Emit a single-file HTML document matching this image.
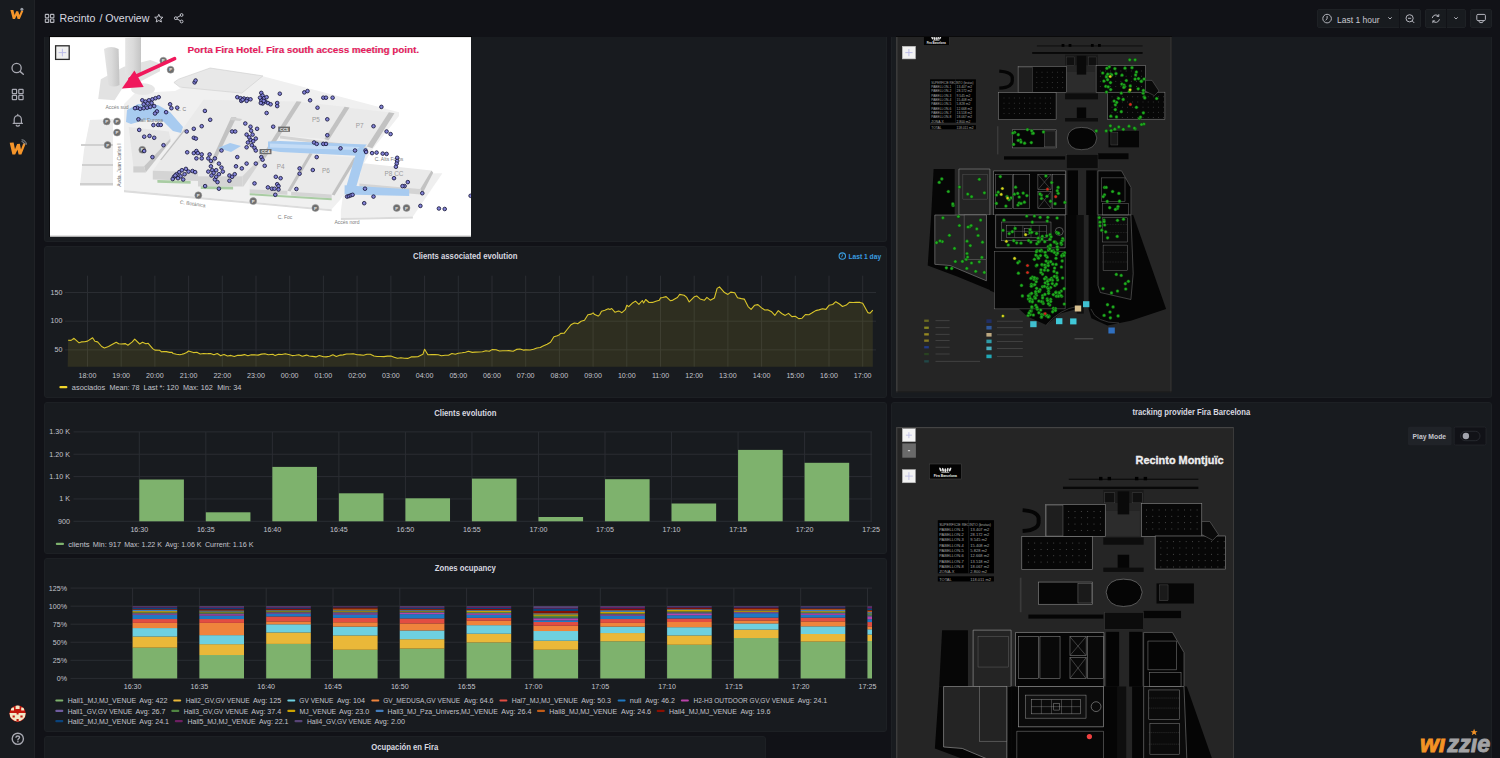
<!DOCTYPE html>
<html><head><meta charset="utf-8">
<style>
*{box-sizing:border-box;margin:0;padding:0}
html,body{width:1500px;height:758px;overflow:hidden;background:#111217;font-family:"Liberation Sans",sans-serif;color:#ccccdc}
.abs{position:absolute}
#side{position:absolute;left:0;top:0;width:35px;height:758px;background:#181b1f;border-right:1px solid #202226}
.panel{position:absolute;background:#181b1f;border:1px solid #1d2024;border-radius:3px;overflow:hidden}
.ptitle{position:absolute;left:0;right:0;text-align:center;font-weight:700;font-size:7.6px;color:#d8d9e0;white-space:nowrap}
.btn{position:absolute;background:#181b1f;border:1px solid #1e2125;border-radius:2px}
.tx{position:absolute;white-space:nowrap}
</style></head>
<body>
<!-- sidebar -->
<div id="side">
<svg width="35" height="758" viewBox="0 0 35 758" style="position:absolute;left:0;top:0">
 <!-- top W logo -->
 <path d="M10.4,10 L13.4,10 L14.6,15 L16.2,11.2 L18.2,11.2 L19.4,15 L21.2,10.6 L23.4,10.8 L19.8,19 L17.6,19 L16.6,15.4 L15,19 L12.8,19 Z" fill="#f5952a"/>
 <circle cx="21.9" cy="9.2" r="1.5" fill="#9aa0a8"/>
 <!-- search -->
 <circle cx="16.6" cy="68" r="4.6" fill="none" stroke="#a8a9b2" stroke-width="1.3"/>
 <line x1="20" y1="71.4" x2="23.3" y2="74.3" stroke="#a8a9b2" stroke-width="1.4" stroke-linecap="round"/>
 <!-- grid -->
 <g fill="none" stroke="#a8a9b2" stroke-width="1.2">
  <rect x="12.3" y="89.4" width="4.3" height="4.3" rx="0.6"/>
  <rect x="18.8" y="89.4" width="4.3" height="4.3" rx="0.6"/>
  <rect x="12.3" y="95.4" width="4.3" height="4.3" rx="0.6"/>
  <rect x="18.8" y="95.4" width="4.3" height="4.3" rx="0.6"/>
 </g>
 <!-- bell -->
 <path d="M14.2,123.2 L14.2,119.6 C14.2,117.4 15.8,115.6 17.8,115.6 C19.8,115.6 21.4,117.4 21.4,119.6 L21.4,123.2 M13.2,123.4 L22.4,123.4 M16.2,125.2 C16.6,126.4 19,126.4 19.4,125.2 M17.8,114.4 L17.8,115.4" fill="none" stroke="#a8a9b2" stroke-width="1.2" stroke-linecap="round" stroke-linejoin="round"/>
 <!-- wizzie W -->
 <path d="M9.7,142.8 L13.6,142.4 L15,149.2 L17.1,144 L19.8,143.8 L21,149.6 L23.2,143.4 L25.8,143.6 L21.4,154.6 L18.6,154.6 L17.5,149.8 L15.2,154.6 L12.4,154.6 Z" fill="#f5952a"/>
 <path d="M21.6,141.6 A3,3 0 0 1 24.6,144.6 M21.6,139.8 A4.8,4.8 0 0 1 26.4,144.6" fill="none" stroke="#9aa0a8" stroke-width="0.9"/>
 <!-- avatar -->
 <defs><clipPath id="av"><circle cx="17.6" cy="713.4" r="8"/></clipPath></defs>
 <circle cx="17.6" cy="713.6" r="8.2" fill="#c4180c"/>
 <g clip-path="url(#av)" fill="#f2e7c6">
  <rect x="15.6" y="705" width="4" height="4"/>
  <rect x="11" y="707.5" width="3" height="3"/><rect x="21.2" y="707.5" width="3" height="3"/>
  <rect x="9" y="713" width="17.5" height="9"/>
 </g>
 <g fill="#c4180c">
  <rect x="16.6" y="711.5" width="2" height="3"/>
  <rect x="12.6" y="715.5" width="2.2" height="2"/><rect x="20.4" y="715.5" width="2.2" height="2"/>
  <rect x="16.5" y="719" width="2.2" height="2.5"/>
 </g>
 <!-- help -->
 <circle cx="17.8" cy="738.8" r="5.6" fill="none" stroke="#a8a9b2" stroke-width="1.4"/>
 <path d="M16,737.3 C16,735.5 19.6,735.5 19.6,737.3 C19.6,738.5 17.9,738.5 17.9,739.9" fill="none" stroke="#a8a9b2" stroke-width="1.35" stroke-linecap="round"/>
 <circle cx="17.9" cy="741.7" r="0.8" fill="#a8a9b2"/>
</svg>
</div>

<!-- top bar -->
<div class="tx" style="left:59.5px;top:12px;font-size:10.6px;color:#d8d9e0">Recinto <span style="margin-left:1px">/ Overview</span></div>

<svg class="abs" style="left:40px;top:8px" width="150" height="22" viewBox="40 8 150 22">
 <g fill="none" stroke="#b4b5bd" stroke-width="1.1">
  <rect x="45.3" y="14.4" width="3.4" height="3.4" rx="0.5"/><rect x="50.5" y="14.4" width="3.4" height="3.4" rx="0.5"/>
  <rect x="45.3" y="19" width="3.4" height="3.4" rx="0.5"/><rect x="50.5" y="19" width="3.4" height="3.4" rx="0.5"/>
 </g>
 <path d="M158.8,14.3 L160,17 L162.9,17.3 L160.7,19.2 L161.4,22 L158.8,20.5 L156.2,22 L156.9,19.2 L154.7,17.3 L157.6,17 Z" fill="none" stroke="#c4c5cd" stroke-width="1" stroke-linejoin="round"/>
 <g fill="none" stroke="#c4c5cd" stroke-width="1">
  <circle cx="181.6" cy="15" r="1.4"/><circle cx="181.6" cy="21.5" r="1.4"/><circle cx="175.8" cy="18.2" r="1.4"/>
  <line x1="177" y1="17.5" x2="180.4" y2="15.7"/><line x1="177" y1="18.9" x2="180.4" y2="20.8"/>
 </g>
</svg>
<!-- time picker group -->
<div class="btn" style="left:1317px;top:9px;width:104px;height:19px"></div>
<div class="abs" style="left:1399px;top:9px;width:1px;height:19px;background:#111217"></div>
<div class="btn" style="left:1425px;top:9px;width:41px;height:19px"></div>
<div class="abs" style="left:1446px;top:9px;width:1px;height:19px;background:#111217"></div>
<div class="btn" style="left:1470px;top:9px;width:22px;height:19px"></div>
<div class="tx" style="left:1337px;top:14.6px;font-size:8.5px;color:#c8c9d1">Last 1 hour</div>
<svg class="abs" style="left:1317px;top:9px" width="176" height="19" viewBox="1317 9 176 19">
 <g fill="none" stroke="#b4b5bd" stroke-width="1">
  <circle cx="1327.1" cy="18.6" r="4.3"/><path d="M1327.1,16 L1327.1,18.8 L1325.6,20.2"/>
  <path d="M1388.6,17.6 L1390,19 L1391.4,17.6" stroke-linecap="round"/>
  <circle cx="1409.6" cy="18.3" r="3.6"/><line x1="1408" y1="18.3" x2="1411.2" y2="18.3"/><line x1="1412.3" y1="21" x2="1414" y2="22.7" stroke-linecap="round"/>
  <path d="M1432.3,17.7 A3.7,3.7 0 0 1 1438.7,16.2 M1439.4,19.6 A3.7,3.7 0 0 1 1433,21.1" stroke-linecap="round"/>
  <path d="M1438.8,14.6 L1438.8,16.4 L1437,16.4 M1432.9,22.7 L1432.9,20.9 L1434.7,20.9" stroke-linecap="round" stroke-linejoin="round"/>
  <path d="M1454.6,17.6 L1456,19 L1457.4,17.6" stroke-linecap="round"/>
  <rect x="1476.8" y="14.4" width="8.6" height="6.2" rx="1.2"/>
  <path d="M1478.6,20.6 L1479.8,22.6 L1482.4,22.6 L1483.6,20.6"/>
 </g>
</svg>

<!-- left column panels -->
<div class="panel" id="p1" style="left:44px;top:37px;width:843px;height:205px;border-top:none;border-top-left-radius:0;border-top-right-radius:0"></div>
<div class="panel" id="p2" style="left:44px;top:246px;width:843px;height:152px"></div>
<div class="panel" id="p3" style="left:44px;top:402px;width:843px;height:152px"></div>
<div class="panel" id="p4" style="left:44px;top:558px;width:843px;height:174px"></div>
<div class="panel" id="p5" style="left:44px;top:736px;width:722px;height:40px"></div>
<!-- right column -->
<div class="panel" id="p6" style="left:891px;top:37px;width:601px;height:361px;border-top:none;border-top-left-radius:0;border-top-right-radius:0"></div>
<div class="panel" id="p7" style="left:891px;top:402px;width:601px;height:380px"></div>

<svg class="abs" style="left:0;top:0" width="1500" height="758" viewBox="0 0 1500 758" font-family="Liberation Sans, sans-serif">
<text x="413.1" y="259.05" font-size="8.2" fill="#d8d9e0" text-anchor="start" font-weight="700" textLength="104.4" lengthAdjust="spacingAndGlyphs">Clients associated evolution</text>
<circle cx="842.3" cy="256.1" r="3.2" fill="none" stroke="#3a9de0" stroke-width="1.1"/><path d="M842.3,254.3 L842.3,256.3 L841.1,257" fill="none" stroke="#3a9de0" stroke-width="0.9"/>
<text x="848.5" y="259.10" font-size="7.5" fill="#3a9de0" text-anchor="start" font-weight="700" textLength="32.6" lengthAdjust="spacingAndGlyphs">Last 1 day</text>
<line x1="64.8" y1="292.5" x2="876" y2="292.5" stroke="#2a2d32" stroke-width="1"/>
<text x="62.4" y="294.57" font-size="7.7" fill="#c3c4cc" text-anchor="end" textLength="11.84" lengthAdjust="spacingAndGlyphs">150</text>
<line x1="64.8" y1="321.2" x2="876" y2="321.2" stroke="#2a2d32" stroke-width="1"/>
<text x="62.4" y="323.27" font-size="7.7" fill="#c3c4cc" text-anchor="end" textLength="11.84" lengthAdjust="spacingAndGlyphs">100</text>
<line x1="64.8" y1="349.9" x2="876" y2="349.9" stroke="#2a2d32" stroke-width="1"/>
<text x="62.4" y="351.97" font-size="7.7" fill="#c3c4cc" text-anchor="end" textLength="7.90" lengthAdjust="spacingAndGlyphs">50</text>
<line x1="87.5" y1="275.7" x2="87.5" y2="366.7" stroke="#2a2d32" stroke-width="1"/>
<text x="87.5" y="377.77" font-size="7.7" fill="#c3c4cc" text-anchor="middle" textLength="17.77" lengthAdjust="spacingAndGlyphs">18:00</text>
<line x1="121.2" y1="275.7" x2="121.2" y2="366.7" stroke="#2a2d32" stroke-width="1"/>
<text x="121.2" y="377.77" font-size="7.7" fill="#c3c4cc" text-anchor="middle" textLength="17.77" lengthAdjust="spacingAndGlyphs">19:00</text>
<line x1="154.9" y1="275.7" x2="154.9" y2="366.7" stroke="#2a2d32" stroke-width="1"/>
<text x="154.9" y="377.77" font-size="7.7" fill="#c3c4cc" text-anchor="middle" textLength="17.77" lengthAdjust="spacingAndGlyphs">20:00</text>
<line x1="188.6" y1="275.7" x2="188.6" y2="366.7" stroke="#2a2d32" stroke-width="1"/>
<text x="188.6" y="377.77" font-size="7.7" fill="#c3c4cc" text-anchor="middle" textLength="17.77" lengthAdjust="spacingAndGlyphs">21:00</text>
<line x1="222.3" y1="275.7" x2="222.3" y2="366.7" stroke="#2a2d32" stroke-width="1"/>
<text x="222.3" y="377.77" font-size="7.7" fill="#c3c4cc" text-anchor="middle" textLength="17.77" lengthAdjust="spacingAndGlyphs">22:00</text>
<line x1="256.0" y1="275.7" x2="256.0" y2="366.7" stroke="#2a2d32" stroke-width="1"/>
<text x="256.0" y="377.77" font-size="7.7" fill="#c3c4cc" text-anchor="middle" textLength="17.77" lengthAdjust="spacingAndGlyphs">23:00</text>
<line x1="289.7" y1="275.7" x2="289.7" y2="366.7" stroke="#2a2d32" stroke-width="1"/>
<text x="289.7" y="377.77" font-size="7.7" fill="#c3c4cc" text-anchor="middle" textLength="17.77" lengthAdjust="spacingAndGlyphs">00:00</text>
<line x1="323.4" y1="275.7" x2="323.4" y2="366.7" stroke="#2a2d32" stroke-width="1"/>
<text x="323.4" y="377.77" font-size="7.7" fill="#c3c4cc" text-anchor="middle" textLength="17.77" lengthAdjust="spacingAndGlyphs">01:00</text>
<line x1="357.1" y1="275.7" x2="357.1" y2="366.7" stroke="#2a2d32" stroke-width="1"/>
<text x="357.1" y="377.77" font-size="7.7" fill="#c3c4cc" text-anchor="middle" textLength="17.77" lengthAdjust="spacingAndGlyphs">02:00</text>
<line x1="390.9" y1="275.7" x2="390.9" y2="366.7" stroke="#2a2d32" stroke-width="1"/>
<text x="390.9" y="377.77" font-size="7.7" fill="#c3c4cc" text-anchor="middle" textLength="17.77" lengthAdjust="spacingAndGlyphs">03:00</text>
<line x1="424.6" y1="275.7" x2="424.6" y2="366.7" stroke="#2a2d32" stroke-width="1"/>
<text x="424.6" y="377.77" font-size="7.7" fill="#c3c4cc" text-anchor="middle" textLength="17.77" lengthAdjust="spacingAndGlyphs">04:00</text>
<line x1="458.3" y1="275.7" x2="458.3" y2="366.7" stroke="#2a2d32" stroke-width="1"/>
<text x="458.3" y="377.77" font-size="7.7" fill="#c3c4cc" text-anchor="middle" textLength="17.77" lengthAdjust="spacingAndGlyphs">05:00</text>
<line x1="492.0" y1="275.7" x2="492.0" y2="366.7" stroke="#2a2d32" stroke-width="1"/>
<text x="492.0" y="377.77" font-size="7.7" fill="#c3c4cc" text-anchor="middle" textLength="17.77" lengthAdjust="spacingAndGlyphs">06:00</text>
<line x1="525.7" y1="275.7" x2="525.7" y2="366.7" stroke="#2a2d32" stroke-width="1"/>
<text x="525.7" y="377.77" font-size="7.7" fill="#c3c4cc" text-anchor="middle" textLength="17.77" lengthAdjust="spacingAndGlyphs">07:00</text>
<line x1="559.4" y1="275.7" x2="559.4" y2="366.7" stroke="#2a2d32" stroke-width="1"/>
<text x="559.4" y="377.77" font-size="7.7" fill="#c3c4cc" text-anchor="middle" textLength="17.77" lengthAdjust="spacingAndGlyphs">08:00</text>
<line x1="593.1" y1="275.7" x2="593.1" y2="366.7" stroke="#2a2d32" stroke-width="1"/>
<text x="593.1" y="377.77" font-size="7.7" fill="#c3c4cc" text-anchor="middle" textLength="17.77" lengthAdjust="spacingAndGlyphs">09:00</text>
<line x1="626.8" y1="275.7" x2="626.8" y2="366.7" stroke="#2a2d32" stroke-width="1"/>
<text x="626.8" y="377.77" font-size="7.7" fill="#c3c4cc" text-anchor="middle" textLength="17.77" lengthAdjust="spacingAndGlyphs">10:00</text>
<line x1="660.5" y1="275.7" x2="660.5" y2="366.7" stroke="#2a2d32" stroke-width="1"/>
<text x="660.5" y="377.77" font-size="7.7" fill="#c3c4cc" text-anchor="middle" textLength="17.24" lengthAdjust="spacingAndGlyphs">11:00</text>
<line x1="694.2" y1="275.7" x2="694.2" y2="366.7" stroke="#2a2d32" stroke-width="1"/>
<text x="694.2" y="377.77" font-size="7.7" fill="#c3c4cc" text-anchor="middle" textLength="17.77" lengthAdjust="spacingAndGlyphs">12:00</text>
<line x1="727.9" y1="275.7" x2="727.9" y2="366.7" stroke="#2a2d32" stroke-width="1"/>
<text x="727.9" y="377.77" font-size="7.7" fill="#c3c4cc" text-anchor="middle" textLength="17.77" lengthAdjust="spacingAndGlyphs">13:00</text>
<line x1="761.6" y1="275.7" x2="761.6" y2="366.7" stroke="#2a2d32" stroke-width="1"/>
<text x="761.6" y="377.77" font-size="7.7" fill="#c3c4cc" text-anchor="middle" textLength="17.77" lengthAdjust="spacingAndGlyphs">14:00</text>
<line x1="795.3" y1="275.7" x2="795.3" y2="366.7" stroke="#2a2d32" stroke-width="1"/>
<text x="795.3" y="377.77" font-size="7.7" fill="#c3c4cc" text-anchor="middle" textLength="17.77" lengthAdjust="spacingAndGlyphs">15:00</text>
<line x1="829.0" y1="275.7" x2="829.0" y2="366.7" stroke="#2a2d32" stroke-width="1"/>
<text x="829.0" y="377.77" font-size="7.7" fill="#c3c4cc" text-anchor="middle" textLength="17.77" lengthAdjust="spacingAndGlyphs">16:00</text>
<line x1="862.7" y1="275.7" x2="862.7" y2="366.7" stroke="#2a2d32" stroke-width="1"/>
<text x="862.7" y="377.77" font-size="7.7" fill="#c3c4cc" text-anchor="middle" textLength="17.77" lengthAdjust="spacingAndGlyphs">17:00</text>
<polygon points="67.7,366.7 68.1,340.3 71.1,340.4 74.0,338.3 79.1,342.8 81.3,341.9 84.7,341.7 87.5,341.1 92.6,337.8 94.9,341.2 97.6,341.9 101.7,346.5 104.4,348.0 108.5,346.4 111.1,345.0 116.2,342.2 118.7,343.8 121.2,344.0 125.5,343.6 127.9,345.2 132.3,341.9 134.7,339.1 139.7,344.0 142.5,342.3 145.9,343.8 148.2,343.3 152.7,348.6 154.9,350.1 159.5,350.3 161.7,351.9 162.9,351.5 166.3,351.6 169.7,352.4 171.8,352.2 173.1,353.5 176.5,354.3 179.9,354.7 181.9,354.3 183.3,353.9 186.7,352.5 188.6,351.0 190.1,351.5 193.5,352.6 196.9,352.3 198.7,353.2 200.3,354.0 203.7,353.5 207.1,353.8 208.8,353.6 210.5,353.5 213.9,354.8 217.3,353.5 220.7,355.8 222.3,355.1 224.1,354.5 227.5,356.0 230.9,355.4 234.3,356.5 237.7,355.2 239.2,355.4 241.1,355.4 244.5,354.6 247.9,355.8 251.3,354.8 254.7,354.9 256.0,355.0 258.1,355.1 261.5,354.1 264.9,353.7 268.3,354.7 272.9,354.3 275.1,355.6 278.5,354.2 281.9,354.5 285.3,353.8 289.7,354.8 292.1,355.6 295.5,355.3 298.9,354.7 302.3,356.2 306.6,355.1 309.1,356.0 312.5,356.4 315.9,356.9 319.3,355.5 323.4,356.8 326.1,356.9 329.5,356.2 332.9,354.8 336.3,356.4 340.3,355.1 343.1,354.9 346.5,354.0 349.9,354.0 353.3,353.8 357.1,354.7 360.1,354.9 363.5,355.2 366.9,354.3 370.3,354.3 374.0,356.0 377.1,356.5 380.5,356.5 383.9,356.6 387.3,356.1 390.9,356.1 394.1,357.2 397.5,358.3 400.9,357.8 404.3,358.3 407.7,358.4 411.1,356.9 414.5,356.9 417.8,356.8 421.3,354.9 422.9,354.3 424.6,349.2 427.9,354.7 431.5,354.6 434.9,354.5 438.3,354.8 441.4,355.7 445.1,355.2 448.5,355.3 451.9,353.5 455.3,354.3 458.3,353.2 462.1,352.8 465.5,352.3 468.4,351.2 472.3,352.4 475.1,352.1 479.1,352.0 482.5,351.8 485.9,350.8 489.3,351.3 492.0,349.6 496.1,349.8 499.5,351.0 502.9,350.8 506.3,350.7 508.8,350.6 513.1,351.2 516.5,349.4 519.9,349.0 523.3,350.1 525.7,349.9 530.1,350.0 533.5,349.3 536.9,348.0 540.3,347.5 542.5,346.2 547.1,344.2 550.5,342.3 553.9,336.8 557.3,335.8 559.4,334.7 560.7,333.4 564.1,333.3 567.5,329.0 570.9,324.8 574.3,323.0 576.2,323.3 577.7,323.8 581.1,321.2 584.5,320.2 587.9,314.8 591.3,314.1 593.1,312.9 594.7,314.6 598.1,316.1 599.8,314.6 601.5,311.2 604.9,310.2 608.3,308.7 609.9,309.4 611.7,308.5 615.1,312.3 618.5,311.1 620.1,311.6 621.9,312.7 625.3,309.7 626.8,305.3 628.7,306.6 632.1,303.3 635.5,301.1 638.9,304.3 642.3,300.5 643.6,303.0 645.7,299.5 649.1,302.5 652.5,302.4 655.9,301.2 659.3,300.3 660.5,297.9 662.7,297.5 666.1,296.6 670.6,300.8 672.9,300.1 677.4,297.5 679.7,294.4 684.1,295.2 686.5,297.1 689.2,301.9 694.2,296.8 696.7,295.9 700.1,298.9 704.3,300.3 706.9,297.4 710.3,300.2 714.4,298.0 717.1,288.4 719.5,286.9 724.5,292.6 727.9,294.4 730.7,292.1 734.7,292.8 737.5,297.8 741.4,298.6 744.3,299.1 748.1,306.6 751.1,309.4 754.5,305.3 757.9,304.6 761.6,307.9 764.7,310.0 768.1,309.9 771.7,311.8 774.9,315.3 778.3,310.6 781.7,313.5 785.2,315.4 788.5,313.4 791.9,316.6 795.3,316.3 798.7,318.6 802.1,318.2 805.4,314.5 808.9,314.7 812.2,312.8 815.7,310.6 818.9,309.9 822.5,308.8 825.9,309.4 829.0,305.3 832.7,304.5 835.8,301.7 839.5,304.0 842.5,306.5 846.3,305.1 849.3,302.4 853.1,302.5 856.0,302.2 859.9,302.4 862.7,303.3 867.8,312.6 870.1,313.2 872.8,310.2 872.8,366.7" fill="rgb(220,200,40)" fill-opacity="0.112"/>
<polyline points="68.1,340.3 71.1,340.4 74.0,338.3 79.1,342.8 81.3,341.9 84.7,341.7 87.5,341.1 92.6,337.8 94.9,341.2 97.6,341.9 101.7,346.5 104.4,348.0 108.5,346.4 111.1,345.0 116.2,342.2 118.7,343.8 121.2,344.0 125.5,343.6 127.9,345.2 132.3,341.9 134.7,339.1 139.7,344.0 142.5,342.3 145.9,343.8 148.2,343.3 152.7,348.6 154.9,350.1 159.5,350.3 161.7,351.9 162.9,351.5 166.3,351.6 169.7,352.4 171.8,352.2 173.1,353.5 176.5,354.3 179.9,354.7 181.9,354.3 183.3,353.9 186.7,352.5 188.6,351.0 190.1,351.5 193.5,352.6 196.9,352.3 198.7,353.2 200.3,354.0 203.7,353.5 207.1,353.8 208.8,353.6 210.5,353.5 213.9,354.8 217.3,353.5 220.7,355.8 222.3,355.1 224.1,354.5 227.5,356.0 230.9,355.4 234.3,356.5 237.7,355.2 239.2,355.4 241.1,355.4 244.5,354.6 247.9,355.8 251.3,354.8 254.7,354.9 256.0,355.0 258.1,355.1 261.5,354.1 264.9,353.7 268.3,354.7 272.9,354.3 275.1,355.6 278.5,354.2 281.9,354.5 285.3,353.8 289.7,354.8 292.1,355.6 295.5,355.3 298.9,354.7 302.3,356.2 306.6,355.1 309.1,356.0 312.5,356.4 315.9,356.9 319.3,355.5 323.4,356.8 326.1,356.9 329.5,356.2 332.9,354.8 336.3,356.4 340.3,355.1 343.1,354.9 346.5,354.0 349.9,354.0 353.3,353.8 357.1,354.7 360.1,354.9 363.5,355.2 366.9,354.3 370.3,354.3 374.0,356.0 377.1,356.5 380.5,356.5 383.9,356.6 387.3,356.1 390.9,356.1 394.1,357.2 397.5,358.3 400.9,357.8 404.3,358.3 407.7,358.4 411.1,356.9 414.5,356.9 417.8,356.8 421.3,354.9 422.9,354.3 424.6,349.2 427.9,354.7 431.5,354.6 434.9,354.5 438.3,354.8 441.4,355.7 445.1,355.2 448.5,355.3 451.9,353.5 455.3,354.3 458.3,353.2 462.1,352.8 465.5,352.3 468.4,351.2 472.3,352.4 475.1,352.1 479.1,352.0 482.5,351.8 485.9,350.8 489.3,351.3 492.0,349.6 496.1,349.8 499.5,351.0 502.9,350.8 506.3,350.7 508.8,350.6 513.1,351.2 516.5,349.4 519.9,349.0 523.3,350.1 525.7,349.9 530.1,350.0 533.5,349.3 536.9,348.0 540.3,347.5 542.5,346.2 547.1,344.2 550.5,342.3 553.9,336.8 557.3,335.8 559.4,334.7 560.7,333.4 564.1,333.3 567.5,329.0 570.9,324.8 574.3,323.0 576.2,323.3 577.7,323.8 581.1,321.2 584.5,320.2 587.9,314.8 591.3,314.1 593.1,312.9 594.7,314.6 598.1,316.1 599.8,314.6 601.5,311.2 604.9,310.2 608.3,308.7 609.9,309.4 611.7,308.5 615.1,312.3 618.5,311.1 620.1,311.6 621.9,312.7 625.3,309.7 626.8,305.3 628.7,306.6 632.1,303.3 635.5,301.1 638.9,304.3 642.3,300.5 643.6,303.0 645.7,299.5 649.1,302.5 652.5,302.4 655.9,301.2 659.3,300.3 660.5,297.9 662.7,297.5 666.1,296.6 670.6,300.8 672.9,300.1 677.4,297.5 679.7,294.4 684.1,295.2 686.5,297.1 689.2,301.9 694.2,296.8 696.7,295.9 700.1,298.9 704.3,300.3 706.9,297.4 710.3,300.2 714.4,298.0 717.1,288.4 719.5,286.9 724.5,292.6 727.9,294.4 730.7,292.1 734.7,292.8 737.5,297.8 741.4,298.6 744.3,299.1 748.1,306.6 751.1,309.4 754.5,305.3 757.9,304.6 761.6,307.9 764.7,310.0 768.1,309.9 771.7,311.8 774.9,315.3 778.3,310.6 781.7,313.5 785.2,315.4 788.5,313.4 791.9,316.6 795.3,316.3 798.7,318.6 802.1,318.2 805.4,314.5 808.9,314.7 812.2,312.8 815.7,310.6 818.9,309.9 822.5,308.8 825.9,309.4 829.0,305.3 832.7,304.5 835.8,301.7 839.5,304.0 842.5,306.5 846.3,305.1 849.3,302.4 853.1,302.5 856.0,302.2 859.9,302.4 862.7,303.3 867.8,312.6 870.1,313.2 872.8,310.2" fill="none" stroke="#d9c52a" stroke-width="1.1" stroke-linejoin="round"/>
<rect x="59.4" y="386" width="8" height="2.2" rx="1" fill="#f2d62b"/>
<text x="434.2" y="415.55" font-size="8.2" fill="#d8d9e0" text-anchor="start" font-weight="700" textLength="62.2" lengthAdjust="spacingAndGlyphs">Clients evolution</text>
<line x1="73.5" y1="431.9" x2="872.1" y2="431.9" stroke="#2a2d32" stroke-width="1"/>
<text x="69.9" y="434.37" font-size="7.7" fill="#c3c4cc" text-anchor="end" textLength="20.53" lengthAdjust="spacingAndGlyphs">1.30 K</text>
<line x1="73.5" y1="454.25" x2="872.1" y2="454.25" stroke="#2a2d32" stroke-width="1"/>
<text x="69.9" y="456.72" font-size="7.7" fill="#c3c4cc" text-anchor="end" textLength="20.53" lengthAdjust="spacingAndGlyphs">1.20 K</text>
<line x1="73.5" y1="476.6" x2="872.1" y2="476.6" stroke="#2a2d32" stroke-width="1"/>
<text x="69.9" y="479.07" font-size="7.7" fill="#c3c4cc" text-anchor="end" textLength="20.53" lengthAdjust="spacingAndGlyphs">1.10 K</text>
<line x1="73.5" y1="498.95" x2="872.1" y2="498.95" stroke="#2a2d32" stroke-width="1"/>
<text x="69.9" y="501.42" font-size="7.7" fill="#c3c4cc" text-anchor="end" textLength="10.66" lengthAdjust="spacingAndGlyphs">1 K</text>
<line x1="73.5" y1="521.3" x2="872.1" y2="521.3" stroke="#2a2d32" stroke-width="1"/>
<text x="69.9" y="523.77" font-size="7.7" fill="#c3c4cc" text-anchor="end" textLength="11.84" lengthAdjust="spacingAndGlyphs">900</text>
<line x1="139.3" y1="431.9" x2="139.3" y2="521.3" stroke="#2a2d32" stroke-width="1"/>
<text x="139.3" y="532.07" font-size="7.7" fill="#c3c4cc" text-anchor="middle" textLength="17.77" lengthAdjust="spacingAndGlyphs">16:30</text>
<line x1="205.83" y1="431.9" x2="205.83" y2="521.3" stroke="#2a2d32" stroke-width="1"/>
<text x="205.8" y="532.07" font-size="7.7" fill="#c3c4cc" text-anchor="middle" textLength="17.77" lengthAdjust="spacingAndGlyphs">16:35</text>
<line x1="272.36" y1="431.9" x2="272.36" y2="521.3" stroke="#2a2d32" stroke-width="1"/>
<text x="272.4" y="532.07" font-size="7.7" fill="#c3c4cc" text-anchor="middle" textLength="17.77" lengthAdjust="spacingAndGlyphs">16:40</text>
<line x1="338.89" y1="431.9" x2="338.89" y2="521.3" stroke="#2a2d32" stroke-width="1"/>
<text x="338.9" y="532.07" font-size="7.7" fill="#c3c4cc" text-anchor="middle" textLength="17.77" lengthAdjust="spacingAndGlyphs">16:45</text>
<line x1="405.42" y1="431.9" x2="405.42" y2="521.3" stroke="#2a2d32" stroke-width="1"/>
<text x="405.4" y="532.07" font-size="7.7" fill="#c3c4cc" text-anchor="middle" textLength="17.77" lengthAdjust="spacingAndGlyphs">16:50</text>
<line x1="471.95" y1="431.9" x2="471.95" y2="521.3" stroke="#2a2d32" stroke-width="1"/>
<text x="471.9" y="532.07" font-size="7.7" fill="#c3c4cc" text-anchor="middle" textLength="17.77" lengthAdjust="spacingAndGlyphs">16:55</text>
<line x1="538.48" y1="431.9" x2="538.48" y2="521.3" stroke="#2a2d32" stroke-width="1"/>
<text x="538.5" y="532.07" font-size="7.7" fill="#c3c4cc" text-anchor="middle" textLength="17.77" lengthAdjust="spacingAndGlyphs">17:00</text>
<line x1="605.01" y1="431.9" x2="605.01" y2="521.3" stroke="#2a2d32" stroke-width="1"/>
<text x="605.0" y="532.07" font-size="7.7" fill="#c3c4cc" text-anchor="middle" textLength="17.77" lengthAdjust="spacingAndGlyphs">17:05</text>
<line x1="671.54" y1="431.9" x2="671.54" y2="521.3" stroke="#2a2d32" stroke-width="1"/>
<text x="671.5" y="532.07" font-size="7.7" fill="#c3c4cc" text-anchor="middle" textLength="17.77" lengthAdjust="spacingAndGlyphs">17:10</text>
<line x1="738.07" y1="431.9" x2="738.07" y2="521.3" stroke="#2a2d32" stroke-width="1"/>
<text x="738.1" y="532.07" font-size="7.7" fill="#c3c4cc" text-anchor="middle" textLength="17.77" lengthAdjust="spacingAndGlyphs">17:15</text>
<line x1="804.6" y1="431.9" x2="804.6" y2="521.3" stroke="#2a2d32" stroke-width="1"/>
<text x="804.6" y="532.07" font-size="7.7" fill="#c3c4cc" text-anchor="middle" textLength="17.77" lengthAdjust="spacingAndGlyphs">17:20</text>
<line x1="871.13" y1="431.9" x2="871.13" y2="521.3" stroke="#2a2d32" stroke-width="1"/>
<text x="871.1" y="532.07" font-size="7.7" fill="#c3c4cc" text-anchor="middle" textLength="17.77" lengthAdjust="spacingAndGlyphs">17:25</text>
<rect x="139.3" y="479.5" width="44.6" height="41.8" fill="#7eb26d"/>
<rect x="205.83" y="512.3" width="44.6" height="9.0" fill="#7eb26d"/>
<rect x="272.36" y="466.9" width="44.6" height="54.4" fill="#7eb26d"/>
<rect x="338.89" y="493.3" width="44.6" height="28.0" fill="#7eb26d"/>
<rect x="405.42" y="498.3" width="44.6" height="23.0" fill="#7eb26d"/>
<rect x="471.95" y="478.6" width="44.6" height="42.7" fill="#7eb26d"/>
<rect x="538.48" y="517" width="44.6" height="4.3" fill="#7eb26d"/>
<rect x="605.01" y="479.2" width="44.6" height="42.1" fill="#7eb26d"/>
<rect x="671.54" y="503.5" width="44.6" height="17.8" fill="#7eb26d"/>
<rect x="738.07" y="449.9" width="44.6" height="71.4" fill="#7eb26d"/>
<rect x="804.6" y="462.8" width="44.6" height="58.5" fill="#7eb26d"/>
<rect x="55.8" y="542.8" width="8.2" height="2.2" rx="1" fill="#7eb26d"/>
<text x="434.8" y="571.45" font-size="8.2" fill="#d8d9e0" text-anchor="start" font-weight="700" textLength="61.0" lengthAdjust="spacingAndGlyphs">Zones ocupancy</text>
<line x1="70.5" y1="588.1" x2="872" y2="588.1" stroke="#2a2d32" stroke-width="1"/>
<text x="67.0" y="590.57" font-size="7.7" fill="#c3c4cc" text-anchor="end" textLength="18.16" lengthAdjust="spacingAndGlyphs">125%</text>
<line x1="70.5" y1="606.15" x2="872" y2="606.15" stroke="#2a2d32" stroke-width="1"/>
<text x="67.0" y="608.62" font-size="7.7" fill="#c3c4cc" text-anchor="end" textLength="18.16" lengthAdjust="spacingAndGlyphs">100%</text>
<line x1="70.5" y1="624.2" x2="872" y2="624.2" stroke="#2a2d32" stroke-width="1"/>
<text x="67.0" y="626.67" font-size="7.7" fill="#c3c4cc" text-anchor="end" textLength="14.21" lengthAdjust="spacingAndGlyphs">75%</text>
<line x1="70.5" y1="642.25" x2="872" y2="642.25" stroke="#2a2d32" stroke-width="1"/>
<text x="67.0" y="644.72" font-size="7.7" fill="#c3c4cc" text-anchor="end" textLength="14.21" lengthAdjust="spacingAndGlyphs">50%</text>
<line x1="70.5" y1="660.3" x2="872" y2="660.3" stroke="#2a2d32" stroke-width="1"/>
<text x="67.0" y="662.77" font-size="7.7" fill="#c3c4cc" text-anchor="end" textLength="14.21" lengthAdjust="spacingAndGlyphs">25%</text>
<line x1="70.5" y1="678.4" x2="872" y2="678.4" stroke="#2a2d32" stroke-width="1"/>
<text x="67.0" y="680.87" font-size="7.7" fill="#c3c4cc" text-anchor="end" textLength="10.26" lengthAdjust="spacingAndGlyphs">0%</text>
<line x1="132.6" y1="588.1" x2="132.6" y2="678.4" stroke="#2a2d32" stroke-width="1"/>
<text x="132.6" y="688.87" font-size="7.7" fill="#c3c4cc" text-anchor="middle" textLength="17.77" lengthAdjust="spacingAndGlyphs">16:30</text>
<line x1="199.4" y1="588.1" x2="199.4" y2="678.4" stroke="#2a2d32" stroke-width="1"/>
<text x="199.4" y="688.87" font-size="7.7" fill="#c3c4cc" text-anchor="middle" textLength="17.77" lengthAdjust="spacingAndGlyphs">16:35</text>
<line x1="266.2" y1="588.1" x2="266.2" y2="678.4" stroke="#2a2d32" stroke-width="1"/>
<text x="266.2" y="688.87" font-size="7.7" fill="#c3c4cc" text-anchor="middle" textLength="17.77" lengthAdjust="spacingAndGlyphs">16:40</text>
<line x1="333.0" y1="588.1" x2="333.0" y2="678.4" stroke="#2a2d32" stroke-width="1"/>
<text x="333.0" y="688.87" font-size="7.7" fill="#c3c4cc" text-anchor="middle" textLength="17.77" lengthAdjust="spacingAndGlyphs">16:45</text>
<line x1="399.8" y1="588.1" x2="399.8" y2="678.4" stroke="#2a2d32" stroke-width="1"/>
<text x="399.8" y="688.87" font-size="7.7" fill="#c3c4cc" text-anchor="middle" textLength="17.77" lengthAdjust="spacingAndGlyphs">16:50</text>
<line x1="466.6" y1="588.1" x2="466.6" y2="678.4" stroke="#2a2d32" stroke-width="1"/>
<text x="466.6" y="688.87" font-size="7.7" fill="#c3c4cc" text-anchor="middle" textLength="17.77" lengthAdjust="spacingAndGlyphs">16:55</text>
<line x1="533.5" y1="588.1" x2="533.5" y2="678.4" stroke="#2a2d32" stroke-width="1"/>
<text x="533.5" y="688.87" font-size="7.7" fill="#c3c4cc" text-anchor="middle" textLength="17.77" lengthAdjust="spacingAndGlyphs">17:00</text>
<line x1="600.3" y1="588.1" x2="600.3" y2="678.4" stroke="#2a2d32" stroke-width="1"/>
<text x="600.3" y="688.87" font-size="7.7" fill="#c3c4cc" text-anchor="middle" textLength="17.77" lengthAdjust="spacingAndGlyphs">17:05</text>
<line x1="667.1" y1="588.1" x2="667.1" y2="678.4" stroke="#2a2d32" stroke-width="1"/>
<text x="667.1" y="688.87" font-size="7.7" fill="#c3c4cc" text-anchor="middle" textLength="17.77" lengthAdjust="spacingAndGlyphs">17:10</text>
<line x1="733.9" y1="588.1" x2="733.9" y2="678.4" stroke="#2a2d32" stroke-width="1"/>
<text x="733.9" y="688.87" font-size="7.7" fill="#c3c4cc" text-anchor="middle" textLength="17.77" lengthAdjust="spacingAndGlyphs">17:15</text>
<line x1="800.7" y1="588.1" x2="800.7" y2="678.4" stroke="#2a2d32" stroke-width="1"/>
<text x="800.7" y="688.87" font-size="7.7" fill="#c3c4cc" text-anchor="middle" textLength="17.77" lengthAdjust="spacingAndGlyphs">17:20</text>
<line x1="867.5" y1="588.1" x2="867.5" y2="678.4" stroke="#2a2d32" stroke-width="1"/>
<text x="867.5" y="688.87" font-size="7.7" fill="#c3c4cc" text-anchor="middle" textLength="17.77" lengthAdjust="spacingAndGlyphs">17:25</text>
<defs><clipPath id="c4"><rect x="69" y="580" width="803" height="100"/></clipPath></defs><g clip-path="url(#c4)">
<rect x="132.6" y="647.62" width="44.6" height="30.83" fill="#7EB26D"/>
<rect x="132.6" y="636.50" width="44.6" height="11.18" fill="#EAB839"/>
<rect x="132.6" y="628.04" width="44.6" height="8.50" fill="#6ED0E0"/>
<rect x="132.6" y="622.84" width="44.6" height="5.25" fill="#EF843C"/>
<rect x="132.6" y="619.01" width="44.6" height="3.88" fill="#E24D42"/>
<rect x="132.6" y="614.96" width="44.6" height="4.10" fill="#1F78C1"/>
<rect x="132.6" y="614.29" width="44.6" height="0.73" fill="#BA43A9"/>
<rect x="132.6" y="613.17" width="44.6" height="1.17" fill="#705DA0"/>
<rect x="132.6" y="612.30" width="44.6" height="0.92" fill="#508642"/>
<rect x="132.6" y="611.09" width="44.6" height="1.26" fill="#CCA300"/>
<rect x="132.6" y="609.85" width="44.6" height="1.29" fill="#447EBC"/>
<rect x="132.6" y="609.43" width="44.6" height="0.48" fill="#C15C17"/>
<rect x="132.6" y="609.07" width="44.6" height="0.40" fill="#890F02"/>
<rect x="132.6" y="607.53" width="44.6" height="1.59" fill="#0A437C"/>
<rect x="132.6" y="606.82" width="44.6" height="0.76" fill="#6D1F62"/>
<rect x="132.6" y="606.15" width="44.6" height="0.72" fill="#584477"/>
<rect x="199.4" y="654.99" width="44.6" height="23.46" fill="#7EB26D"/>
<rect x="199.4" y="644.15" width="44.6" height="10.89" fill="#EAB839"/>
<rect x="199.4" y="635.12" width="44.6" height="9.08" fill="#6ED0E0"/>
<rect x="199.4" y="622.84" width="44.6" height="12.33" fill="#EF843C"/>
<rect x="199.4" y="619.01" width="44.6" height="3.88" fill="#E24D42"/>
<rect x="199.4" y="615.54" width="44.6" height="3.52" fill="#1F78C1"/>
<rect x="199.4" y="614.21" width="44.6" height="1.38" fill="#BA43A9"/>
<rect x="199.4" y="613.45" width="44.6" height="0.81" fill="#705DA0"/>
<rect x="199.4" y="612.29" width="44.6" height="1.21" fill="#508642"/>
<rect x="199.4" y="611.52" width="44.6" height="0.82" fill="#CCA300"/>
<rect x="199.4" y="610.57" width="44.6" height="1.00" fill="#447EBC"/>
<rect x="199.4" y="610.16" width="44.6" height="0.46" fill="#C15C17"/>
<rect x="199.4" y="609.22" width="44.6" height="0.99" fill="#890F02"/>
<rect x="199.4" y="608.03" width="44.6" height="1.24" fill="#0A437C"/>
<rect x="199.4" y="607.21" width="44.6" height="0.87" fill="#6D1F62"/>
<rect x="199.4" y="606.15" width="44.6" height="1.11" fill="#584477"/>
<rect x="266.2" y="643.86" width="44.6" height="34.59" fill="#7EB26D"/>
<rect x="266.2" y="632.45" width="44.6" height="11.47" fill="#EAB839"/>
<rect x="266.2" y="624.28" width="44.6" height="8.21" fill="#6ED0E0"/>
<rect x="266.2" y="621.39" width="44.6" height="2.94" fill="#EF843C"/>
<rect x="266.2" y="616.41" width="44.6" height="5.04" fill="#E24D42"/>
<rect x="266.2" y="613.45" width="44.6" height="3.01" fill="#1F78C1"/>
<rect x="266.2" y="612.59" width="44.6" height="0.91" fill="#BA43A9"/>
<rect x="266.2" y="612.31" width="44.6" height="0.33" fill="#705DA0"/>
<rect x="266.2" y="611.36" width="44.6" height="0.99" fill="#508642"/>
<rect x="266.2" y="610.58" width="44.6" height="0.83" fill="#CCA300"/>
<rect x="266.2" y="610.08" width="44.6" height="0.56" fill="#447EBC"/>
<rect x="266.2" y="609.83" width="44.6" height="0.30" fill="#C15C17"/>
<rect x="266.2" y="608.78" width="44.6" height="1.09" fill="#890F02"/>
<rect x="266.2" y="608.11" width="44.6" height="0.72" fill="#0A437C"/>
<rect x="266.2" y="607.21" width="44.6" height="0.95" fill="#6D1F62"/>
<rect x="266.2" y="606.15" width="44.6" height="1.11" fill="#584477"/>
<rect x="333.0" y="649.72" width="44.6" height="28.73" fill="#7EB26D"/>
<rect x="333.0" y="635.41" width="44.6" height="14.36" fill="#EAB839"/>
<rect x="333.0" y="626.60" width="44.6" height="8.86" fill="#6ED0E0"/>
<rect x="333.0" y="622.26" width="44.6" height="4.38" fill="#EF843C"/>
<rect x="333.0" y="617.85" width="44.6" height="4.46" fill="#E24D42"/>
<rect x="333.0" y="614.46" width="44.6" height="3.45" fill="#1F78C1"/>
<rect x="333.0" y="613.46" width="44.6" height="1.05" fill="#BA43A9"/>
<rect x="333.0" y="612.24" width="44.6" height="1.27" fill="#705DA0"/>
<rect x="333.0" y="611.58" width="44.6" height="0.71" fill="#508642"/>
<rect x="333.0" y="610.48" width="44.6" height="1.14" fill="#CCA300"/>
<rect x="333.0" y="609.77" width="44.6" height="0.77" fill="#447EBC"/>
<rect x="333.0" y="608.53" width="44.6" height="1.28" fill="#C15C17"/>
<rect x="333.0" y="607.36" width="44.6" height="1.22" fill="#890F02"/>
<rect x="333.0" y="607.01" width="44.6" height="0.40" fill="#0A437C"/>
<rect x="333.0" y="606.62" width="44.6" height="0.44" fill="#6D1F62"/>
<rect x="333.0" y="606.15" width="44.6" height="0.52" fill="#584477"/>
<rect x="399.8" y="648.56" width="44.6" height="29.89" fill="#7EB26D"/>
<rect x="399.8" y="639.17" width="44.6" height="9.44" fill="#EAB839"/>
<rect x="399.8" y="630.43" width="44.6" height="8.79" fill="#6ED0E0"/>
<rect x="399.8" y="623.42" width="44.6" height="7.06" fill="#EF843C"/>
<rect x="399.8" y="618.43" width="44.6" height="5.04" fill="#E24D42"/>
<rect x="399.8" y="614.10" width="44.6" height="4.39" fill="#1F78C1"/>
<rect x="399.8" y="612.90" width="44.6" height="1.25" fill="#BA43A9"/>
<rect x="399.8" y="612.24" width="44.6" height="0.72" fill="#705DA0"/>
<rect x="399.8" y="611.38" width="44.6" height="0.91" fill="#508642"/>
<rect x="399.8" y="610.85" width="44.6" height="0.58" fill="#CCA300"/>
<rect x="399.8" y="610.11" width="44.6" height="0.79" fill="#447EBC"/>
<rect x="399.8" y="609.49" width="44.6" height="0.67" fill="#C15C17"/>
<rect x="399.8" y="608.91" width="44.6" height="0.63" fill="#890F02"/>
<rect x="399.8" y="608.10" width="44.6" height="0.87" fill="#0A437C"/>
<rect x="399.8" y="607.28" width="44.6" height="0.86" fill="#6D1F62"/>
<rect x="399.8" y="606.15" width="44.6" height="1.18" fill="#584477"/>
<rect x="466.6" y="642.42" width="44.6" height="36.03" fill="#7EB26D"/>
<rect x="466.6" y="633.68" width="44.6" height="8.79" fill="#EAB839"/>
<rect x="466.6" y="625.15" width="44.6" height="8.58" fill="#6ED0E0"/>
<rect x="466.6" y="620.74" width="44.6" height="4.46" fill="#EF843C"/>
<rect x="466.6" y="617.85" width="44.6" height="2.94" fill="#E24D42"/>
<rect x="466.6" y="614.82" width="44.6" height="3.08" fill="#1F78C1"/>
<rect x="466.6" y="614.02" width="44.6" height="0.85" fill="#BA43A9"/>
<rect x="466.6" y="613.00" width="44.6" height="1.07" fill="#705DA0"/>
<rect x="466.6" y="612.05" width="44.6" height="1.00" fill="#508642"/>
<rect x="466.6" y="610.98" width="44.6" height="1.12" fill="#CCA300"/>
<rect x="466.6" y="610.19" width="44.6" height="0.84" fill="#447EBC"/>
<rect x="466.6" y="609.85" width="44.6" height="0.39" fill="#C15C17"/>
<rect x="466.6" y="608.89" width="44.6" height="1.01" fill="#890F02"/>
<rect x="466.6" y="607.84" width="44.6" height="1.10" fill="#0A437C"/>
<rect x="466.6" y="606.85" width="44.6" height="1.04" fill="#6D1F62"/>
<rect x="466.6" y="606.15" width="44.6" height="0.75" fill="#584477"/>
<rect x="533.5" y="649.72" width="44.6" height="28.73" fill="#7EB26D"/>
<rect x="533.5" y="640.69" width="44.6" height="9.08" fill="#EAB839"/>
<rect x="533.5" y="631.00" width="44.6" height="9.73" fill="#6ED0E0"/>
<rect x="533.5" y="625.73" width="44.6" height="5.32" fill="#EF843C"/>
<rect x="533.5" y="621.97" width="44.6" height="3.81" fill="#E24D42"/>
<rect x="533.5" y="620.24" width="44.6" height="1.78" fill="#1F78C1"/>
<rect x="533.5" y="618.51" width="44.6" height="1.77" fill="#BA43A9"/>
<rect x="533.5" y="617.71" width="44.6" height="0.86" fill="#705DA0"/>
<rect x="533.5" y="615.77" width="44.6" height="1.99" fill="#508642"/>
<rect x="533.5" y="614.30" width="44.6" height="1.52" fill="#CCA300"/>
<rect x="533.5" y="613.36" width="44.6" height="0.99" fill="#447EBC"/>
<rect x="533.5" y="612.82" width="44.6" height="0.59" fill="#C15C17"/>
<rect x="533.5" y="610.84" width="44.6" height="2.03" fill="#890F02"/>
<rect x="533.5" y="608.62" width="44.6" height="2.28" fill="#0A437C"/>
<rect x="533.5" y="608.03" width="44.6" height="0.63" fill="#6D1F62"/>
<rect x="533.5" y="606.15" width="44.6" height="1.93" fill="#584477"/>
<rect x="600.3" y="641.26" width="44.6" height="37.19" fill="#7EB26D"/>
<rect x="600.3" y="633.03" width="44.6" height="8.29" fill="#EAB839"/>
<rect x="600.3" y="626.60" width="44.6" height="6.48" fill="#6ED0E0"/>
<rect x="600.3" y="622.84" width="44.6" height="3.81" fill="#EF843C"/>
<rect x="600.3" y="619.01" width="44.6" height="3.88" fill="#E24D42"/>
<rect x="600.3" y="615.54" width="44.6" height="3.52" fill="#1F78C1"/>
<rect x="600.3" y="614.62" width="44.6" height="0.97" fill="#BA43A9"/>
<rect x="600.3" y="614.08" width="44.6" height="0.60" fill="#705DA0"/>
<rect x="600.3" y="613.33" width="44.6" height="0.80" fill="#508642"/>
<rect x="600.3" y="611.89" width="44.6" height="1.48" fill="#CCA300"/>
<rect x="600.3" y="610.31" width="44.6" height="1.63" fill="#447EBC"/>
<rect x="600.3" y="609.92" width="44.6" height="0.44" fill="#C15C17"/>
<rect x="600.3" y="608.71" width="44.6" height="1.26" fill="#890F02"/>
<rect x="600.3" y="608.31" width="44.6" height="0.44" fill="#0A437C"/>
<rect x="600.3" y="606.95" width="44.6" height="1.41" fill="#6D1F62"/>
<rect x="600.3" y="606.15" width="44.6" height="0.85" fill="#584477"/>
<rect x="667.1" y="644.73" width="44.6" height="33.72" fill="#7EB26D"/>
<rect x="667.1" y="635.41" width="44.6" height="9.37" fill="#EAB839"/>
<rect x="667.1" y="627.17" width="44.6" height="8.29" fill="#6ED0E0"/>
<rect x="667.1" y="621.97" width="44.6" height="5.25" fill="#EF843C"/>
<rect x="667.1" y="618.43" width="44.6" height="3.59" fill="#E24D42"/>
<rect x="667.1" y="615.18" width="44.6" height="3.30" fill="#1F78C1"/>
<rect x="667.1" y="613.81" width="44.6" height="1.43" fill="#BA43A9"/>
<rect x="667.1" y="612.31" width="44.6" height="1.55" fill="#705DA0"/>
<rect x="667.1" y="611.39" width="44.6" height="0.96" fill="#508642"/>
<rect x="667.1" y="609.87" width="44.6" height="1.57" fill="#CCA300"/>
<rect x="667.1" y="609.20" width="44.6" height="0.72" fill="#447EBC"/>
<rect x="667.1" y="608.82" width="44.6" height="0.43" fill="#C15C17"/>
<rect x="667.1" y="607.80" width="44.6" height="1.08" fill="#890F02"/>
<rect x="667.1" y="607.47" width="44.6" height="0.37" fill="#0A437C"/>
<rect x="667.1" y="606.94" width="44.6" height="0.58" fill="#6D1F62"/>
<rect x="667.1" y="606.15" width="44.6" height="0.84" fill="#584477"/>
<rect x="733.9" y="638.01" width="44.6" height="40.44" fill="#7EB26D"/>
<rect x="733.9" y="629.56" width="44.6" height="8.50" fill="#EAB839"/>
<rect x="733.9" y="623.42" width="44.6" height="6.19" fill="#6ED0E0"/>
<rect x="733.9" y="620.46" width="44.6" height="3.01" fill="#EF843C"/>
<rect x="733.9" y="617.57" width="44.6" height="2.94" fill="#E24D42"/>
<rect x="733.9" y="613.16" width="44.6" height="4.46" fill="#1F78C1"/>
<rect x="733.9" y="612.37" width="44.6" height="0.83" fill="#BA43A9"/>
<rect x="733.9" y="612.01" width="44.6" height="0.41" fill="#705DA0"/>
<rect x="733.9" y="611.76" width="44.6" height="0.30" fill="#508642"/>
<rect x="733.9" y="610.73" width="44.6" height="1.07" fill="#CCA300"/>
<rect x="733.9" y="610.22" width="44.6" height="0.56" fill="#447EBC"/>
<rect x="733.9" y="609.11" width="44.6" height="1.16" fill="#C15C17"/>
<rect x="733.9" y="608.06" width="44.6" height="1.10" fill="#890F02"/>
<rect x="733.9" y="607.50" width="44.6" height="0.62" fill="#0A437C"/>
<rect x="733.9" y="606.85" width="44.6" height="0.69" fill="#6D1F62"/>
<rect x="733.9" y="606.15" width="44.6" height="0.75" fill="#584477"/>
<rect x="800.7" y="641.55" width="44.6" height="36.90" fill="#7EB26D"/>
<rect x="800.7" y="633.97" width="44.6" height="7.64" fill="#EAB839"/>
<rect x="800.7" y="626.31" width="44.6" height="7.71" fill="#6ED0E0"/>
<rect x="800.7" y="621.39" width="44.6" height="4.96" fill="#EF843C"/>
<rect x="800.7" y="617.57" width="44.6" height="3.88" fill="#E24D42"/>
<rect x="800.7" y="614.82" width="44.6" height="2.80" fill="#1F78C1"/>
<rect x="800.7" y="613.86" width="44.6" height="1.01" fill="#BA43A9"/>
<rect x="800.7" y="612.94" width="44.6" height="0.96" fill="#705DA0"/>
<rect x="800.7" y="612.07" width="44.6" height="0.92" fill="#508642"/>
<rect x="800.7" y="611.14" width="44.6" height="0.99" fill="#CCA300"/>
<rect x="800.7" y="609.84" width="44.6" height="1.34" fill="#447EBC"/>
<rect x="800.7" y="609.03" width="44.6" height="0.86" fill="#C15C17"/>
<rect x="800.7" y="608.30" width="44.6" height="0.78" fill="#890F02"/>
<rect x="800.7" y="607.25" width="44.6" height="1.10" fill="#0A437C"/>
<rect x="800.7" y="606.74" width="44.6" height="0.57" fill="#6D1F62"/>
<rect x="800.7" y="606.15" width="44.6" height="0.64" fill="#584477"/>
<rect x="867.5" y="640.97" width="44.6" height="37.48" fill="#7EB26D"/>
<rect x="867.5" y="634.54" width="44.6" height="6.48" fill="#EAB839"/>
<rect x="867.5" y="629.27" width="44.6" height="5.32" fill="#6ED0E0"/>
<rect x="867.5" y="626.38" width="44.6" height="2.94" fill="#EF843C"/>
<rect x="867.5" y="622.04" width="44.6" height="4.39" fill="#E24D42"/>
<rect x="867.5" y="619.15" width="44.6" height="2.94" fill="#1F78C1"/>
<rect x="867.5" y="616.81" width="44.6" height="2.40" fill="#BA43A9"/>
<rect x="867.5" y="615.34" width="44.6" height="1.51" fill="#705DA0"/>
<rect x="867.5" y="613.83" width="44.6" height="1.56" fill="#508642"/>
<rect x="867.5" y="613.36" width="44.6" height="0.52" fill="#CCA300"/>
<rect x="867.5" y="612.10" width="44.6" height="1.31" fill="#447EBC"/>
<rect x="867.5" y="610.53" width="44.6" height="1.63" fill="#C15C17"/>
<rect x="867.5" y="610.04" width="44.6" height="0.54" fill="#890F02"/>
<rect x="867.5" y="608.39" width="44.6" height="1.70" fill="#0A437C"/>
<rect x="867.5" y="606.72" width="44.6" height="1.73" fill="#6D1F62"/>
<rect x="867.5" y="606.15" width="44.6" height="0.62" fill="#584477"/>
</g>
<rect x="55.3" y="699.4" width="8" height="2.2" rx="1" fill="#7EB26D"/>
<text x="67.8" y="703.27" font-size="7.7" fill="#c3c4cc" text-anchor="start" textLength="68.4" lengthAdjust="spacingAndGlyphs">Hall1_MJ,MJ_VENUE</text>
<text x="139.3" y="703.27" font-size="7.7" fill="#c3c4cc" text-anchor="start" textLength="28.3" lengthAdjust="spacingAndGlyphs">Avg: 422</text>
<rect x="173.2" y="699.4" width="8" height="2.2" rx="1" fill="#EAB839"/>
<text x="185.7" y="703.27" font-size="7.7" fill="#c3c4cc" text-anchor="start" textLength="64.1" lengthAdjust="spacingAndGlyphs">Hall2_GV,GV VENUE</text>
<text x="252.9" y="703.27" font-size="7.7" fill="#c3c4cc" text-anchor="start" textLength="28.3" lengthAdjust="spacingAndGlyphs">Avg: 125</text>
<rect x="287.3" y="699.4" width="8" height="2.2" rx="1" fill="#6ED0E0"/>
<text x="299.3" y="703.27" font-size="7.7" fill="#c3c4cc" text-anchor="start" textLength="34.2" lengthAdjust="spacingAndGlyphs">GV VENUE</text>
<text x="336.9" y="703.27" font-size="7.7" fill="#c3c4cc" text-anchor="start" textLength="28.1" lengthAdjust="spacingAndGlyphs">Avg: 104</text>
<rect x="371.3" y="699.4" width="8" height="2.2" rx="1" fill="#EF843C"/>
<text x="383.2" y="703.27" font-size="7.7" fill="#c3c4cc" text-anchor="start" textLength="77.0" lengthAdjust="spacingAndGlyphs">GV_MEDUSA,GV VENUE</text>
<text x="464.0" y="703.27" font-size="7.7" fill="#c3c4cc" text-anchor="start" textLength="29.5" lengthAdjust="spacingAndGlyphs">Avg: 64.6</text>
<rect x="499.4" y="699.4" width="8" height="2.2" rx="1" fill="#E24D42"/>
<text x="511.7" y="703.27" font-size="7.7" fill="#c3c4cc" text-anchor="start" textLength="66.1" lengthAdjust="spacingAndGlyphs">Hal7_MJ,MJ_VENUE</text>
<text x="581.2" y="703.27" font-size="7.7" fill="#c3c4cc" text-anchor="start" textLength="29.8" lengthAdjust="spacingAndGlyphs">Avg: 50.3</text>
<rect x="617.6" y="699.4" width="8" height="2.2" rx="1" fill="#1F78C1"/>
<text x="629.8" y="703.27" font-size="7.7" fill="#c3c4cc" text-anchor="start" textLength="11.6" lengthAdjust="spacingAndGlyphs">null</text>
<text x="645.2" y="703.27" font-size="7.7" fill="#c3c4cc" text-anchor="start" textLength="29.7" lengthAdjust="spacingAndGlyphs">Avg: 46.2</text>
<rect x="680.9" y="699.4" width="8" height="2.2" rx="1" fill="#BA43A9"/>
<text x="693.4" y="703.27" font-size="7.7" fill="#c3c4cc" text-anchor="start" textLength="100.9" lengthAdjust="spacingAndGlyphs">H2-H3 OUTDOOR GV,GV VENUE</text>
<text x="797.7" y="703.27" font-size="7.7" fill="#c3c4cc" text-anchor="start" textLength="29.5" lengthAdjust="spacingAndGlyphs">Avg: 24.1</text>
<rect x="55.3" y="709.8" width="8" height="2.2" rx="1" fill="#705DA0"/>
<text x="67.8" y="713.67" font-size="7.7" fill="#c3c4cc" text-anchor="start" textLength="64.4" lengthAdjust="spacingAndGlyphs">Hall1_GV,GV VENUE</text>
<text x="135.6" y="713.67" font-size="7.7" fill="#c3c4cc" text-anchor="start" textLength="29.9" lengthAdjust="spacingAndGlyphs">Avg: 26.7</text>
<rect x="171.3" y="709.8" width="8" height="2.2" rx="1" fill="#508642"/>
<text x="183.8" y="713.67" font-size="7.7" fill="#c3c4cc" text-anchor="start" textLength="64.4" lengthAdjust="spacingAndGlyphs">Hall3_GV,GV VENUE</text>
<text x="251.3" y="713.67" font-size="7.7" fill="#c3c4cc" text-anchor="start" textLength="29.9" lengthAdjust="spacingAndGlyphs">Avg: 37.4</text>
<rect x="287.3" y="709.8" width="8" height="2.2" rx="1" fill="#CCA300"/>
<text x="299.6" y="713.67" font-size="7.7" fill="#c3c4cc" text-anchor="start" textLength="36.6" lengthAdjust="spacingAndGlyphs">MJ_VENUE</text>
<text x="339.0" y="713.67" font-size="7.7" fill="#c3c4cc" text-anchor="start" textLength="30.2" lengthAdjust="spacingAndGlyphs">Avg: 23.0</text>
<rect x="375.6" y="709.8" width="8" height="2.2" rx="1" fill="#447EBC"/>
<text x="387.6" y="713.67" font-size="7.7" fill="#c3c4cc" text-anchor="start" textLength="110.2" lengthAdjust="spacingAndGlyphs">Hall3_MJ_Pza_Univers,MJ_VENUE</text>
<text x="501.3" y="713.67" font-size="7.7" fill="#c3c4cc" text-anchor="start" textLength="30.1" lengthAdjust="spacingAndGlyphs">Avg: 26.4</text>
<rect x="537" y="709.8" width="8" height="2.2" rx="1" fill="#C15C17"/>
<text x="549.3" y="713.67" font-size="7.7" fill="#c3c4cc" text-anchor="start" textLength="67.9" lengthAdjust="spacingAndGlyphs">Hall8_MJ,MJ_VENUE</text>
<text x="621.0" y="713.67" font-size="7.7" fill="#c3c4cc" text-anchor="start" textLength="30.1" lengthAdjust="spacingAndGlyphs">Avg: 24.6</text>
<rect x="656.7" y="709.8" width="8" height="2.2" rx="1" fill="#890F02"/>
<text x="669.0" y="713.67" font-size="7.7" fill="#c3c4cc" text-anchor="start" textLength="68.0" lengthAdjust="spacingAndGlyphs">Hall4_MJ,MJ_VENUE</text>
<text x="740.4" y="713.67" font-size="7.7" fill="#c3c4cc" text-anchor="start" textLength="30.1" lengthAdjust="spacingAndGlyphs">Avg: 19.6</text>
<rect x="55.3" y="720.0" width="8" height="2.2" rx="1" fill="#0A437C"/>
<text x="67.8" y="723.87" font-size="7.7" fill="#c3c4cc" text-anchor="start" textLength="68.4" lengthAdjust="spacingAndGlyphs">Hall2_MJ,MJ_VENUE</text>
<text x="139.3" y="723.87" font-size="7.7" fill="#c3c4cc" text-anchor="start" textLength="29.7" lengthAdjust="spacingAndGlyphs">Avg: 24.1</text>
<rect x="174.8" y="720.0" width="8" height="2.2" rx="1" fill="#6D1F62"/>
<text x="187.6" y="723.87" font-size="7.7" fill="#c3c4cc" text-anchor="start" textLength="68.0" lengthAdjust="spacingAndGlyphs">Hall5_MJ,MJ_VENUE</text>
<text x="259.0" y="723.87" font-size="7.7" fill="#c3c4cc" text-anchor="start" textLength="29.4" lengthAdjust="spacingAndGlyphs">Avg: 22.1</text>
<rect x="294.5" y="720.0" width="8" height="2.2" rx="1" fill="#584477"/>
<text x="307.0" y="723.87" font-size="7.7" fill="#c3c4cc" text-anchor="start" textLength="64.6" lengthAdjust="spacingAndGlyphs">Hall4_GV,GV VENUE</text>
<text x="374.5" y="723.87" font-size="7.7" fill="#c3c4cc" text-anchor="start" textLength="30.5" lengthAdjust="spacingAndGlyphs">Avg: 2.00</text>
<text x="71.8" y="389.67" font-size="7.7" fill="#c3c4cc" text-anchor="start" textLength="33.4" lengthAdjust="spacingAndGlyphs">asociados</text>
<text x="109.4" y="389.67" font-size="7.7" fill="#c3c4cc" text-anchor="start" textLength="30.0" lengthAdjust="spacingAndGlyphs">Mean: 78</text>
<text x="143.6" y="389.67" font-size="7.7" fill="#c3c4cc" text-anchor="start" textLength="35.2" lengthAdjust="spacingAndGlyphs">Last *: 120</text>
<text x="182.9" y="389.67" font-size="7.7" fill="#c3c4cc" text-anchor="start" textLength="29.9" lengthAdjust="spacingAndGlyphs">Max: 162</text>
<text x="217.2" y="389.67" font-size="7.7" fill="#c3c4cc" text-anchor="start" textLength="24.3" lengthAdjust="spacingAndGlyphs">Min: 34</text>
<text x="68.2" y="546.67" font-size="7.7" fill="#c3c4cc" text-anchor="start" textLength="21.4" lengthAdjust="spacingAndGlyphs">clients</text>
<text x="92.8" y="546.67" font-size="7.7" fill="#c3c4cc" text-anchor="start" textLength="28.2" lengthAdjust="spacingAndGlyphs">Min: 917</text>
<text x="124.2" y="546.67" font-size="7.7" fill="#c3c4cc" text-anchor="start" textLength="37.8" lengthAdjust="spacingAndGlyphs">Max: 1.22 K</text>
<text x="165.2" y="546.67" font-size="7.7" fill="#c3c4cc" text-anchor="start" textLength="36.4" lengthAdjust="spacingAndGlyphs">Avg: 1.06 K</text>
<text x="204.9" y="546.67" font-size="7.7" fill="#c3c4cc" text-anchor="start" textLength="48.7" lengthAdjust="spacingAndGlyphs">Current: 1.16 K</text>
<text x="371.2" y="750.05" font-size="8.2" fill="#d8d9e0" text-anchor="start" font-weight="700" textLength="67.1" lengthAdjust="spacingAndGlyphs">Ocupación en Fira</text>
<text x="1132.5" y="414.95" font-size="8.2" fill="#d8d9e0" text-anchor="start" font-weight="700" textLength="117.7" lengthAdjust="spacingAndGlyphs">tracking provider Fira Barcelona</text>
<rect x="1408" y="426.7" width="43.5" height="18.6" rx="1.5" fill="#202328"/>
<text x="1429.3" y="438.63" font-size="7.3" fill="#c4c5cc" text-anchor="middle" font-weight="700" textLength="33.6" lengthAdjust="spacingAndGlyphs">Play Mode</text>
<rect x="1454.2" y="427" width="31.8" height="18" rx="1.5" fill="#111217" stroke="#23262b" stroke-width="0.8"/>
<rect x="1460.5" y="431.3" width="19.5" height="9.4" rx="4.7" fill="#111217" stroke="#2c2f35" stroke-width="0.8"/>
<circle cx="1465.9" cy="436" r="3.2" fill="#a2a4ad"/>
<text x="1420" y="752.4" font-size="24.5" font-weight="700" font-style="italic" fill="#f39325" stroke="#f39325" stroke-width="0.9" textLength="25.5" lengthAdjust="spacingAndGlyphs">wı</text>
<text x="1447.2" y="752.4" font-size="24.5" font-weight="700" font-style="italic" fill="#a3a3a5" stroke="#a3a3a5" stroke-width="0.9" textLength="43" lengthAdjust="spacingAndGlyphs">zzıe</text>
<path d="M1474.1,728.8 L1475.1,731.2 L1477.6,731.2 L1475.6,732.8 L1476.4,735.2 L1474.1,733.8 L1471.8,735.2 L1472.6,732.8 L1470.6,731.2 L1473.1,731.2 Z" fill="#f39325"/>
</svg>
<div class="abs" style="left:49px;top:36px;width:422.5px;height:1px;background:#050505"></div>
<div class="abs" style="left:48.8px;top:37px;width:1.2px;height:199.6px;background:#0c0d10"></div>
<svg class="abs" style="left:50px;top:37px" width="421" height="200" viewBox="50 37 421 200" font-family="Liberation Sans, sans-serif">
<rect x="50" y="37" width="421" height="200" fill="#ffffff"/>
<rect x="50" y="37" width="421" height="0.6" fill="#d8d8d8"/>
<rect x="50" y="235.8" width="421" height="0.8" fill="#7a7a7a"/>
<polygon points="90,120 113,119 113,185 80,185 84,150" fill="#ececec"/>
<polygon points="81,144 113,144 113,146 81,146" fill="#d0d0d0"/>
<polygon points="82,164 113,164 113,166 82,166" fill="#d0d0d0"/>
<polygon points="80,183 113,183 113,185.5 80,185.5" fill="#cfcfcf"/>
<polygon points="124,104 135,93 175,91 205,76 262,76 399,112.3 399,116 372,150 366,160 340,200 331.7,209.2 124,190" fill="#f0f0f0"/>
<polygon points="124,190 331.7,209.2 331.7,211.2 124,192.2" fill="#dcdcdc"/>
<polygon points="340.9,211.1 343.7,188.9 359.4,174.1 442.4,173.2 412.9,216.6 340.9,218" fill="#efefef"/>
<polygon points="340.9,218 412.9,216.6 412.9,218.6 340.9,220" fill="#dadada"/>
<polygon points="98.2,99 100.8,79.2 123.9,66.7 150.3,60.1 160,63.4 160,71.3 142.3,80.5 121.9,89.1 114.6,100.3" fill="#e2e2e2"/>
<ellipse cx="143" cy="89.1" rx="11.9" ry="5.9" fill="#e6e6e6"/>
<defs><linearGradient id="tw" x1="0" x2="1"><stop offset="0" stop-color="#e4e4e4"/><stop offset="0.5" stop-color="#dadada"/><stop offset="1" stop-color="#c4c4c4"/></linearGradient></defs>
<path d="M104,49 Q111,45 118.6,49 L119.5,85 Q113.5,88 108.5,85 Z" fill="url(#tw)"/>
<path d="M125.2,37 L141,37 L141,74 Q133,77 125.2,74 Z" fill="url(#tw)"/>
<polygon points="173.9,82.5 178.5,79.2 210.1,68 262.9,75.9 241.8,93.1 179.8,87.1" fill="#e8e8e8" stroke="#cdcdcd" stroke-width="0.6"/>
<polygon points="152.8,170.8 203.5,99.7 297.7,101.5 260.8,157.8 242.3,176.3 198,176.3" fill="#eaeaea"/>
<polygon points="298.5,101.8 344.6,106.8 324.3,139.1 280,135.4 280,128.9" fill="#eaeaea"/>
<polygon points="348.3,107.7 388.9,112.3 366.8,146.5 324.3,140.9" fill="#eaeaea"/>
<polygon points="262,150 309.5,152.9 287.4,190.8 249.7,189.2 249.7,170" fill="#eaeaea"/>
<polygon points="311.4,153.8 353.8,157.5 331.7,194.5 291.1,191.7" fill="#eaeaea"/>
<polygon points="361.2,163.1 431.4,170.5 420.3,188.9 359.4,183.4" fill="#eaeaea"/>
<polygon points="128.7,127 168.8,131.6 170.4,138.5 144.1,166.3 133.3,166.3" fill="#e6e6e6"/>
<polygon points="144.1,166.3 170.4,138.5 170.4,141.6 145.7,172.5" fill="#c6c6c6"/>
<polygon points="133.3,166.3 144.1,166.3 145.7,172.5 133.3,172.5" fill="#d0d0d0"/>
<polygon points="231.2,117.2 236.5,117.2 214,163.4 210,163.4" fill="#c2c2c2"/>
<polygon points="296.6,101.2 301.5,101.8 265.6,157.8 260.8,157.8" fill="#c2c2c2"/>
<polygon points="344.6,106.8 349.5,107.5 328.5,140.5 324.3,139.1" fill="#c2c2c2"/>
<polygon points="388.9,112.3 394.5,113.2 372.3,148.3 366.8,146.5" fill="#c2c2c2"/>
<polygon points="309.5,152.9 312.5,153.8 290.5,191.5 287.4,190.8" fill="#c2c2c2"/>
<polygon points="353.8,157.5 357,158.5 334.5,195.5 331.7,194.5" fill="#c2c2c2"/>
<polygon points="431.4,170.5 433.2,172.8 422,194.5 420.3,188.9" fill="#c2c2c2"/>
<polygon points="184.3,129.3 186,129.3 161.5,160 160,160" fill="#c2c2c2"/>
<polygon points="231.2,117.2 242.3,119 240,121 230,120" fill="#d0d0d0"/>
<polygon points="152.8,170.8 198,172 198,181 152.8,179.5" fill="#d4d4d4"/>
<polygon points="198,176.3 242.3,176.3 242.3,186.5 198,186.5" fill="#d4d4d4"/>
<polygon points="242.3,176.3 260.8,157.8 262,159 243.5,186.5 242.3,186.5" fill="#d4d4d4"/>
<polygon points="249.7,189.2 287.4,190.8 287.4,194.8 249.7,193.2" fill="#d4d4d4"/>
<polygon points="291.1,191.7 331.7,194.5 331.7,198.3 291.1,195.5" fill="#d4d4d4"/>
<polygon points="359.4,183.4 420.3,188.9 420.3,194.5 359.4,188.9" fill="#d4d4d4"/>
<polygon points="280,135.4 366.8,146.5 366.8,149.5 280,138.5" fill="#d4d4d4"/>
<polygon points="157.4,180 190.6,181 190.6,183.7 157.4,182.7" fill="#a9cca3"/>
<polygon points="200.8,186.3 233.1,186.8 233.1,189.4 200.8,188.9" fill="#a9cca3"/>
<polygon points="249.7,193.2 331.7,198.3 331.7,200.3 249.7,195.2" fill="#a9cca3"/>
<path d="M127,110 L138,104 L158,105 L170,112 L183,127 L181,133 L173,131 L163,121 L145,120 L131,124 L126,122 Z" fill="#a8cbf0"/>
<path d="M268,141.5 L280,140.9 L366.8,144.6 L359.5,152 L357.5,155.7 L280,152 L268,150 Z" fill="#a8cbf0"/>
<path d="M357.5,148 L367.5,148 L356,187.5 L346,187.5 Z" fill="#a8cbf0"/>
<path d="M344.6,185.2 L409.2,189.3 L409.2,196 L344.6,194.5 Z" fill="#a8cbf0"/>
<path d="M218,148 L230,143 L241,146 L231,152 Z" fill="#a8cbf0"/>
<path d="M270,143.5 L360,147 L356,150 L270,147.5 Z" fill="#c4dcf6"/>
<text x="316" y="122.3" font-size="6.4" fill="#9a9a9a" text-anchor="middle">P5</text>
<text x="359.7" y="127.7" font-size="6.4" fill="#9a9a9a" text-anchor="middle">P7</text>
<text x="280.6" y="169.10000000000002" font-size="6.4" fill="#9a9a9a" text-anchor="middle">P4</text>
<text x="326" y="172.5" font-size="6.4" fill="#9a9a9a" text-anchor="middle">P6</text>
<text x="394" y="176.0" font-size="6.4" fill="#9a9a9a" text-anchor="middle">P8 CC</text>
<text x="117" y="108.6" font-size="5" fill="#7c7c7c" text-anchor="middle" transform="rotate(0 117 108.6)">Accés sud</text>
<text x="192.5" y="205.5" font-size="5" fill="#7c7c7c" text-anchor="middle" transform="rotate(8 192.5 205.5)">C. Botànica</text>
<text x="285" y="218.5" font-size="5" fill="#7c7c7c" text-anchor="middle" transform="rotate(0 285 218.5)">C. Foc</text>
<text x="347" y="223.5" font-size="5" fill="#7c7c7c" text-anchor="middle" transform="rotate(0 347 223.5)">Accés nord</text>
<text x="389" y="160.5" font-size="5" fill="#7c7c7c" text-anchor="middle" transform="rotate(0 389 160.5)">C. Alts Forns</text>
<text x="150" y="121.5" font-size="5" fill="#7c7c7c" text-anchor="middle" transform="rotate(0 150 121.5)">Hall Europa</text>
<text x="181" y="110.5" font-size="5" fill="#7c7c7c" text-anchor="middle" transform="rotate(0 181 110.5)">C. C</text>
<text x="120.6" y="165" font-size="5" fill="#6e6e6e" text-anchor="middle" transform="rotate(-90 120.6 165)">Avda. Juan Carlos I</text>
<rect x="278.2" y="126.6" width="11.8" height="5.2" fill="#6c6c6c"/><text x="284.1" y="130.7" font-size="4.3" fill="#fff" text-anchor="middle" font-weight="700">CC5</text>
<rect x="259.5" y="149" width="12" height="5.2" fill="#6c6c6c"/><text x="265.5" y="153.1" font-size="4.3" fill="#fff" text-anchor="middle" font-weight="700">CC4</text>
<circle cx="106.7" cy="121.4" r="3.5" fill="#6e6e6e" stroke="#9a9a9a" stroke-width="0.5"/><text x="106.7" y="123.0" font-size="4.4" font-weight="700" fill="#e8e8e8" text-anchor="middle">P</text>
<circle cx="117" cy="121.4" r="3.5" fill="#6e6e6e" stroke="#9a9a9a" stroke-width="0.5"/><text x="117" y="123.0" font-size="4.4" font-weight="700" fill="#e8e8e8" text-anchor="middle">P</text>
<circle cx="117" cy="132.6" r="3.5" fill="#6e6e6e" stroke="#9a9a9a" stroke-width="0.5"/><text x="117" y="134.2" font-size="4.4" font-weight="700" fill="#e8e8e8" text-anchor="middle">P</text>
<circle cx="107.6" cy="145" r="3.5" fill="#6e6e6e" stroke="#9a9a9a" stroke-width="0.5"/><text x="107.6" y="146.6" font-size="4.4" font-weight="700" fill="#e8e8e8" text-anchor="middle">P</text>
<circle cx="142.3" cy="149.8" r="3.5" fill="#6e6e6e" stroke="#9a9a9a" stroke-width="0.5"/><text x="142.3" y="151.4" font-size="4.4" font-weight="700" fill="#e8e8e8" text-anchor="middle">P</text>
<circle cx="198.3" cy="195.3" r="3.5" fill="#6e6e6e" stroke="#9a9a9a" stroke-width="0.5"/><text x="198.3" y="196.9" font-size="4.4" font-weight="700" fill="#e8e8e8" text-anchor="middle">P</text>
<circle cx="253.2" cy="201.1" r="3.5" fill="#6e6e6e" stroke="#9a9a9a" stroke-width="0.5"/><text x="253.2" y="202.7" font-size="4.4" font-weight="700" fill="#e8e8e8" text-anchor="middle">P</text>
<circle cx="315.4" cy="207.9" r="3.5" fill="#6e6e6e" stroke="#9a9a9a" stroke-width="0.5"/><text x="315.4" y="209.5" font-size="4.4" font-weight="700" fill="#e8e8e8" text-anchor="middle">P</text>
<circle cx="396.7" cy="207.9" r="3.5" fill="#6e6e6e" stroke="#9a9a9a" stroke-width="0.5"/><text x="396.7" y="209.5" font-size="4.4" font-weight="700" fill="#e8e8e8" text-anchor="middle">P</text>
<circle cx="406.5" cy="207.9" r="3.5" fill="#6e6e6e" stroke="#9a9a9a" stroke-width="0.5"/><text x="406.5" y="209.5" font-size="4.4" font-weight="700" fill="#e8e8e8" text-anchor="middle">P</text>
<circle cx="163.3" cy="60.7" r="3.5" fill="#6e6e6e" stroke="#9a9a9a" stroke-width="0.5"/><text x="163.3" y="62.300000000000004" font-size="4.4" font-weight="700" fill="#e8e8e8" text-anchor="middle">P</text>
<circle cx="170.6" cy="69.7" r="3.5" fill="#6e6e6e" stroke="#9a9a9a" stroke-width="0.5"/><text x="170.6" y="71.3" font-size="4.4" font-weight="700" fill="#e8e8e8" text-anchor="middle">P</text>
<circle cx="194.6" cy="82.4" r="1.8" fill="#8484d8" stroke="#16163a" stroke-width="0.85"/>
<circle cx="195.6" cy="80.5" r="1.8" fill="#8484d8" stroke="#16163a" stroke-width="0.85"/>
<circle cx="142.3" cy="100.3" r="1.8" fill="#8484d8" stroke="#16163a" stroke-width="0.85"/>
<circle cx="145.5" cy="101.6" r="1.8" fill="#8484d8" stroke="#16163a" stroke-width="0.85"/>
<circle cx="148.9" cy="100.3" r="1.8" fill="#8484d8" stroke="#16163a" stroke-width="0.85"/>
<circle cx="152.4" cy="99.3" r="1.8" fill="#8484d8" stroke="#16163a" stroke-width="0.85"/>
<circle cx="155.5" cy="98.2" r="1.8" fill="#8484d8" stroke="#16163a" stroke-width="0.85"/>
<circle cx="158.7" cy="97.2" r="1.8" fill="#8484d8" stroke="#16163a" stroke-width="0.85"/>
<circle cx="143.7" cy="104.3" r="1.8" fill="#8484d8" stroke="#16163a" stroke-width="0.85"/>
<circle cx="147.6" cy="103.5" r="1.8" fill="#8484d8" stroke="#16163a" stroke-width="0.85"/>
<circle cx="151.6" cy="103.0" r="1.8" fill="#8484d8" stroke="#16163a" stroke-width="0.85"/>
<circle cx="137.1" cy="107.7" r="1.8" fill="#8484d8" stroke="#16163a" stroke-width="0.85"/>
<circle cx="140.2" cy="108.8" r="1.8" fill="#8484d8" stroke="#16163a" stroke-width="0.85"/>
<circle cx="143.7" cy="108.2" r="1.8" fill="#8484d8" stroke="#16163a" stroke-width="0.85"/>
<circle cx="147.1" cy="107.7" r="1.8" fill="#8484d8" stroke="#16163a" stroke-width="0.85"/>
<circle cx="150.3" cy="106.9" r="1.8" fill="#8484d8" stroke="#16163a" stroke-width="0.85"/>
<circle cx="154.2" cy="106.1" r="1.8" fill="#8484d8" stroke="#16163a" stroke-width="0.85"/>
<circle cx="156.9" cy="111.4" r="1.8" fill="#8484d8" stroke="#16163a" stroke-width="0.85"/>
<circle cx="155.0" cy="113.5" r="1.8" fill="#8484d8" stroke="#16163a" stroke-width="0.85"/>
<circle cx="135.0" cy="108.2" r="1.8" fill="#8484d8" stroke="#16163a" stroke-width="0.85"/>
<circle cx="166.1" cy="112.2" r="1.8" fill="#8484d8" stroke="#16163a" stroke-width="0.85"/>
<circle cx="171.4" cy="108.2" r="1.8" fill="#8484d8" stroke="#16163a" stroke-width="0.85"/>
<circle cx="177.2" cy="107.7" r="1.8" fill="#8484d8" stroke="#16163a" stroke-width="0.85"/>
<circle cx="170.1" cy="104.3" r="1.8" fill="#8484d8" stroke="#16163a" stroke-width="0.85"/>
<circle cx="138.4" cy="119.3" r="1.8" fill="#8484d8" stroke="#16163a" stroke-width="0.85"/>
<circle cx="139.2" cy="129.9" r="1.8" fill="#8484d8" stroke="#16163a" stroke-width="0.85"/>
<circle cx="153.4" cy="125.1" r="1.8" fill="#8484d8" stroke="#16163a" stroke-width="0.85"/>
<circle cx="158.2" cy="124.9" r="1.8" fill="#8484d8" stroke="#16163a" stroke-width="0.85"/>
<circle cx="160.8" cy="124.9" r="1.8" fill="#8484d8" stroke="#16163a" stroke-width="0.85"/>
<circle cx="144.2" cy="136.7" r="1.8" fill="#8484d8" stroke="#16163a" stroke-width="0.85"/>
<circle cx="149.5" cy="135.9" r="1.8" fill="#8484d8" stroke="#16163a" stroke-width="0.85"/>
<circle cx="154.2" cy="137.8" r="1.8" fill="#8484d8" stroke="#16163a" stroke-width="0.85"/>
<circle cx="163.5" cy="145.2" r="1.8" fill="#8484d8" stroke="#16163a" stroke-width="0.85"/>
<circle cx="144.2" cy="151.0" r="1.8" fill="#8484d8" stroke="#16163a" stroke-width="0.85"/>
<circle cx="152.4" cy="157.1" r="1.8" fill="#8484d8" stroke="#16163a" stroke-width="0.85"/>
<circle cx="186.7" cy="131.5" r="1.8" fill="#8484d8" stroke="#16163a" stroke-width="0.85"/>
<circle cx="193.8" cy="128.8" r="1.8" fill="#8484d8" stroke="#16163a" stroke-width="0.85"/>
<circle cx="201.7" cy="126.2" r="1.8" fill="#8484d8" stroke="#16163a" stroke-width="0.85"/>
<circle cx="204.9" cy="110.9" r="1.8" fill="#8484d8" stroke="#16163a" stroke-width="0.85"/>
<circle cx="210.2" cy="119.8" r="1.8" fill="#8484d8" stroke="#16163a" stroke-width="0.85"/>
<circle cx="193.8" cy="137.8" r="1.8" fill="#8484d8" stroke="#16163a" stroke-width="0.85"/>
<circle cx="195.9" cy="138.6" r="1.8" fill="#8484d8" stroke="#16163a" stroke-width="0.85"/>
<circle cx="187.2" cy="152.3" r="1.8" fill="#8484d8" stroke="#16163a" stroke-width="0.85"/>
<circle cx="193.8" cy="153.1" r="1.8" fill="#8484d8" stroke="#16163a" stroke-width="0.85"/>
<circle cx="196.4" cy="151.0" r="1.8" fill="#8484d8" stroke="#16163a" stroke-width="0.85"/>
<circle cx="197.8" cy="153.1" r="1.8" fill="#8484d8" stroke="#16163a" stroke-width="0.85"/>
<circle cx="201.7" cy="154.4" r="1.8" fill="#8484d8" stroke="#16163a" stroke-width="0.85"/>
<circle cx="196.4" cy="158.4" r="1.8" fill="#8484d8" stroke="#16163a" stroke-width="0.85"/>
<circle cx="201.7" cy="158.4" r="1.8" fill="#8484d8" stroke="#16163a" stroke-width="0.85"/>
<circle cx="209.6" cy="154.4" r="1.8" fill="#8484d8" stroke="#16163a" stroke-width="0.85"/>
<circle cx="208.3" cy="158.4" r="1.8" fill="#8484d8" stroke="#16163a" stroke-width="0.85"/>
<circle cx="210.9" cy="161.0" r="1.8" fill="#8484d8" stroke="#16163a" stroke-width="0.85"/>
<circle cx="214.9" cy="158.4" r="1.8" fill="#8484d8" stroke="#16163a" stroke-width="0.85"/>
<circle cx="221.5" cy="150.5" r="1.8" fill="#8484d8" stroke="#16163a" stroke-width="0.85"/>
<circle cx="218.9" cy="163.6" r="1.8" fill="#8484d8" stroke="#16163a" stroke-width="0.85"/>
<circle cx="221.5" cy="167.6" r="1.8" fill="#8484d8" stroke="#16163a" stroke-width="0.85"/>
<circle cx="174.0" cy="176.8" r="1.8" fill="#8484d8" stroke="#16163a" stroke-width="0.85"/>
<circle cx="176.6" cy="174.2" r="1.8" fill="#8484d8" stroke="#16163a" stroke-width="0.85"/>
<circle cx="179.3" cy="172.1" r="1.8" fill="#8484d8" stroke="#16163a" stroke-width="0.85"/>
<circle cx="181.9" cy="170.2" r="1.8" fill="#8484d8" stroke="#16163a" stroke-width="0.85"/>
<circle cx="185.9" cy="168.9" r="1.8" fill="#8484d8" stroke="#16163a" stroke-width="0.85"/>
<circle cx="188.5" cy="171.6" r="1.8" fill="#8484d8" stroke="#16163a" stroke-width="0.85"/>
<circle cx="192.5" cy="171.0" r="1.8" fill="#8484d8" stroke="#16163a" stroke-width="0.85"/>
<circle cx="195.1" cy="172.1" r="1.8" fill="#8484d8" stroke="#16163a" stroke-width="0.85"/>
<circle cx="184.6" cy="174.2" r="1.8" fill="#8484d8" stroke="#16163a" stroke-width="0.85"/>
<circle cx="180.6" cy="176.3" r="1.8" fill="#8484d8" stroke="#16163a" stroke-width="0.85"/>
<circle cx="178.0" cy="178.2" r="1.8" fill="#8484d8" stroke="#16163a" stroke-width="0.85"/>
<circle cx="172.7" cy="179.0" r="1.8" fill="#8484d8" stroke="#16163a" stroke-width="0.85"/>
<circle cx="183.2" cy="179.5" r="1.8" fill="#8484d8" stroke="#16163a" stroke-width="0.85"/>
<circle cx="175.3" cy="175.5" r="1.8" fill="#8484d8" stroke="#16163a" stroke-width="0.85"/>
<circle cx="210.9" cy="166.3" r="1.8" fill="#8484d8" stroke="#16163a" stroke-width="0.85"/>
<circle cx="212.3" cy="170.2" r="1.8" fill="#8484d8" stroke="#16163a" stroke-width="0.85"/>
<circle cx="213.6" cy="172.9" r="1.8" fill="#8484d8" stroke="#16163a" stroke-width="0.85"/>
<circle cx="216.2" cy="170.2" r="1.8" fill="#8484d8" stroke="#16163a" stroke-width="0.85"/>
<circle cx="218.9" cy="174.2" r="1.8" fill="#8484d8" stroke="#16163a" stroke-width="0.85"/>
<circle cx="222.8" cy="171.6" r="1.8" fill="#8484d8" stroke="#16163a" stroke-width="0.85"/>
<circle cx="214.9" cy="179.5" r="1.8" fill="#8484d8" stroke="#16163a" stroke-width="0.85"/>
<circle cx="217.5" cy="182.1" r="1.8" fill="#8484d8" stroke="#16163a" stroke-width="0.85"/>
<circle cx="218.9" cy="188.7" r="1.8" fill="#8484d8" stroke="#16163a" stroke-width="0.85"/>
<circle cx="208.3" cy="171.6" r="1.8" fill="#8484d8" stroke="#16163a" stroke-width="0.85"/>
<circle cx="211.5" cy="175.5" r="1.8" fill="#8484d8" stroke="#16163a" stroke-width="0.85"/>
<circle cx="216.2" cy="176.8" r="1.8" fill="#8484d8" stroke="#16163a" stroke-width="0.85"/>
<circle cx="229.4" cy="175.5" r="1.8" fill="#8484d8" stroke="#16163a" stroke-width="0.85"/>
<circle cx="232.1" cy="176.8" r="1.8" fill="#8484d8" stroke="#16163a" stroke-width="0.85"/>
<circle cx="234.7" cy="174.2" r="1.8" fill="#8484d8" stroke="#16163a" stroke-width="0.85"/>
<circle cx="229.4" cy="180.8" r="1.8" fill="#8484d8" stroke="#16163a" stroke-width="0.85"/>
<circle cx="237.3" cy="157.1" r="1.8" fill="#8484d8" stroke="#16163a" stroke-width="0.85"/>
<circle cx="236.0" cy="166.3" r="1.8" fill="#8484d8" stroke="#16163a" stroke-width="0.85"/>
<circle cx="241.8" cy="168.4" r="1.8" fill="#8484d8" stroke="#16163a" stroke-width="0.85"/>
<circle cx="246.6" cy="163.6" r="1.8" fill="#8484d8" stroke="#16163a" stroke-width="0.85"/>
<circle cx="254.5" cy="183.4" r="1.8" fill="#8484d8" stroke="#16163a" stroke-width="0.85"/>
<circle cx="232.1" cy="131.5" r="1.8" fill="#8484d8" stroke="#16163a" stroke-width="0.85"/>
<circle cx="235.2" cy="131.5" r="1.8" fill="#8484d8" stroke="#16163a" stroke-width="0.85"/>
<circle cx="245.3" cy="123.5" r="1.8" fill="#8484d8" stroke="#16163a" stroke-width="0.85"/>
<circle cx="250.5" cy="126.7" r="1.8" fill="#8484d8" stroke="#16163a" stroke-width="0.85"/>
<circle cx="251.1" cy="130.7" r="1.8" fill="#8484d8" stroke="#16163a" stroke-width="0.85"/>
<circle cx="252.6" cy="134.6" r="1.8" fill="#8484d8" stroke="#16163a" stroke-width="0.85"/>
<circle cx="255.8" cy="138.6" r="1.8" fill="#8484d8" stroke="#16163a" stroke-width="0.85"/>
<circle cx="250.5" cy="139.9" r="1.8" fill="#8484d8" stroke="#16163a" stroke-width="0.85"/>
<circle cx="246.6" cy="134.6" r="1.8" fill="#8484d8" stroke="#16163a" stroke-width="0.85"/>
<circle cx="247.9" cy="142.5" r="1.8" fill="#8484d8" stroke="#16163a" stroke-width="0.85"/>
<circle cx="251.8" cy="145.2" r="1.8" fill="#8484d8" stroke="#16163a" stroke-width="0.85"/>
<circle cx="254.5" cy="147.8" r="1.8" fill="#8484d8" stroke="#16163a" stroke-width="0.85"/>
<circle cx="246.6" cy="147.3" r="1.8" fill="#8484d8" stroke="#16163a" stroke-width="0.85"/>
<circle cx="255.8" cy="150.5" r="1.8" fill="#8484d8" stroke="#16163a" stroke-width="0.85"/>
<circle cx="257.1" cy="128.8" r="1.8" fill="#8484d8" stroke="#16163a" stroke-width="0.85"/>
<circle cx="255.8" cy="163.6" r="1.8" fill="#8484d8" stroke="#16163a" stroke-width="0.85"/>
<circle cx="249.2" cy="137.3" r="1.8" fill="#8484d8" stroke="#16163a" stroke-width="0.85"/>
<circle cx="253.2" cy="141.2" r="1.8" fill="#8484d8" stroke="#16163a" stroke-width="0.85"/>
<circle cx="237.3" cy="97.2" r="1.8" fill="#8484d8" stroke="#16163a" stroke-width="0.85"/>
<circle cx="240.5" cy="98.2" r="1.8" fill="#8484d8" stroke="#16163a" stroke-width="0.85"/>
<circle cx="243.9" cy="98.5" r="1.8" fill="#8484d8" stroke="#16163a" stroke-width="0.85"/>
<circle cx="247.4" cy="99.0" r="1.8" fill="#8484d8" stroke="#16163a" stroke-width="0.85"/>
<circle cx="250.5" cy="99.3" r="1.8" fill="#8484d8" stroke="#16163a" stroke-width="0.85"/>
<circle cx="241.3" cy="100.9" r="1.8" fill="#8484d8" stroke="#16163a" stroke-width="0.85"/>
<circle cx="246.6" cy="100.9" r="1.8" fill="#8484d8" stroke="#16163a" stroke-width="0.85"/>
<circle cx="242.6" cy="99.8" r="1.8" fill="#8484d8" stroke="#16163a" stroke-width="0.85"/>
<circle cx="205.1" cy="186.1" r="1.8" fill="#8484d8" stroke="#16163a" stroke-width="0.85"/>
<circle cx="261.3" cy="92.9" r="1.8" fill="#8484d8" stroke="#16163a" stroke-width="0.85"/>
<circle cx="262.6" cy="95.6" r="1.8" fill="#8484d8" stroke="#16163a" stroke-width="0.85"/>
<circle cx="264.0" cy="98.2" r="1.8" fill="#8484d8" stroke="#16163a" stroke-width="0.85"/>
<circle cx="261.3" cy="100.3" r="1.8" fill="#8484d8" stroke="#16163a" stroke-width="0.85"/>
<circle cx="265.3" cy="101.6" r="1.8" fill="#8484d8" stroke="#16163a" stroke-width="0.85"/>
<circle cx="267.9" cy="103.0" r="1.8" fill="#8484d8" stroke="#16163a" stroke-width="0.85"/>
<circle cx="270.6" cy="104.3" r="1.8" fill="#8484d8" stroke="#16163a" stroke-width="0.85"/>
<circle cx="262.6" cy="103.5" r="1.8" fill="#8484d8" stroke="#16163a" stroke-width="0.85"/>
<circle cx="260.0" cy="97.7" r="1.8" fill="#8484d8" stroke="#16163a" stroke-width="0.85"/>
<circle cx="266.6" cy="97.2" r="1.8" fill="#8484d8" stroke="#16163a" stroke-width="0.85"/>
<circle cx="263.7" cy="100.9" r="1.8" fill="#8484d8" stroke="#16163a" stroke-width="0.85"/>
<circle cx="260.8" cy="103.0" r="1.8" fill="#8484d8" stroke="#16163a" stroke-width="0.85"/>
<circle cx="279.8" cy="93.7" r="1.8" fill="#8484d8" stroke="#16163a" stroke-width="0.85"/>
<circle cx="277.2" cy="103.0" r="1.8" fill="#8484d8" stroke="#16163a" stroke-width="0.85"/>
<circle cx="277.2" cy="106.1" r="1.8" fill="#8484d8" stroke="#16163a" stroke-width="0.85"/>
<circle cx="266.6" cy="113.0" r="1.8" fill="#8484d8" stroke="#16163a" stroke-width="0.85"/>
<circle cx="273.2" cy="126.7" r="1.8" fill="#8484d8" stroke="#16163a" stroke-width="0.85"/>
<circle cx="304.3" cy="92.4" r="1.8" fill="#8484d8" stroke="#16163a" stroke-width="0.85"/>
<circle cx="307.5" cy="91.1" r="1.8" fill="#8484d8" stroke="#16163a" stroke-width="0.85"/>
<circle cx="310.1" cy="100.3" r="1.8" fill="#8484d8" stroke="#16163a" stroke-width="0.85"/>
<circle cx="323.3" cy="97.7" r="1.8" fill="#8484d8" stroke="#16163a" stroke-width="0.85"/>
<circle cx="326.0" cy="97.7" r="1.8" fill="#8484d8" stroke="#16163a" stroke-width="0.85"/>
<circle cx="332.6" cy="97.7" r="1.8" fill="#8484d8" stroke="#16163a" stroke-width="0.85"/>
<circle cx="317.5" cy="107.7" r="1.8" fill="#8484d8" stroke="#16163a" stroke-width="0.85"/>
<circle cx="327.3" cy="119.3" r="1.8" fill="#8484d8" stroke="#16163a" stroke-width="0.85"/>
<circle cx="327.3" cy="135.2" r="1.8" fill="#8484d8" stroke="#16163a" stroke-width="0.85"/>
<circle cx="314.1" cy="142.5" r="1.8" fill="#8484d8" stroke="#16163a" stroke-width="0.85"/>
<circle cx="316.7" cy="143.9" r="1.8" fill="#8484d8" stroke="#16163a" stroke-width="0.85"/>
<circle cx="323.3" cy="143.9" r="1.8" fill="#8484d8" stroke="#16163a" stroke-width="0.85"/>
<circle cx="326.0" cy="143.9" r="1.8" fill="#8484d8" stroke="#16163a" stroke-width="0.85"/>
<circle cx="340.5" cy="148.3" r="1.8" fill="#8484d8" stroke="#16163a" stroke-width="0.85"/>
<circle cx="355.0" cy="150.5" r="1.8" fill="#8484d8" stroke="#16163a" stroke-width="0.85"/>
<circle cx="365.5" cy="150.5" r="1.8" fill="#8484d8" stroke="#16163a" stroke-width="0.85"/>
<circle cx="366.1" cy="152.0" r="1.8" fill="#8484d8" stroke="#16163a" stroke-width="0.85"/>
<circle cx="372.1" cy="153.1" r="1.8" fill="#8484d8" stroke="#16163a" stroke-width="0.85"/>
<circle cx="376.6" cy="152.6" r="1.8" fill="#8484d8" stroke="#16163a" stroke-width="0.85"/>
<circle cx="382.7" cy="153.6" r="1.8" fill="#8484d8" stroke="#16163a" stroke-width="0.85"/>
<circle cx="386.6" cy="153.9" r="1.8" fill="#8484d8" stroke="#16163a" stroke-width="0.85"/>
<circle cx="381.4" cy="106.9" r="1.8" fill="#8484d8" stroke="#16163a" stroke-width="0.85"/>
<circle cx="373.5" cy="126.2" r="1.8" fill="#8484d8" stroke="#16163a" stroke-width="0.85"/>
<circle cx="386.6" cy="131.5" r="1.8" fill="#8484d8" stroke="#16163a" stroke-width="0.85"/>
<circle cx="390.6" cy="134.1" r="1.8" fill="#8484d8" stroke="#16163a" stroke-width="0.85"/>
<circle cx="316.7" cy="157.1" r="1.8" fill="#8484d8" stroke="#16163a" stroke-width="0.85"/>
<circle cx="299.6" cy="168.4" r="1.8" fill="#8484d8" stroke="#16163a" stroke-width="0.85"/>
<circle cx="299.6" cy="173.7" r="1.8" fill="#8484d8" stroke="#16163a" stroke-width="0.85"/>
<circle cx="312.8" cy="170.0" r="1.8" fill="#8484d8" stroke="#16163a" stroke-width="0.85"/>
<circle cx="261.3" cy="157.1" r="1.8" fill="#8484d8" stroke="#16163a" stroke-width="0.85"/>
<circle cx="262.6" cy="159.7" r="1.8" fill="#8484d8" stroke="#16163a" stroke-width="0.85"/>
<circle cx="264.7" cy="165.8" r="1.8" fill="#8484d8" stroke="#16163a" stroke-width="0.85"/>
<circle cx="275.8" cy="176.8" r="1.8" fill="#8484d8" stroke="#16163a" stroke-width="0.85"/>
<circle cx="280.6" cy="178.2" r="1.8" fill="#8484d8" stroke="#16163a" stroke-width="0.85"/>
<circle cx="277.2" cy="184.2" r="1.8" fill="#8484d8" stroke="#16163a" stroke-width="0.85"/>
<circle cx="278.5" cy="186.1" r="1.8" fill="#8484d8" stroke="#16163a" stroke-width="0.85"/>
<circle cx="267.9" cy="187.4" r="1.8" fill="#8484d8" stroke="#16163a" stroke-width="0.85"/>
<circle cx="271.9" cy="188.7" r="1.8" fill="#8484d8" stroke="#16163a" stroke-width="0.85"/>
<circle cx="274.5" cy="188.7" r="1.8" fill="#8484d8" stroke="#16163a" stroke-width="0.85"/>
<circle cx="278.5" cy="189.5" r="1.8" fill="#8484d8" stroke="#16163a" stroke-width="0.85"/>
<circle cx="275.3" cy="194.8" r="1.8" fill="#8484d8" stroke="#16163a" stroke-width="0.85"/>
<circle cx="296.4" cy="189.0" r="1.8" fill="#8484d8" stroke="#16163a" stroke-width="0.85"/>
<circle cx="397.2" cy="157.8" r="1.8" fill="#8484d8" stroke="#16163a" stroke-width="0.85"/>
<circle cx="397.2" cy="161.0" r="1.8" fill="#8484d8" stroke="#16163a" stroke-width="0.85"/>
<circle cx="396.7" cy="163.6" r="1.8" fill="#8484d8" stroke="#16163a" stroke-width="0.85"/>
<circle cx="395.9" cy="166.8" r="1.8" fill="#8484d8" stroke="#16163a" stroke-width="0.85"/>
<circle cx="394.0" cy="178.2" r="1.8" fill="#8484d8" stroke="#16163a" stroke-width="0.85"/>
<circle cx="404.6" cy="186.1" r="1.8" fill="#8484d8" stroke="#16163a" stroke-width="0.85"/>
<circle cx="407.8" cy="182.1" r="1.8" fill="#8484d8" stroke="#16163a" stroke-width="0.85"/>
<circle cx="402.5" cy="186.1" r="1.8" fill="#8484d8" stroke="#16163a" stroke-width="0.85"/>
<circle cx="365.0" cy="188.7" r="1.8" fill="#8484d8" stroke="#16163a" stroke-width="0.85"/>
<circle cx="373.5" cy="196.6" r="1.8" fill="#8484d8" stroke="#16163a" stroke-width="0.85"/>
<circle cx="364.2" cy="203.2" r="1.8" fill="#8484d8" stroke="#16163a" stroke-width="0.85"/>
<circle cx="347.1" cy="196.6" r="1.8" fill="#8484d8" stroke="#16163a" stroke-width="0.85"/>
<circle cx="348.9" cy="196.1" r="1.8" fill="#8484d8" stroke="#16163a" stroke-width="0.85"/>
<circle cx="350.8" cy="195.3" r="1.8" fill="#8484d8" stroke="#16163a" stroke-width="0.85"/>
<circle cx="352.6" cy="194.8" r="1.8" fill="#8484d8" stroke="#16163a" stroke-width="0.85"/>
<circle cx="422.3" cy="193.2" r="1.8" fill="#8484d8" stroke="#16163a" stroke-width="0.85"/>
<circle cx="420.4" cy="205.9" r="1.8" fill="#8484d8" stroke="#16163a" stroke-width="0.85"/>
<circle cx="438.9" cy="208.5" r="1.8" fill="#8484d8" stroke="#16163a" stroke-width="0.85"/>
<circle cx="444.7" cy="209.0" r="1.8" fill="#8484d8" stroke="#16163a" stroke-width="0.85"/>
<circle cx="470.6" cy="195.8" r="1.8" fill="#8484d8" stroke="#16163a" stroke-width="0.85"/>
<line x1="174.6" y1="58.7" x2="130" y2="79" stroke="#f0185c" stroke-width="3.6" stroke-linecap="round"/>
<polygon points="121.9,88.5 134.4,70.6 143.7,87.1" fill="#f0185c"/>
<text x="187.5" y="52.6" font-size="9.7" font-weight="700" fill="#e9195e" stroke="#ffffff" stroke-width="0" textLength="231.5" lengthAdjust="spacingAndGlyphs" style="text-shadow:0.6px 0.6px 0.6px rgba(0,0,0,0.25)">Porta Fira Hotel. Fira south access meeting point.</text>
<rect x="55.6" y="45.8" width="13.6" height="13.6" fill="#f0f0f0" stroke="#2a2a2a" stroke-width="1.3"/>
<path d="M62.4,48.8 L62.4,56.4 M58.6,52.6 L66.2,52.6" stroke="#b8b8e8" stroke-width="0.9"/>
</svg>
<div class="abs" style="left:896px;top:36px;width:276px;height:1px;background:#0a0a0b"></div>
<svg class="abs" style="left:896px;top:37px" width="276" height="356" viewBox="896 37 276 356" font-family="Liberation Sans, sans-serif">
<defs><clipPath id="c6"><rect x="896" y="37" width="276" height="355.2"/></clipPath></defs><g clip-path="url(#c6)">
<rect x="896" y="37" width="276" height="356" fill="#252525"/>
<rect x="1036.9" y="45.5" width="105.7" height="0.9" fill="#0a0a0a"/>
<rect x="1032.2" y="52.0" width="110.4" height="1.9" fill="#080808"/>
<rect x="1061.6" y="44.0" width="2.8" height="2.8" fill="#000"/>
<rect x="1068.6" y="44.0" width="2.8" height="2.8" fill="#000"/>
<rect x="1090.9" y="44.0" width="2.8" height="2.8" fill="#000"/>
<rect x="1098.0" y="44.0" width="2.8" height="2.8" fill="#000"/>
<rect x="1066.5" y="71.8" width="28.4" height="20.4" fill="#2c2c2c"/>
<rect x="1065.1" y="54.6" width="32.9" height="10.6" fill="#1a1a1a"/>
<rect x="1076.8" y="55.8" width="9.4" height="18.8" fill="#0a0a0a"/>
<rect x="1066.3" y="57.0" width="8.2" height="8.2" fill="#101010" stroke="#555" stroke-width="0.3"/>
<rect x="1088.6" y="57.0" width="8.2" height="8.2" fill="#101010" stroke="#555" stroke-width="0.3"/>
<path d="M999.3,71.1 Q1013.4,72.2 1012.3,79.3 Q1013.4,87.5 999.3,88.2" fill="none" stroke="#050505" stroke-width="3.2"/>
<rect x="1018.1" y="66.4" width="48.6" height="26.3" fill="#070707" stroke="#8a8a8a" stroke-width="0.5"/>
<rect x="1018.6" y="67.1" width="13.6" height="25.1" fill="#1e1e1e" stroke="#6a6a6a" stroke-width="0.4"/>
<rect x="998.6" y="92.7" width="57.5" height="27.0" fill="#070707" stroke="#8a8a8a" stroke-width="0.5"/>
<rect x="1096.1" y="65.7" width="49.3" height="27.0" fill="#070707" stroke="#8a8a8a" stroke-width="0.5"/>
<rect x="1107.4" y="92.2" width="57.5" height="27.0" fill="#070707" stroke="#8a8a8a" stroke-width="0.5"/>
<polygon points="1145.4,80.4 1152.0,80.4 1159.0,91.0 1154.3,95.7 1145.4,91.0" fill="#0a0a0a" stroke="#777" stroke-width="0.4"/>
<rect x="1036.4" y="71.8" width="0.8" height="0.8" fill="#4a4a4a"/>
<rect x="1041.6" y="71.8" width="0.8" height="0.8" fill="#4a4a4a"/>
<rect x="1046.8" y="71.8" width="0.8" height="0.8" fill="#4a4a4a"/>
<rect x="1051.9" y="71.8" width="0.8" height="0.8" fill="#4a4a4a"/>
<rect x="1057.1" y="71.8" width="0.8" height="0.8" fill="#4a4a4a"/>
<rect x="1062.3" y="71.8" width="0.8" height="0.8" fill="#4a4a4a"/>
<rect x="1036.4" y="76.9" width="0.8" height="0.8" fill="#4a4a4a"/>
<rect x="1041.6" y="76.9" width="0.8" height="0.8" fill="#4a4a4a"/>
<rect x="1046.8" y="76.9" width="0.8" height="0.8" fill="#4a4a4a"/>
<rect x="1051.9" y="76.9" width="0.8" height="0.8" fill="#4a4a4a"/>
<rect x="1057.1" y="76.9" width="0.8" height="0.8" fill="#4a4a4a"/>
<rect x="1062.3" y="76.9" width="0.8" height="0.8" fill="#4a4a4a"/>
<rect x="1036.4" y="82.1" width="0.8" height="0.8" fill="#4a4a4a"/>
<rect x="1041.6" y="82.1" width="0.8" height="0.8" fill="#4a4a4a"/>
<rect x="1046.8" y="82.1" width="0.8" height="0.8" fill="#4a4a4a"/>
<rect x="1051.9" y="82.1" width="0.8" height="0.8" fill="#4a4a4a"/>
<rect x="1057.1" y="82.1" width="0.8" height="0.8" fill="#4a4a4a"/>
<rect x="1062.3" y="82.1" width="0.8" height="0.8" fill="#4a4a4a"/>
<rect x="1036.4" y="87.3" width="0.8" height="0.8" fill="#4a4a4a"/>
<rect x="1041.6" y="87.3" width="0.8" height="0.8" fill="#4a4a4a"/>
<rect x="1046.8" y="87.3" width="0.8" height="0.8" fill="#4a4a4a"/>
<rect x="1051.9" y="87.3" width="0.8" height="0.8" fill="#4a4a4a"/>
<rect x="1057.1" y="87.3" width="0.8" height="0.8" fill="#4a4a4a"/>
<rect x="1062.3" y="87.3" width="0.8" height="0.8" fill="#4a4a4a"/>
<rect x="1003.6" y="97.6" width="0.8" height="0.8" fill="#4a4a4a"/>
<rect x="1008.7" y="97.6" width="0.8" height="0.8" fill="#4a4a4a"/>
<rect x="1013.9" y="97.6" width="0.8" height="0.8" fill="#4a4a4a"/>
<rect x="1019.1" y="97.6" width="0.8" height="0.8" fill="#4a4a4a"/>
<rect x="1024.2" y="97.6" width="0.8" height="0.8" fill="#4a4a4a"/>
<rect x="1029.4" y="97.6" width="0.8" height="0.8" fill="#4a4a4a"/>
<rect x="1034.6" y="97.6" width="0.8" height="0.8" fill="#4a4a4a"/>
<rect x="1039.7" y="97.6" width="0.8" height="0.8" fill="#4a4a4a"/>
<rect x="1044.9" y="97.6" width="0.8" height="0.8" fill="#4a4a4a"/>
<rect x="1050.1" y="97.6" width="0.8" height="0.8" fill="#4a4a4a"/>
<rect x="1003.6" y="102.8" width="0.8" height="0.8" fill="#4a4a4a"/>
<rect x="1008.7" y="102.8" width="0.8" height="0.8" fill="#4a4a4a"/>
<rect x="1013.9" y="102.8" width="0.8" height="0.8" fill="#4a4a4a"/>
<rect x="1019.1" y="102.8" width="0.8" height="0.8" fill="#4a4a4a"/>
<rect x="1024.2" y="102.8" width="0.8" height="0.8" fill="#4a4a4a"/>
<rect x="1029.4" y="102.8" width="0.8" height="0.8" fill="#4a4a4a"/>
<rect x="1034.6" y="102.8" width="0.8" height="0.8" fill="#4a4a4a"/>
<rect x="1039.7" y="102.8" width="0.8" height="0.8" fill="#4a4a4a"/>
<rect x="1044.9" y="102.8" width="0.8" height="0.8" fill="#4a4a4a"/>
<rect x="1050.1" y="102.8" width="0.8" height="0.8" fill="#4a4a4a"/>
<rect x="1003.6" y="107.9" width="0.8" height="0.8" fill="#4a4a4a"/>
<rect x="1008.7" y="107.9" width="0.8" height="0.8" fill="#4a4a4a"/>
<rect x="1013.9" y="107.9" width="0.8" height="0.8" fill="#4a4a4a"/>
<rect x="1019.1" y="107.9" width="0.8" height="0.8" fill="#4a4a4a"/>
<rect x="1024.2" y="107.9" width="0.8" height="0.8" fill="#4a4a4a"/>
<rect x="1029.4" y="107.9" width="0.8" height="0.8" fill="#4a4a4a"/>
<rect x="1034.6" y="107.9" width="0.8" height="0.8" fill="#4a4a4a"/>
<rect x="1039.7" y="107.9" width="0.8" height="0.8" fill="#4a4a4a"/>
<rect x="1044.9" y="107.9" width="0.8" height="0.8" fill="#4a4a4a"/>
<rect x="1050.1" y="107.9" width="0.8" height="0.8" fill="#4a4a4a"/>
<rect x="1003.6" y="113.1" width="0.8" height="0.8" fill="#4a4a4a"/>
<rect x="1008.7" y="113.1" width="0.8" height="0.8" fill="#4a4a4a"/>
<rect x="1013.9" y="113.1" width="0.8" height="0.8" fill="#4a4a4a"/>
<rect x="1019.1" y="113.1" width="0.8" height="0.8" fill="#4a4a4a"/>
<rect x="1024.2" y="113.1" width="0.8" height="0.8" fill="#4a4a4a"/>
<rect x="1029.4" y="113.1" width="0.8" height="0.8" fill="#4a4a4a"/>
<rect x="1034.6" y="113.1" width="0.8" height="0.8" fill="#4a4a4a"/>
<rect x="1039.7" y="113.1" width="0.8" height="0.8" fill="#4a4a4a"/>
<rect x="1044.9" y="113.1" width="0.8" height="0.8" fill="#4a4a4a"/>
<rect x="1050.1" y="113.1" width="0.8" height="0.8" fill="#4a4a4a"/>
<rect x="1099.9" y="70.6" width="0.8" height="0.8" fill="#4a4a4a"/>
<rect x="1105.0" y="70.6" width="0.8" height="0.8" fill="#4a4a4a"/>
<rect x="1110.2" y="70.6" width="0.8" height="0.8" fill="#4a4a4a"/>
<rect x="1115.4" y="70.6" width="0.8" height="0.8" fill="#4a4a4a"/>
<rect x="1120.5" y="70.6" width="0.8" height="0.8" fill="#4a4a4a"/>
<rect x="1125.7" y="70.6" width="0.8" height="0.8" fill="#4a4a4a"/>
<rect x="1130.9" y="70.6" width="0.8" height="0.8" fill="#4a4a4a"/>
<rect x="1136.0" y="70.6" width="0.8" height="0.8" fill="#4a4a4a"/>
<rect x="1141.2" y="70.6" width="0.8" height="0.8" fill="#4a4a4a"/>
<rect x="1099.9" y="75.8" width="0.8" height="0.8" fill="#4a4a4a"/>
<rect x="1105.0" y="75.8" width="0.8" height="0.8" fill="#4a4a4a"/>
<rect x="1110.2" y="75.8" width="0.8" height="0.8" fill="#4a4a4a"/>
<rect x="1115.4" y="75.8" width="0.8" height="0.8" fill="#4a4a4a"/>
<rect x="1120.5" y="75.8" width="0.8" height="0.8" fill="#4a4a4a"/>
<rect x="1125.7" y="75.8" width="0.8" height="0.8" fill="#4a4a4a"/>
<rect x="1130.9" y="75.8" width="0.8" height="0.8" fill="#4a4a4a"/>
<rect x="1136.0" y="75.8" width="0.8" height="0.8" fill="#4a4a4a"/>
<rect x="1141.2" y="75.8" width="0.8" height="0.8" fill="#4a4a4a"/>
<rect x="1099.9" y="80.9" width="0.8" height="0.8" fill="#4a4a4a"/>
<rect x="1105.0" y="80.9" width="0.8" height="0.8" fill="#4a4a4a"/>
<rect x="1110.2" y="80.9" width="0.8" height="0.8" fill="#4a4a4a"/>
<rect x="1115.4" y="80.9" width="0.8" height="0.8" fill="#4a4a4a"/>
<rect x="1120.5" y="80.9" width="0.8" height="0.8" fill="#4a4a4a"/>
<rect x="1125.7" y="80.9" width="0.8" height="0.8" fill="#4a4a4a"/>
<rect x="1130.9" y="80.9" width="0.8" height="0.8" fill="#4a4a4a"/>
<rect x="1136.0" y="80.9" width="0.8" height="0.8" fill="#4a4a4a"/>
<rect x="1141.2" y="80.9" width="0.8" height="0.8" fill="#4a4a4a"/>
<rect x="1099.9" y="86.1" width="0.8" height="0.8" fill="#4a4a4a"/>
<rect x="1105.0" y="86.1" width="0.8" height="0.8" fill="#4a4a4a"/>
<rect x="1110.2" y="86.1" width="0.8" height="0.8" fill="#4a4a4a"/>
<rect x="1115.4" y="86.1" width="0.8" height="0.8" fill="#4a4a4a"/>
<rect x="1120.5" y="86.1" width="0.8" height="0.8" fill="#4a4a4a"/>
<rect x="1125.7" y="86.1" width="0.8" height="0.8" fill="#4a4a4a"/>
<rect x="1130.9" y="86.1" width="0.8" height="0.8" fill="#4a4a4a"/>
<rect x="1136.0" y="86.1" width="0.8" height="0.8" fill="#4a4a4a"/>
<rect x="1141.2" y="86.1" width="0.8" height="0.8" fill="#4a4a4a"/>
<rect x="1111.6" y="96.4" width="0.8" height="0.8" fill="#4a4a4a"/>
<rect x="1116.8" y="96.4" width="0.8" height="0.8" fill="#4a4a4a"/>
<rect x="1121.9" y="96.4" width="0.8" height="0.8" fill="#4a4a4a"/>
<rect x="1127.1" y="96.4" width="0.8" height="0.8" fill="#4a4a4a"/>
<rect x="1132.3" y="96.4" width="0.8" height="0.8" fill="#4a4a4a"/>
<rect x="1137.4" y="96.4" width="0.8" height="0.8" fill="#4a4a4a"/>
<rect x="1142.6" y="96.4" width="0.8" height="0.8" fill="#4a4a4a"/>
<rect x="1147.8" y="96.4" width="0.8" height="0.8" fill="#4a4a4a"/>
<rect x="1152.9" y="96.4" width="0.8" height="0.8" fill="#4a4a4a"/>
<rect x="1158.1" y="96.4" width="0.8" height="0.8" fill="#4a4a4a"/>
<rect x="1163.3" y="96.4" width="0.8" height="0.8" fill="#4a4a4a"/>
<rect x="1111.6" y="101.6" width="0.8" height="0.8" fill="#4a4a4a"/>
<rect x="1116.8" y="101.6" width="0.8" height="0.8" fill="#4a4a4a"/>
<rect x="1121.9" y="101.6" width="0.8" height="0.8" fill="#4a4a4a"/>
<rect x="1127.1" y="101.6" width="0.8" height="0.8" fill="#4a4a4a"/>
<rect x="1132.3" y="101.6" width="0.8" height="0.8" fill="#4a4a4a"/>
<rect x="1137.4" y="101.6" width="0.8" height="0.8" fill="#4a4a4a"/>
<rect x="1142.6" y="101.6" width="0.8" height="0.8" fill="#4a4a4a"/>
<rect x="1147.8" y="101.6" width="0.8" height="0.8" fill="#4a4a4a"/>
<rect x="1152.9" y="101.6" width="0.8" height="0.8" fill="#4a4a4a"/>
<rect x="1158.1" y="101.6" width="0.8" height="0.8" fill="#4a4a4a"/>
<rect x="1163.3" y="101.6" width="0.8" height="0.8" fill="#4a4a4a"/>
<rect x="1111.6" y="106.8" width="0.8" height="0.8" fill="#4a4a4a"/>
<rect x="1116.8" y="106.8" width="0.8" height="0.8" fill="#4a4a4a"/>
<rect x="1121.9" y="106.8" width="0.8" height="0.8" fill="#4a4a4a"/>
<rect x="1127.1" y="106.8" width="0.8" height="0.8" fill="#4a4a4a"/>
<rect x="1132.3" y="106.8" width="0.8" height="0.8" fill="#4a4a4a"/>
<rect x="1137.4" y="106.8" width="0.8" height="0.8" fill="#4a4a4a"/>
<rect x="1142.6" y="106.8" width="0.8" height="0.8" fill="#4a4a4a"/>
<rect x="1147.8" y="106.8" width="0.8" height="0.8" fill="#4a4a4a"/>
<rect x="1152.9" y="106.8" width="0.8" height="0.8" fill="#4a4a4a"/>
<rect x="1158.1" y="106.8" width="0.8" height="0.8" fill="#4a4a4a"/>
<rect x="1163.3" y="106.8" width="0.8" height="0.8" fill="#4a4a4a"/>
<rect x="1111.6" y="111.9" width="0.8" height="0.8" fill="#4a4a4a"/>
<rect x="1116.8" y="111.9" width="0.8" height="0.8" fill="#4a4a4a"/>
<rect x="1121.9" y="111.9" width="0.8" height="0.8" fill="#4a4a4a"/>
<rect x="1127.1" y="111.9" width="0.8" height="0.8" fill="#4a4a4a"/>
<rect x="1132.3" y="111.9" width="0.8" height="0.8" fill="#4a4a4a"/>
<rect x="1137.4" y="111.9" width="0.8" height="0.8" fill="#4a4a4a"/>
<rect x="1142.6" y="111.9" width="0.8" height="0.8" fill="#4a4a4a"/>
<rect x="1147.8" y="111.9" width="0.8" height="0.8" fill="#4a4a4a"/>
<rect x="1152.9" y="111.9" width="0.8" height="0.8" fill="#4a4a4a"/>
<rect x="1158.1" y="111.9" width="0.8" height="0.8" fill="#4a4a4a"/>
<rect x="1163.3" y="111.9" width="0.8" height="0.8" fill="#4a4a4a"/>
<rect x="1111.6" y="117.1" width="0.8" height="0.8" fill="#4a4a4a"/>
<rect x="1116.8" y="117.1" width="0.8" height="0.8" fill="#4a4a4a"/>
<rect x="1121.9" y="117.1" width="0.8" height="0.8" fill="#4a4a4a"/>
<rect x="1127.1" y="117.1" width="0.8" height="0.8" fill="#4a4a4a"/>
<rect x="1132.3" y="117.1" width="0.8" height="0.8" fill="#4a4a4a"/>
<rect x="1137.4" y="117.1" width="0.8" height="0.8" fill="#4a4a4a"/>
<rect x="1142.6" y="117.1" width="0.8" height="0.8" fill="#4a4a4a"/>
<rect x="1147.8" y="117.1" width="0.8" height="0.8" fill="#4a4a4a"/>
<rect x="1152.9" y="117.1" width="0.8" height="0.8" fill="#4a4a4a"/>
<rect x="1158.1" y="117.1" width="0.8" height="0.8" fill="#4a4a4a"/>
<rect x="1163.3" y="117.1" width="0.8" height="0.8" fill="#4a4a4a"/>
<rect x="1065.1" y="93.4" width="32.9" height="5.9" fill="#0d0d0d"/>
<rect x="1076.8" y="107.5" width="9.4" height="12.9" fill="#050505"/>
<rect x="1065.1" y="118.0" width="32.9" height="3.5" fill="#0d0d0d"/>
<rect x="1012.3" y="129.8" width="43.9" height="18.1" fill="#060606" stroke="#8a8a8a" stroke-width="0.5"/>
<rect x="1044.4" y="130.9" width="11.3" height="16.0" fill="#1a1a1a" stroke="#777" stroke-width="0.4"/>
<path d="M1067.4,138.0 Q1068.6,127.4 1081.5,127.4 Q1095.6,127.4 1096.8,138.0 Q1095.6,149.7 1081.5,149.7 Q1068.6,149.7 1067.4,138.0 Z" fill="#050505" stroke="#888" stroke-width="0.5"/>
<rect x="1108.5" y="130.9" width="30.5" height="16.4" fill="#060606"/>
<rect x="1110.9" y="132.1" width="7.0" height="12.9" fill="#1a1a1a" stroke="#666" stroke-width="0.3"/>
<rect x="930.1" y="79.3" width="45.8" height="43.4" fill="#000"/>
<rect x="930.1" y="125.1" width="45.8" height="4.2" fill="#000"/>
<text x="931.2" y="83.7" font-size="3.3" fill="#a4a4a4" textLength="42.3" lengthAdjust="spacingAndGlyphs">SUPERFICIE RECINTO (brutas)</text>
<text x="931.2" y="88.0" font-size="3.3" fill="#a4a4a4">PABELLON-1</text>
<text x="956.6" y="88.0" font-size="3.3" fill="#a4a4a4">13.407 m2</text>
<text x="931.2" y="92.3" font-size="3.3" fill="#a4a4a4">PABELLON-2</text>
<text x="956.6" y="92.3" font-size="3.3" fill="#a4a4a4">28.172 m2</text>
<text x="931.2" y="96.6" font-size="3.3" fill="#a4a4a4">PABELLON-3</text>
<text x="956.6" y="96.6" font-size="3.3" fill="#a4a4a4">9.545 m2</text>
<text x="931.2" y="100.9" font-size="3.3" fill="#a4a4a4">PABELLON-4</text>
<text x="956.6" y="100.9" font-size="3.3" fill="#a4a4a4">15.408 m2</text>
<text x="931.2" y="105.3" font-size="3.3" fill="#a4a4a4">PABELLON-5</text>
<text x="956.6" y="105.3" font-size="3.3" fill="#a4a4a4">5.828 m2</text>
<text x="931.2" y="109.6" font-size="3.3" fill="#a4a4a4">PABELLON-6</text>
<text x="956.6" y="109.6" font-size="3.3" fill="#a4a4a4">12.668 m2</text>
<text x="931.2" y="113.9" font-size="3.3" fill="#a4a4a4">PABELLON-7</text>
<text x="956.6" y="113.9" font-size="3.3" fill="#a4a4a4">13.518 m2</text>
<text x="931.2" y="118.2" font-size="3.3" fill="#a4a4a4">PABELLON-8</text>
<text x="956.6" y="118.2" font-size="3.3" fill="#a4a4a4">18.067 m2</text>
<text x="931.2" y="122.6" font-size="3.3" fill="#a4a4a4">ZONA-X</text>
<text x="956.6" y="122.6" font-size="3.3" fill="#a4a4a4">2.800 m2</text>
<text x="931.2" y="128.8" font-size="3.3" fill="#a4a4a4">TOTAL</text>
<text x="956.6" y="128.8" font-size="3.3" fill="#a4a4a4">118.011 m2</text>
<rect x="955.2" y="79.3" width="0.4" height="43.4" fill="#333"/>
<rect x="997.0" y="126.2" width="1.4" height="28.2" fill="#3a3a3a"/>
<rect x="1004.0" y="156.3" width="61.1" height="3.3" fill="#050505"/>
<rect x="1098.0" y="153.3" width="30.5" height="5.9" fill="#050505"/>
<rect x="1066.3" y="154.4" width="31.7" height="14.1" fill="#0c0c0c" stroke="#444" stroke-width="0.3"/>
<polygon points="933.6,169.0 954.7,169.0 954.7,215.0 931.2,215.0" fill="#060606"/>
<polygon points="958.9,169.0 989.9,169.0 989.9,215.0 958.9,215.0" fill="#242424" stroke="#a0a0a0" stroke-width="0.5"/>
<rect x="962.9" y="174.4" width="24.7" height="24.7" fill="#232323" stroke="#777" stroke-width="0.3"/>
<polygon points="993.5,170.9 1065.6,170.9 1065.6,215.0 993.5,215.0" fill="#050505" stroke="#999" stroke-width="0.5"/>
<rect x="995.8" y="174.4" width="16.4" height="34.1" fill="#090909" stroke="#9a9a9a" stroke-width="0.4"/>
<rect x="1013.4" y="174.4" width="16.4" height="34.1" fill="#090909" stroke="#9a9a9a" stroke-width="0.4"/>
<rect x="1037.9" y="174.4" width="13.2" height="15.3" fill="#090909" stroke="#9a9a9a" stroke-width="0.4"/>
<path d="M1037.9,174.4 L1051.0,189.7 M1051.0,174.4 L1037.9,189.7" stroke="#8a8a8a" stroke-width="0.35"/>
<rect x="1037.9" y="191.5" width="13.2" height="16.9" fill="#090909" stroke="#9a9a9a" stroke-width="0.4"/>
<path d="M1037.9,191.5 L1051.0,208.4 M1051.0,191.5 L1037.9,208.4" stroke="#8a8a8a" stroke-width="0.35"/>
<rect x="1052.2" y="174.4" width="12.9" height="34.1" fill="#090909" stroke="#9a9a9a" stroke-width="0.4"/>
<rect x="1067.4" y="170.4" width="10.6" height="44.6" fill="#040404"/>
<rect x="1086.2" y="170.4" width="10.6" height="44.6" fill="#040404"/>
<polygon points="1098.0,170.9 1121.5,170.9 1130.9,187.3 1130.9,215.0 1098.0,215.0" fill="#050505" stroke="#888" stroke-width="0.4"/>
<polygon points="931.2,215.0 989.9,215.0 989.9,269.0 997.5,285.5 991.1,290.6 957.1,276.5 927.7,265.5" fill="#050505"/>
<polygon points="934.8,215.0 986.4,215.0 986.4,280.8 950.0,265.5 934.8,264.3" fill="#242424" stroke="#a0a0a0" stroke-width="0.5"/>
<rect x="964.1" y="215.0" width="22.3" height="44.6" fill="#232323" stroke="#8a8a8a" stroke-width="0.4"/>
<polygon points="989.9,215.0 1076.8,215.0 1076.8,308.9 1060.4,313.6 1046.3,324.9 1027.5,316.5 1006.4,297.7 989.9,290.6" fill="#050505"/>
<rect x="995.8" y="215.0" width="69.3" height="32.9" fill="#0b0b0b" stroke="#a0a0a0" stroke-width="0.5"/>
<rect x="1001.7" y="222.0" width="49.3" height="18.8" fill="#111" stroke="#999" stroke-width="0.4"/>
<rect x="1006.4" y="225.6" width="39.9" height="11.7" fill="#0b0b0b" stroke="#aaa" stroke-width="0.35"/>
<path d="M1006.4,231.4 L1046.3,231.4" stroke="#999" stroke-width="0.3"/>
<path d="M1014.6,225.6 L1014.6,237.3" stroke="#999" stroke-width="0.3"/>
<path d="M1022.8,225.6 L1022.8,237.3" stroke="#999" stroke-width="0.3"/>
<path d="M1031.0,225.6 L1031.0,237.3" stroke="#999" stroke-width="0.3"/>
<path d="M1039.3,225.6 L1039.3,237.3" stroke="#999" stroke-width="0.3"/>
<rect x="1024.7" y="228.6" width="4.7" height="5.6" fill="none" stroke="#aaa" stroke-width="0.35"/>
<circle cx="1059.2" cy="231.4" r="4" fill="none" stroke="#999" stroke-width="0.5"/>
<rect x="994.6" y="251.4" width="70.5" height="57.5" fill="#070707" stroke="#888" stroke-width="0.4"/>
<rect x="1076.8" y="215.0" width="7.0" height="98.6" fill="#0e0e0e"/>
<polygon points="1088.6,215.0 1133.2,215.0 1166.1,308.9 1130.9,320.7 1107.4,325.4 1091.4,318.3 1088.6,308.9" fill="#050505"/>
<polygon points="1098.0,215.0 1130.9,215.0 1133.2,273.7 1130.9,299.5 1100.3,292.5 1098.0,285.5" fill="#0b0b0b" stroke="#9a9a9a" stroke-width="0.4"/>
<rect x="1102.2" y="217.8" width="25.1" height="24.2" fill="none" stroke="#8a8a8a" stroke-width="0.4"/>
<rect x="1103.1" y="245.1" width="24.2" height="25.1" fill="none" stroke="#8a8a8a" stroke-width="0.4"/>
<path d="M1102.2,224.4 L1127.3,224.4" stroke="#6a6a6a" stroke-width="0.3" stroke-dasharray="0.8 0.8"/>
<path d="M1102.2,232.6 L1127.3,232.6" stroke="#6a6a6a" stroke-width="0.3" stroke-dasharray="0.8 0.8"/>
<path d="M1102.2,252.6 L1127.3,252.6" stroke="#6a6a6a" stroke-width="0.3" stroke-dasharray="0.8 0.8"/>
<path d="M1102.2,262.0 L1127.3,262.0" stroke="#6a6a6a" stroke-width="0.3" stroke-dasharray="0.8 0.8"/>
<rect x="1101.5" y="177.9" width="23.5" height="23.5" fill="none" stroke="#8a8a8a" stroke-width="0.4"/>
<rect x="1102.7" y="203.7" width="25.8" height="11.3" fill="none" stroke="#8a8a8a" stroke-width="0.4"/>
<path d="M1046.3,324.9 Q1060.4,308.9 1076.8,306.6" fill="none" stroke="#777" stroke-width="0.4"/>
<path d="M1090.9,308.9 Q1095.6,323.0 1119.1,323.0" fill="none" stroke="#777" stroke-width="0.4"/>
<rect x="924.2" y="319.6" width="4.6" height="2.3" fill="#7a7a20" opacity="0.8"/>
<rect x="935.5" y="320.3" width="14.1" height="0.8" fill="#484848"/>
<rect x="924.2" y="326.6" width="4.6" height="2.3" fill="#a0a020" opacity="0.8"/>
<rect x="935.5" y="327.3" width="14.1" height="0.8" fill="#484848"/>
<rect x="924.2" y="333.2" width="4.6" height="2.3" fill="#b0a020" opacity="0.8"/>
<rect x="935.5" y="333.9" width="14.1" height="0.8" fill="#484848"/>
<rect x="924.2" y="339.5" width="4.6" height="2.3" fill="#a09020" opacity="0.8"/>
<rect x="935.5" y="340.2" width="14.1" height="0.8" fill="#484848"/>
<rect x="924.2" y="346.1" width="4.6" height="2.3" fill="#2040a0" opacity="0.8"/>
<rect x="935.5" y="346.8" width="14.1" height="0.8" fill="#484848"/>
<rect x="924.2" y="352.9" width="4.6" height="2.3" fill="#2a4a20" opacity="0.8"/>
<rect x="935.5" y="353.6" width="14.1" height="0.8" fill="#484848"/>
<rect x="924.2" y="360.2" width="4.6" height="2.3" fill="#205050" opacity="0.8"/>
<rect x="935.5" y="360.9" width="44.6" height="0.8" fill="#484848"/>
<rect x="986.4" y="319.4" width="5.2" height="3.6" fill="#203070" opacity="0.85"/>
<rect x="997.0" y="320.8" width="25.8" height="0.8" fill="#464646"/>
<rect x="986.4" y="325.9" width="5.2" height="3.6" fill="#3060b0" opacity="0.85"/>
<rect x="997.0" y="327.3" width="25.8" height="0.8" fill="#464646"/>
<rect x="986.4" y="333.0" width="5.2" height="3.6" fill="#d8c090" opacity="0.85"/>
<rect x="997.0" y="334.4" width="25.8" height="0.8" fill="#464646"/>
<rect x="986.4" y="339.6" width="5.2" height="3.6" fill="#30b0c0" opacity="0.85"/>
<rect x="997.0" y="341.0" width="25.8" height="0.8" fill="#464646"/>
<rect x="986.4" y="346.6" width="5.2" height="3.6" fill="#50c8d8" opacity="0.85"/>
<rect x="997.0" y="348.0" width="25.8" height="0.8" fill="#464646"/>
<rect x="986.4" y="354.6" width="5.2" height="3.6" fill="#20c0d0" opacity="0.85"/>
<rect x="997.0" y="356.0" width="25.8" height="0.8" fill="#464646"/>
<rect x="1030.2" y="321.2" width="6.4" height="6" fill="#40c0d0"/>
<rect x="1056.0" y="318.2" width="6.4" height="6" fill="#40c8d8"/>
<rect x="1070.1" y="318.4" width="6.4" height="6" fill="#40c8d8"/>
<rect x="1083.0" y="301.2" width="6.4" height="6" fill="#40c0d0"/>
<rect x="1074.8" y="305.5" width="6.4" height="6" fill="#d8c090"/>
<rect x="1108.4" y="327.5" width="6.4" height="6" fill="#3070c0"/>
<rect x="1074.5" y="338.3" width="18.8" height="1" fill="#555"/>
<rect x="923.2" y="33.5" width="26.1" height="12.2" fill="#030303" stroke="#4a4a4a" stroke-width="0.4"/>
<ellipse cx="933.0" cy="37.8" rx="0.75" ry="1.7" fill="#e6e6e6" transform="rotate(-26 933.0 39.5)"/>
<ellipse cx="934.6" cy="38.2" rx="0.75" ry="1.7" fill="#e6e6e6" transform="rotate(-13 934.6 39.5)"/>
<ellipse cx="936.2" cy="38.6" rx="0.75" ry="1.7" fill="#e6e6e6" transform="rotate(0 936.2 39.5)"/>
<ellipse cx="937.8" cy="38.2" rx="0.75" ry="1.7" fill="#e6e6e6" transform="rotate(13 937.8 39.5)"/>
<ellipse cx="939.4" cy="37.8" rx="0.75" ry="1.7" fill="#e6e6e6" transform="rotate(26 939.4 39.5)"/>
<rect x="933" y="39.9" width="6.4" height="0.6" fill="#e6e6e6"/>
<text x="936.2" y="43.9" font-size="2.9" font-weight="700" fill="#eeeeee" text-anchor="middle" textLength="19" lengthAdjust="spacingAndGlyphs">Fira Barcelona</text>
<rect x="896" y="37" width="1.6" height="356" fill="#3a3a3a"/>
<rect x="1170.3" y="37" width="0.9" height="356" fill="#333"/>
<rect x="902.3" y="46.3" width="13.2" height="12.6" fill="#f2f2f2" stroke="#bbb" stroke-width="0.6"/>
<path d="M908.9,49 L908.9,56.2 M905.3,52.6 L912.5,52.6" stroke="#b8b8e8" stroke-width="0.9"/>
<circle cx="1121.8" cy="84.1" r="1.6" fill="#20ad20" stroke="#0b400b" stroke-width="0.45"/>
<circle cx="1141.7" cy="81.1" r="1.6" fill="#20ad20" stroke="#0b400b" stroke-width="0.45"/>
<circle cx="1124.1" cy="85.0" r="1.6" fill="#20ad20" stroke="#0b400b" stroke-width="0.45"/>
<circle cx="1110.5" cy="82.6" r="1.6" fill="#20ad20" stroke="#0b400b" stroke-width="0.45"/>
<circle cx="1129.3" cy="91.5" r="1.6" fill="#20ad20" stroke="#0b400b" stroke-width="0.45"/>
<circle cx="1106.6" cy="76.0" r="1.6" fill="#20ad20" stroke="#0b400b" stroke-width="0.45"/>
<circle cx="1106.5" cy="92.0" r="1.6" fill="#20ad20" stroke="#0b400b" stroke-width="0.45"/>
<circle cx="1132.0" cy="67.7" r="1.6" fill="#20ad20" stroke="#0b400b" stroke-width="0.45"/>
<circle cx="1144.2" cy="96.9" r="1.6" fill="#20ad20" stroke="#0b400b" stroke-width="0.45"/>
<circle cx="1130.3" cy="85.9" r="1.6" fill="#20ad20" stroke="#0b400b" stroke-width="0.45"/>
<circle cx="1109.3" cy="66.8" r="1.6" fill="#20ad20" stroke="#0b400b" stroke-width="0.45"/>
<circle cx="1125.0" cy="68.2" r="1.6" fill="#20ad20" stroke="#0b400b" stroke-width="0.45"/>
<circle cx="1110.7" cy="74.0" r="1.6" fill="#20ad20" stroke="#0b400b" stroke-width="0.45"/>
<circle cx="1103.9" cy="81.1" r="1.6" fill="#20ad20" stroke="#0b400b" stroke-width="0.45"/>
<circle cx="1121.3" cy="93.1" r="1.6" fill="#20ad20" stroke="#0b400b" stroke-width="0.45"/>
<circle cx="1124.6" cy="86.7" r="1.6" fill="#20ad20" stroke="#0b400b" stroke-width="0.45"/>
<circle cx="1123.8" cy="87.4" r="1.6" fill="#20ad20" stroke="#0b400b" stroke-width="0.45"/>
<circle cx="1122.0" cy="75.2" r="1.6" fill="#20ad20" stroke="#0b400b" stroke-width="0.45"/>
<circle cx="1144.8" cy="97.9" r="1.6" fill="#20ad20" stroke="#0b400b" stroke-width="0.45"/>
<circle cx="1138.2" cy="88.8" r="1.6" fill="#20ad20" stroke="#0b400b" stroke-width="0.45"/>
<circle cx="1116.0" cy="73.6" r="1.6" fill="#20ad20" stroke="#0b400b" stroke-width="0.45"/>
<circle cx="1114.9" cy="68.6" r="1.6" fill="#20ad20" stroke="#0b400b" stroke-width="0.45"/>
<circle cx="1135.1" cy="79.1" r="1.6" fill="#20ad20" stroke="#0b400b" stroke-width="0.45"/>
<circle cx="1138.5" cy="78.6" r="1.6" fill="#20ad20" stroke="#0b400b" stroke-width="0.45"/>
<circle cx="1143.2" cy="93.2" r="1.6" fill="#20ad20" stroke="#0b400b" stroke-width="0.45"/>
<circle cx="1102.7" cy="73.0" r="1.6" fill="#20ad20" stroke="#0b400b" stroke-width="0.45"/>
<circle cx="1141.2" cy="81.3" r="1.6" fill="#20ad20" stroke="#0b400b" stroke-width="0.45"/>
<circle cx="1144.1" cy="79.0" r="1.6" fill="#20ad20" stroke="#0b400b" stroke-width="0.45"/>
<circle cx="1105.8" cy="86.3" r="1.6" fill="#20ad20" stroke="#0b400b" stroke-width="0.45"/>
<circle cx="1135.6" cy="74.9" r="1.6" fill="#20ad20" stroke="#0b400b" stroke-width="0.45"/>
<circle cx="1106.4" cy="76.9" r="1.6" fill="#20ad20" stroke="#0b400b" stroke-width="0.45"/>
<circle cx="1143.4" cy="90.4" r="1.6" fill="#20ad20" stroke="#0b400b" stroke-width="0.45"/>
<circle cx="1107.7" cy="74.2" r="1.6" fill="#20ad20" stroke="#0b400b" stroke-width="0.45"/>
<circle cx="1106.9" cy="68.3" r="1.6" fill="#20ad20" stroke="#0b400b" stroke-width="0.45"/>
<circle cx="1136.4" cy="72.0" r="1.6" fill="#20ad20" stroke="#0b400b" stroke-width="0.45"/>
<circle cx="1126.3" cy="80.5" r="1.6" fill="#20ad20" stroke="#0b400b" stroke-width="0.45"/>
<circle cx="1110.7" cy="89.6" r="1.6" fill="#20ad20" stroke="#0b400b" stroke-width="0.45"/>
<circle cx="1108.2" cy="86.8" r="1.6" fill="#20ad20" stroke="#0b400b" stroke-width="0.45"/>
<circle cx="1107.6" cy="79.7" r="1.6" fill="#20ad20" stroke="#0b400b" stroke-width="0.45"/>
<circle cx="1111.7" cy="74.9" r="1.6" fill="#20ad20" stroke="#0b400b" stroke-width="0.45"/>
<circle cx="1143.9" cy="124.0" r="1.6" fill="#20ad20" stroke="#0b400b" stroke-width="0.45"/>
<circle cx="1118.8" cy="126.9" r="1.6" fill="#20ad20" stroke="#0b400b" stroke-width="0.45"/>
<circle cx="1115.3" cy="109.6" r="1.6" fill="#20ad20" stroke="#0b400b" stroke-width="0.45"/>
<circle cx="1139.5" cy="118.3" r="1.6" fill="#20ad20" stroke="#0b400b" stroke-width="0.45"/>
<circle cx="1111.1" cy="130.6" r="1.6" fill="#20ad20" stroke="#0b400b" stroke-width="0.45"/>
<circle cx="1115.4" cy="104.8" r="1.6" fill="#20ad20" stroke="#0b400b" stroke-width="0.45"/>
<circle cx="1136.4" cy="107.3" r="1.6" fill="#20ad20" stroke="#0b400b" stroke-width="0.45"/>
<circle cx="1118.5" cy="98.3" r="1.6" fill="#20ad20" stroke="#0b400b" stroke-width="0.45"/>
<circle cx="1110.8" cy="116.2" r="1.6" fill="#20ad20" stroke="#0b400b" stroke-width="0.45"/>
<circle cx="1116.5" cy="116.9" r="1.6" fill="#20ad20" stroke="#0b400b" stroke-width="0.45"/>
<circle cx="1121.3" cy="111.7" r="1.6" fill="#20ad20" stroke="#0b400b" stroke-width="0.45"/>
<circle cx="1143.4" cy="112.8" r="1.6" fill="#20ad20" stroke="#0b400b" stroke-width="0.45"/>
<circle cx="1129.0" cy="126.2" r="1.6" fill="#20ad20" stroke="#0b400b" stroke-width="0.45"/>
<circle cx="1114.2" cy="101.1" r="1.6" fill="#20ad20" stroke="#0b400b" stroke-width="0.45"/>
<circle cx="1141.5" cy="124.5" r="1.6" fill="#20ad20" stroke="#0b400b" stroke-width="0.45"/>
<circle cx="1116.7" cy="102.4" r="1.6" fill="#20ad20" stroke="#0b400b" stroke-width="0.45"/>
<circle cx="1135.2" cy="128.8" r="1.6" fill="#20ad20" stroke="#0b400b" stroke-width="0.45"/>
<circle cx="1114.8" cy="129.2" r="1.6" fill="#20ad20" stroke="#0b400b" stroke-width="0.45"/>
<circle cx="1140.5" cy="117.0" r="1.6" fill="#20ad20" stroke="#0b400b" stroke-width="0.45"/>
<circle cx="1123.2" cy="99.4" r="1.6" fill="#20ad20" stroke="#0b400b" stroke-width="0.45"/>
<circle cx="1129.7" cy="59.8" r="1.6" fill="#20ad20" stroke="#0b400b" stroke-width="0.45"/>
<circle cx="1135.1" cy="59.8" r="1.6" fill="#20ad20" stroke="#0b400b" stroke-width="0.45"/>
<circle cx="1156.7" cy="98.5" r="1.6" fill="#20ad20" stroke="#0b400b" stroke-width="0.45"/>
<circle cx="1096.3" cy="130.9" r="1.6" fill="#20ad20" stroke="#0b400b" stroke-width="0.45"/>
<circle cx="1106.2" cy="130.9" r="1.6" fill="#20ad20" stroke="#0b400b" stroke-width="0.45"/>
<circle cx="1110.4" cy="125.8" r="1.6" fill="#20ad20" stroke="#0b400b" stroke-width="0.45"/>
<circle cx="1123.3" cy="129.3" r="1.6" fill="#20ad20" stroke="#0b400b" stroke-width="0.45"/>
<circle cx="1134.4" cy="128.1" r="1.6" fill="#20ad20" stroke="#0b400b" stroke-width="0.45"/>
<circle cx="1013.6" cy="144.4" r="1.6" fill="#20ad20" stroke="#0b400b" stroke-width="0.45"/>
<circle cx="1020.4" cy="140.2" r="1.6" fill="#20ad20" stroke="#0b400b" stroke-width="0.45"/>
<circle cx="1021.0" cy="142.1" r="1.6" fill="#20ad20" stroke="#0b400b" stroke-width="0.45"/>
<circle cx="1032.6" cy="133.4" r="1.6" fill="#20ad20" stroke="#0b400b" stroke-width="0.45"/>
<circle cx="1018.2" cy="140.4" r="1.6" fill="#20ad20" stroke="#0b400b" stroke-width="0.45"/>
<circle cx="1014.6" cy="132.3" r="1.6" fill="#20ad20" stroke="#0b400b" stroke-width="0.45"/>
<circle cx="1031.3" cy="142.6" r="1.6" fill="#20ad20" stroke="#0b400b" stroke-width="0.45"/>
<circle cx="1033.2" cy="133.2" r="1.6" fill="#20ad20" stroke="#0b400b" stroke-width="0.45"/>
<circle cx="1043.5" cy="131.9" r="1.6" fill="#20ad20" stroke="#0b400b" stroke-width="0.45"/>
<circle cx="1012.8" cy="133.0" r="1.6" fill="#20ad20" stroke="#0b400b" stroke-width="0.45"/>
<circle cx="1027.4" cy="129.6" r="1.6" fill="#20ad20" stroke="#0b400b" stroke-width="0.45"/>
<circle cx="1018.3" cy="134.7" r="1.6" fill="#20ad20" stroke="#0b400b" stroke-width="0.45"/>
<circle cx="1031.7" cy="130.8" r="1.6" fill="#20ad20" stroke="#0b400b" stroke-width="0.45"/>
<circle cx="1024.6" cy="143.2" r="1.6" fill="#20ad20" stroke="#0b400b" stroke-width="0.45"/>
<circle cx="1026.9" cy="195.6" r="1.6" fill="#20ad20" stroke="#0b400b" stroke-width="0.45"/>
<circle cx="1017.7" cy="193.4" r="1.6" fill="#20ad20" stroke="#0b400b" stroke-width="0.45"/>
<circle cx="1000.3" cy="176.6" r="1.6" fill="#20ad20" stroke="#0b400b" stroke-width="0.45"/>
<circle cx="996.4" cy="203.4" r="1.6" fill="#20ad20" stroke="#0b400b" stroke-width="0.45"/>
<circle cx="1018.0" cy="205.0" r="1.6" fill="#20ad20" stroke="#0b400b" stroke-width="0.45"/>
<circle cx="996.5" cy="195.0" r="1.6" fill="#20ad20" stroke="#0b400b" stroke-width="0.45"/>
<circle cx="1011.1" cy="197.9" r="1.6" fill="#20ad20" stroke="#0b400b" stroke-width="0.45"/>
<circle cx="1005.9" cy="206.1" r="1.6" fill="#20ad20" stroke="#0b400b" stroke-width="0.45"/>
<circle cx="998.2" cy="192.2" r="1.6" fill="#20ad20" stroke="#0b400b" stroke-width="0.45"/>
<circle cx="1019.2" cy="203.0" r="1.6" fill="#20ad20" stroke="#0b400b" stroke-width="0.45"/>
<circle cx="1019.2" cy="197.0" r="1.6" fill="#20ad20" stroke="#0b400b" stroke-width="0.45"/>
<circle cx="1021.0" cy="203.5" r="1.6" fill="#20ad20" stroke="#0b400b" stroke-width="0.45"/>
<circle cx="1007.0" cy="196.5" r="1.6" fill="#20ad20" stroke="#0b400b" stroke-width="0.45"/>
<circle cx="1024.4" cy="202.2" r="1.6" fill="#20ad20" stroke="#0b400b" stroke-width="0.45"/>
<circle cx="1009.0" cy="199.7" r="1.6" fill="#20ad20" stroke="#0b400b" stroke-width="0.45"/>
<circle cx="1023.2" cy="193.1" r="1.6" fill="#20ad20" stroke="#0b400b" stroke-width="0.45"/>
<circle cx="1015.6" cy="187.2" r="1.6" fill="#20ad20" stroke="#0b400b" stroke-width="0.45"/>
<circle cx="1014.3" cy="194.2" r="1.6" fill="#20ad20" stroke="#0b400b" stroke-width="0.45"/>
<circle cx="1041.3" cy="195.1" r="1.6" fill="#20ad20" stroke="#0b400b" stroke-width="0.45"/>
<circle cx="1064.9" cy="202.4" r="1.6" fill="#20ad20" stroke="#0b400b" stroke-width="0.45"/>
<circle cx="1058.1" cy="187.4" r="1.6" fill="#20ad20" stroke="#0b400b" stroke-width="0.45"/>
<circle cx="1058.2" cy="193.3" r="1.6" fill="#20ad20" stroke="#0b400b" stroke-width="0.45"/>
<circle cx="1050.6" cy="201.2" r="1.6" fill="#20ad20" stroke="#0b400b" stroke-width="0.45"/>
<circle cx="1041.4" cy="198.5" r="1.6" fill="#20ad20" stroke="#0b400b" stroke-width="0.45"/>
<circle cx="1040.0" cy="193.9" r="1.6" fill="#20ad20" stroke="#0b400b" stroke-width="0.45"/>
<circle cx="1051.7" cy="182.6" r="1.6" fill="#20ad20" stroke="#0b400b" stroke-width="0.45"/>
<circle cx="1057.3" cy="190.7" r="1.6" fill="#20ad20" stroke="#0b400b" stroke-width="0.45"/>
<circle cx="1055.1" cy="203.7" r="1.6" fill="#20ad20" stroke="#0b400b" stroke-width="0.45"/>
<circle cx="1045.9" cy="175.9" r="1.6" fill="#20ad20" stroke="#0b400b" stroke-width="0.45"/>
<circle cx="1047.0" cy="196.3" r="1.6" fill="#20ad20" stroke="#0b400b" stroke-width="0.45"/>
<circle cx="1104.6" cy="187.4" r="1.6" fill="#20ad20" stroke="#0b400b" stroke-width="0.45"/>
<circle cx="1119.5" cy="201.2" r="1.6" fill="#20ad20" stroke="#0b400b" stroke-width="0.45"/>
<circle cx="1109.7" cy="207.7" r="1.6" fill="#20ad20" stroke="#0b400b" stroke-width="0.45"/>
<circle cx="1107.2" cy="201.4" r="1.6" fill="#20ad20" stroke="#0b400b" stroke-width="0.45"/>
<circle cx="1104.5" cy="194.8" r="1.6" fill="#20ad20" stroke="#0b400b" stroke-width="0.45"/>
<circle cx="1117.4" cy="208.4" r="1.6" fill="#20ad20" stroke="#0b400b" stroke-width="0.45"/>
<circle cx="1118.9" cy="193.4" r="1.6" fill="#20ad20" stroke="#0b400b" stroke-width="0.45"/>
<circle cx="1112.6" cy="191.5" r="1.6" fill="#20ad20" stroke="#0b400b" stroke-width="0.45"/>
<circle cx="1103.2" cy="196.6" r="1.6" fill="#20ad20" stroke="#0b400b" stroke-width="0.45"/>
<circle cx="1118.0" cy="206.5" r="1.6" fill="#20ad20" stroke="#0b400b" stroke-width="0.45"/>
<circle cx="1115.4" cy="209.4" r="1.6" fill="#20ad20" stroke="#0b400b" stroke-width="0.45"/>
<circle cx="1106.2" cy="187.4" r="1.6" fill="#20ad20" stroke="#0b400b" stroke-width="0.45"/>
<circle cx="959.4" cy="187.0" r="1.6" fill="#20ad20" stroke="#0b400b" stroke-width="0.45"/>
<circle cx="948.3" cy="191.5" r="1.6" fill="#20ad20" stroke="#0b400b" stroke-width="0.45"/>
<circle cx="967.7" cy="194.1" r="1.6" fill="#20ad20" stroke="#0b400b" stroke-width="0.45"/>
<circle cx="953.1" cy="205.5" r="1.6" fill="#20ad20" stroke="#0b400b" stroke-width="0.45"/>
<circle cx="984.4" cy="192.8" r="1.6" fill="#20ad20" stroke="#0b400b" stroke-width="0.45"/>
<circle cx="941.8" cy="178.9" r="1.6" fill="#20ad20" stroke="#0b400b" stroke-width="0.45"/>
<circle cx="979.3" cy="179.3" r="1.6" fill="#20ad20" stroke="#0b400b" stroke-width="0.45"/>
<circle cx="971.6" cy="196.7" r="1.6" fill="#20ad20" stroke="#0b400b" stroke-width="0.45"/>
<circle cx="952.8" cy="203.9" r="1.6" fill="#20ad20" stroke="#0b400b" stroke-width="0.45"/>
<circle cx="939.2" cy="182.4" r="1.6" fill="#20ad20" stroke="#0b400b" stroke-width="0.45"/>
<circle cx="958.4" cy="216.5" r="1.6" fill="#20ad20" stroke="#0b400b" stroke-width="0.45"/>
<circle cx="976.8" cy="228.9" r="1.6" fill="#20ad20" stroke="#0b400b" stroke-width="0.45"/>
<circle cx="942.9" cy="217.8" r="1.6" fill="#20ad20" stroke="#0b400b" stroke-width="0.45"/>
<circle cx="967.0" cy="241.2" r="1.6" fill="#20ad20" stroke="#0b400b" stroke-width="0.45"/>
<circle cx="967.0" cy="253.5" r="1.6" fill="#20ad20" stroke="#0b400b" stroke-width="0.45"/>
<circle cx="975.7" cy="271.3" r="1.6" fill="#20ad20" stroke="#0b400b" stroke-width="0.45"/>
<circle cx="969.7" cy="226.7" r="1.6" fill="#20ad20" stroke="#0b400b" stroke-width="0.45"/>
<circle cx="959.4" cy="225.5" r="1.6" fill="#20ad20" stroke="#0b400b" stroke-width="0.45"/>
<circle cx="936.5" cy="242.7" r="1.6" fill="#20ad20" stroke="#0b400b" stroke-width="0.45"/>
<circle cx="971.1" cy="225.5" r="1.6" fill="#20ad20" stroke="#0b400b" stroke-width="0.45"/>
<circle cx="949.4" cy="235.3" r="1.6" fill="#20ad20" stroke="#0b400b" stroke-width="0.45"/>
<circle cx="970.3" cy="245.6" r="1.6" fill="#20ad20" stroke="#0b400b" stroke-width="0.45"/>
<circle cx="966.2" cy="259.4" r="1.6" fill="#20ad20" stroke="#0b400b" stroke-width="0.45"/>
<circle cx="955.3" cy="261.5" r="1.6" fill="#20ad20" stroke="#0b400b" stroke-width="0.45"/>
<circle cx="980.6" cy="220.1" r="1.6" fill="#20ad20" stroke="#0b400b" stroke-width="0.45"/>
<circle cx="981.9" cy="257.4" r="1.6" fill="#20ad20" stroke="#0b400b" stroke-width="0.45"/>
<circle cx="942.3" cy="241.6" r="1.6" fill="#20ad20" stroke="#0b400b" stroke-width="0.45"/>
<circle cx="966.8" cy="268.4" r="1.6" fill="#20ad20" stroke="#0b400b" stroke-width="0.45"/>
<circle cx="954.5" cy="248.4" r="1.6" fill="#20ad20" stroke="#0b400b" stroke-width="0.45"/>
<circle cx="979.3" cy="261.8" r="1.6" fill="#20ad20" stroke="#0b400b" stroke-width="0.45"/>
<circle cx="982.5" cy="242.2" r="1.6" fill="#20ad20" stroke="#0b400b" stroke-width="0.45"/>
<circle cx="968.0" cy="227.0" r="1.6" fill="#20ad20" stroke="#0b400b" stroke-width="0.45"/>
<circle cx="971.5" cy="263.0" r="1.6" fill="#20ad20" stroke="#0b400b" stroke-width="0.45"/>
<circle cx="967.6" cy="257.1" r="1.6" fill="#20ad20" stroke="#0b400b" stroke-width="0.45"/>
<circle cx="946.4" cy="267.8" r="1.6" fill="#20ad20" stroke="#0b400b" stroke-width="0.45"/>
<circle cx="984.3" cy="272.4" r="1.6" fill="#20ad20" stroke="#0b400b" stroke-width="0.45"/>
<circle cx="962.4" cy="261.4" r="1.6" fill="#20ad20" stroke="#0b400b" stroke-width="0.45"/>
<circle cx="951.7" cy="268.4" r="1.6" fill="#20ad20" stroke="#0b400b" stroke-width="0.45"/>
<circle cx="978.1" cy="235.5" r="1.6" fill="#20ad20" stroke="#0b400b" stroke-width="0.45"/>
<circle cx="940.0" cy="240.9" r="1.6" fill="#20ad20" stroke="#0b400b" stroke-width="0.45"/>
<circle cx="1030.8" cy="242.1" r="1.6" fill="#20ad20" stroke="#0b400b" stroke-width="0.45"/>
<circle cx="1026.7" cy="216.0" r="1.6" fill="#20ad20" stroke="#0b400b" stroke-width="0.45"/>
<circle cx="1047.8" cy="217.3" r="1.6" fill="#20ad20" stroke="#0b400b" stroke-width="0.45"/>
<circle cx="1047.2" cy="221.1" r="1.6" fill="#20ad20" stroke="#0b400b" stroke-width="0.45"/>
<circle cx="1016.7" cy="242.8" r="1.6" fill="#20ad20" stroke="#0b400b" stroke-width="0.45"/>
<circle cx="1003.9" cy="220.2" r="1.6" fill="#20ad20" stroke="#0b400b" stroke-width="0.45"/>
<circle cx="1028.6" cy="240.5" r="1.6" fill="#20ad20" stroke="#0b400b" stroke-width="0.45"/>
<circle cx="1049.9" cy="239.3" r="1.6" fill="#20ad20" stroke="#0b400b" stroke-width="0.45"/>
<circle cx="1056.8" cy="232.4" r="1.6" fill="#20ad20" stroke="#0b400b" stroke-width="0.45"/>
<circle cx="1057.1" cy="218.0" r="1.6" fill="#20ad20" stroke="#0b400b" stroke-width="0.45"/>
<circle cx="1009.2" cy="233.6" r="1.6" fill="#20ad20" stroke="#0b400b" stroke-width="0.45"/>
<circle cx="1013.7" cy="240.7" r="1.6" fill="#20ad20" stroke="#0b400b" stroke-width="0.45"/>
<circle cx="1036.6" cy="233.4" r="1.6" fill="#20ad20" stroke="#0b400b" stroke-width="0.45"/>
<circle cx="1050.1" cy="234.7" r="1.6" fill="#20ad20" stroke="#0b400b" stroke-width="0.45"/>
<circle cx="1015.1" cy="228.4" r="1.6" fill="#20ad20" stroke="#0b400b" stroke-width="0.45"/>
<circle cx="1050.2" cy="246.7" r="1.6" fill="#20ad20" stroke="#0b400b" stroke-width="0.45"/>
<circle cx="1008.3" cy="245.0" r="1.6" fill="#20ad20" stroke="#0b400b" stroke-width="0.45"/>
<circle cx="1058.3" cy="233.5" r="1.6" fill="#20ad20" stroke="#0b400b" stroke-width="0.45"/>
<circle cx="1032.3" cy="222.1" r="1.6" fill="#20ad20" stroke="#0b400b" stroke-width="0.45"/>
<circle cx="1029.9" cy="232.7" r="1.6" fill="#20ad20" stroke="#0b400b" stroke-width="0.45"/>
<circle cx="1034.4" cy="216.0" r="1.6" fill="#20ad20" stroke="#0b400b" stroke-width="0.45"/>
<circle cx="1058.4" cy="233.2" r="1.6" fill="#20ad20" stroke="#0b400b" stroke-width="0.45"/>
<circle cx="1021.0" cy="243.2" r="1.6" fill="#20ad20" stroke="#0b400b" stroke-width="0.45"/>
<circle cx="1031.7" cy="232.3" r="1.6" fill="#20ad20" stroke="#0b400b" stroke-width="0.45"/>
<circle cx="1040.1" cy="217.3" r="1.6" fill="#20ad20" stroke="#0b400b" stroke-width="0.45"/>
<circle cx="1030.1" cy="229.6" r="1.6" fill="#20ad20" stroke="#0b400b" stroke-width="0.45"/>
<circle cx="1057.6" cy="247.5" r="1.6" fill="#20ad20" stroke="#0b400b" stroke-width="0.45"/>
<circle cx="1012.3" cy="231.7" r="1.6" fill="#20ad20" stroke="#0b400b" stroke-width="0.45"/>
<circle cx="1003.0" cy="230.3" r="1.6" fill="#20ad20" stroke="#0b400b" stroke-width="0.45"/>
<circle cx="1048.3" cy="246.7" r="1.6" fill="#20ad20" stroke="#0b400b" stroke-width="0.45"/>
<circle cx="1042.5" cy="274.1" r="1.6" fill="#20ad20" stroke="#0b400b" stroke-width="0.45"/>
<circle cx="1053.3" cy="250.7" r="1.6" fill="#20ad20" stroke="#0b400b" stroke-width="0.45"/>
<circle cx="1031.3" cy="311.0" r="1.6" fill="#20ad20" stroke="#0b400b" stroke-width="0.45"/>
<circle cx="1028.4" cy="299.0" r="1.6" fill="#20ad20" stroke="#0b400b" stroke-width="0.45"/>
<circle cx="1041.7" cy="250.9" r="1.6" fill="#20ad20" stroke="#0b400b" stroke-width="0.45"/>
<circle cx="1039.5" cy="291.4" r="1.6" fill="#20ad20" stroke="#0b400b" stroke-width="0.45"/>
<circle cx="1052.8" cy="264.2" r="1.6" fill="#20ad20" stroke="#0b400b" stroke-width="0.45"/>
<circle cx="1056.9" cy="243.6" r="1.6" fill="#20ad20" stroke="#0b400b" stroke-width="0.45"/>
<circle cx="1050.5" cy="245.1" r="1.6" fill="#20ad20" stroke="#0b400b" stroke-width="0.45"/>
<circle cx="1040.4" cy="255.6" r="1.6" fill="#20ad20" stroke="#0b400b" stroke-width="0.45"/>
<circle cx="1046.1" cy="278.6" r="1.6" fill="#20ad20" stroke="#0b400b" stroke-width="0.45"/>
<circle cx="1046.2" cy="265.8" r="1.6" fill="#20ad20" stroke="#0b400b" stroke-width="0.45"/>
<circle cx="1037.0" cy="278.5" r="1.6" fill="#20ad20" stroke="#0b400b" stroke-width="0.45"/>
<circle cx="1053.7" cy="251.8" r="1.6" fill="#20ad20" stroke="#0b400b" stroke-width="0.45"/>
<circle cx="1047.2" cy="287.4" r="1.6" fill="#20ad20" stroke="#0b400b" stroke-width="0.45"/>
<circle cx="1049.7" cy="304.9" r="1.6" fill="#20ad20" stroke="#0b400b" stroke-width="0.45"/>
<circle cx="1035.8" cy="305.4" r="1.6" fill="#20ad20" stroke="#0b400b" stroke-width="0.45"/>
<circle cx="1057.6" cy="295.9" r="1.6" fill="#20ad20" stroke="#0b400b" stroke-width="0.45"/>
<circle cx="1037.4" cy="309.2" r="1.6" fill="#20ad20" stroke="#0b400b" stroke-width="0.45"/>
<circle cx="1062.2" cy="260.9" r="1.6" fill="#20ad20" stroke="#0b400b" stroke-width="0.45"/>
<circle cx="1064.6" cy="252.9" r="1.6" fill="#20ad20" stroke="#0b400b" stroke-width="0.45"/>
<circle cx="1031.9" cy="307.9" r="1.6" fill="#20ad20" stroke="#0b400b" stroke-width="0.45"/>
<circle cx="1056.4" cy="254.6" r="1.6" fill="#20ad20" stroke="#0b400b" stroke-width="0.45"/>
<circle cx="1037.3" cy="256.3" r="1.6" fill="#20ad20" stroke="#0b400b" stroke-width="0.45"/>
<circle cx="1043.2" cy="303.4" r="1.6" fill="#20ad20" stroke="#0b400b" stroke-width="0.45"/>
<circle cx="1032.2" cy="299.9" r="1.6" fill="#20ad20" stroke="#0b400b" stroke-width="0.45"/>
<circle cx="1054.6" cy="268.1" r="1.6" fill="#20ad20" stroke="#0b400b" stroke-width="0.45"/>
<circle cx="1042.3" cy="236.4" r="1.6" fill="#20ad20" stroke="#0b400b" stroke-width="0.45"/>
<circle cx="1061.3" cy="291.1" r="1.6" fill="#20ad20" stroke="#0b400b" stroke-width="0.45"/>
<circle cx="1030.4" cy="314.6" r="1.6" fill="#20ad20" stroke="#0b400b" stroke-width="0.45"/>
<circle cx="1056.7" cy="276.5" r="1.6" fill="#20ad20" stroke="#0b400b" stroke-width="0.45"/>
<circle cx="1054.4" cy="276.3" r="1.6" fill="#20ad20" stroke="#0b400b" stroke-width="0.45"/>
<circle cx="1037.1" cy="250.5" r="1.6" fill="#20ad20" stroke="#0b400b" stroke-width="0.45"/>
<circle cx="1036.9" cy="243.7" r="1.6" fill="#20ad20" stroke="#0b400b" stroke-width="0.45"/>
<circle cx="1048.5" cy="280.3" r="1.6" fill="#20ad20" stroke="#0b400b" stroke-width="0.45"/>
<circle cx="1036.2" cy="281.7" r="1.6" fill="#20ad20" stroke="#0b400b" stroke-width="0.45"/>
<circle cx="1041.1" cy="250.1" r="1.6" fill="#20ad20" stroke="#0b400b" stroke-width="0.45"/>
<circle cx="1064.3" cy="304.0" r="1.6" fill="#20ad20" stroke="#0b400b" stroke-width="0.45"/>
<circle cx="1030.3" cy="311.2" r="1.6" fill="#20ad20" stroke="#0b400b" stroke-width="0.45"/>
<circle cx="1063.2" cy="240.1" r="1.6" fill="#20ad20" stroke="#0b400b" stroke-width="0.45"/>
<circle cx="1057.0" cy="272.9" r="1.6" fill="#20ad20" stroke="#0b400b" stroke-width="0.45"/>
<circle cx="1048.1" cy="261.8" r="1.6" fill="#20ad20" stroke="#0b400b" stroke-width="0.45"/>
<circle cx="1045.9" cy="277.3" r="1.6" fill="#20ad20" stroke="#0b400b" stroke-width="0.45"/>
<circle cx="1031.4" cy="284.4" r="1.6" fill="#20ad20" stroke="#0b400b" stroke-width="0.45"/>
<circle cx="1058.8" cy="292.6" r="1.6" fill="#20ad20" stroke="#0b400b" stroke-width="0.45"/>
<circle cx="1048.5" cy="249.9" r="1.6" fill="#20ad20" stroke="#0b400b" stroke-width="0.45"/>
<circle cx="1042.6" cy="295.7" r="1.6" fill="#20ad20" stroke="#0b400b" stroke-width="0.45"/>
<circle cx="1039.9" cy="251.0" r="1.6" fill="#20ad20" stroke="#0b400b" stroke-width="0.45"/>
<circle cx="1032.4" cy="277.1" r="1.6" fill="#20ad20" stroke="#0b400b" stroke-width="0.45"/>
<circle cx="1053.3" cy="308.4" r="1.6" fill="#20ad20" stroke="#0b400b" stroke-width="0.45"/>
<circle cx="1059.5" cy="292.9" r="1.6" fill="#20ad20" stroke="#0b400b" stroke-width="0.45"/>
<circle cx="1042.5" cy="286.7" r="1.6" fill="#20ad20" stroke="#0b400b" stroke-width="0.45"/>
<circle cx="1048.0" cy="284.2" r="1.6" fill="#20ad20" stroke="#0b400b" stroke-width="0.45"/>
<circle cx="1046.3" cy="315.7" r="1.6" fill="#20ad20" stroke="#0b400b" stroke-width="0.45"/>
<circle cx="1061.9" cy="256.2" r="1.6" fill="#20ad20" stroke="#0b400b" stroke-width="0.45"/>
<circle cx="1056.4" cy="296.2" r="1.6" fill="#20ad20" stroke="#0b400b" stroke-width="0.45"/>
<circle cx="1042.6" cy="301.9" r="1.6" fill="#20ad20" stroke="#0b400b" stroke-width="0.45"/>
<circle cx="1055.5" cy="308.7" r="1.6" fill="#20ad20" stroke="#0b400b" stroke-width="0.45"/>
<circle cx="1056.0" cy="292.1" r="1.6" fill="#20ad20" stroke="#0b400b" stroke-width="0.45"/>
<circle cx="1042.6" cy="297.9" r="1.6" fill="#20ad20" stroke="#0b400b" stroke-width="0.45"/>
<circle cx="1030.1" cy="294.4" r="1.6" fill="#20ad20" stroke="#0b400b" stroke-width="0.45"/>
<circle cx="1048.1" cy="263.1" r="1.6" fill="#20ad20" stroke="#0b400b" stroke-width="0.45"/>
<circle cx="1046.7" cy="235.8" r="1.6" fill="#20ad20" stroke="#0b400b" stroke-width="0.45"/>
<circle cx="1050.7" cy="287.5" r="1.6" fill="#20ad20" stroke="#0b400b" stroke-width="0.45"/>
<circle cx="1063.0" cy="254.0" r="1.6" fill="#20ad20" stroke="#0b400b" stroke-width="0.45"/>
<circle cx="1040.1" cy="289.7" r="1.6" fill="#20ad20" stroke="#0b400b" stroke-width="0.45"/>
<circle cx="1048.7" cy="289.2" r="1.6" fill="#20ad20" stroke="#0b400b" stroke-width="0.45"/>
<circle cx="1044.5" cy="278.8" r="1.6" fill="#20ad20" stroke="#0b400b" stroke-width="0.45"/>
<circle cx="1041.4" cy="317.2" r="1.6" fill="#20ad20" stroke="#0b400b" stroke-width="0.45"/>
<circle cx="1055.8" cy="292.6" r="1.6" fill="#20ad20" stroke="#0b400b" stroke-width="0.45"/>
<circle cx="1028.1" cy="315.5" r="1.6" fill="#20ad20" stroke="#0b400b" stroke-width="0.45"/>
<circle cx="1054.9" cy="285.5" r="1.6" fill="#20ad20" stroke="#0b400b" stroke-width="0.45"/>
<circle cx="1046.5" cy="256.1" r="1.6" fill="#20ad20" stroke="#0b400b" stroke-width="0.45"/>
<circle cx="1041.9" cy="239.1" r="1.6" fill="#20ad20" stroke="#0b400b" stroke-width="0.45"/>
<circle cx="1036.3" cy="265.8" r="1.6" fill="#20ad20" stroke="#0b400b" stroke-width="0.45"/>
<circle cx="1061.8" cy="255.6" r="1.6" fill="#20ad20" stroke="#0b400b" stroke-width="0.45"/>
<circle cx="1048.3" cy="280.2" r="1.6" fill="#20ad20" stroke="#0b400b" stroke-width="0.45"/>
<circle cx="1041.6" cy="314.5" r="1.6" fill="#20ad20" stroke="#0b400b" stroke-width="0.45"/>
<circle cx="1041.6" cy="316.8" r="1.6" fill="#20ad20" stroke="#0b400b" stroke-width="0.45"/>
<circle cx="1030.3" cy="301.5" r="1.6" fill="#20ad20" stroke="#0b400b" stroke-width="0.45"/>
<circle cx="1056.5" cy="284.1" r="1.6" fill="#20ad20" stroke="#0b400b" stroke-width="0.45"/>
<circle cx="1062.7" cy="238.7" r="1.6" fill="#20ad20" stroke="#0b400b" stroke-width="0.45"/>
<circle cx="1049.2" cy="248.1" r="1.6" fill="#20ad20" stroke="#0b400b" stroke-width="0.45"/>
<circle cx="1049.8" cy="248.9" r="1.6" fill="#20ad20" stroke="#0b400b" stroke-width="0.45"/>
<circle cx="1032.9" cy="285.2" r="1.6" fill="#20ad20" stroke="#0b400b" stroke-width="0.45"/>
<circle cx="1038.9" cy="312.7" r="1.6" fill="#20ad20" stroke="#0b400b" stroke-width="0.45"/>
<circle cx="1051.4" cy="278.3" r="1.6" fill="#20ad20" stroke="#0b400b" stroke-width="0.45"/>
<circle cx="1042.3" cy="265.0" r="1.6" fill="#20ad20" stroke="#0b400b" stroke-width="0.45"/>
<circle cx="1048.3" cy="288.8" r="1.6" fill="#20ad20" stroke="#0b400b" stroke-width="0.45"/>
<circle cx="1056.0" cy="258.3" r="1.6" fill="#20ad20" stroke="#0b400b" stroke-width="0.45"/>
<circle cx="1034.4" cy="259.3" r="1.6" fill="#20ad20" stroke="#0b400b" stroke-width="0.45"/>
<circle cx="1035.8" cy="255.1" r="1.6" fill="#20ad20" stroke="#0b400b" stroke-width="0.45"/>
<circle cx="1057.4" cy="247.8" r="1.6" fill="#20ad20" stroke="#0b400b" stroke-width="0.45"/>
<circle cx="1061.4" cy="267.0" r="1.6" fill="#20ad20" stroke="#0b400b" stroke-width="0.45"/>
<circle cx="1029.4" cy="296.5" r="1.6" fill="#20ad20" stroke="#0b400b" stroke-width="0.45"/>
<circle cx="1049.0" cy="316.2" r="1.6" fill="#20ad20" stroke="#0b400b" stroke-width="0.45"/>
<circle cx="1061.9" cy="241.0" r="1.6" fill="#20ad20" stroke="#0b400b" stroke-width="0.45"/>
<circle cx="1047.9" cy="270.3" r="1.6" fill="#20ad20" stroke="#0b400b" stroke-width="0.45"/>
<circle cx="1033.4" cy="315.0" r="1.6" fill="#20ad20" stroke="#0b400b" stroke-width="0.45"/>
<circle cx="1062.6" cy="278.0" r="1.6" fill="#20ad20" stroke="#0b400b" stroke-width="0.45"/>
<circle cx="1044.9" cy="294.4" r="1.6" fill="#20ad20" stroke="#0b400b" stroke-width="0.45"/>
<circle cx="1046.9" cy="315.4" r="1.6" fill="#20ad20" stroke="#0b400b" stroke-width="0.45"/>
<circle cx="1034.8" cy="284.6" r="1.6" fill="#20ad20" stroke="#0b400b" stroke-width="0.45"/>
<circle cx="1044.4" cy="286.3" r="1.6" fill="#20ad20" stroke="#0b400b" stroke-width="0.45"/>
<circle cx="1036.4" cy="251.7" r="1.6" fill="#20ad20" stroke="#0b400b" stroke-width="0.45"/>
<circle cx="1035.8" cy="278.4" r="1.6" fill="#20ad20" stroke="#0b400b" stroke-width="0.45"/>
<circle cx="1054.0" cy="271.4" r="1.6" fill="#20ad20" stroke="#0b400b" stroke-width="0.45"/>
<circle cx="1040.9" cy="272.4" r="1.6" fill="#20ad20" stroke="#0b400b" stroke-width="0.45"/>
<circle cx="1045.2" cy="282.8" r="1.6" fill="#20ad20" stroke="#0b400b" stroke-width="0.45"/>
<circle cx="1047.2" cy="298.9" r="1.6" fill="#20ad20" stroke="#0b400b" stroke-width="0.45"/>
<circle cx="1048.3" cy="317.0" r="1.6" fill="#20ad20" stroke="#0b400b" stroke-width="0.45"/>
<circle cx="1036.4" cy="295.3" r="1.6" fill="#20ad20" stroke="#0b400b" stroke-width="0.45"/>
<circle cx="1061.5" cy="244.3" r="1.6" fill="#20ad20" stroke="#0b400b" stroke-width="0.45"/>
<circle cx="1050.7" cy="299.4" r="1.6" fill="#20ad20" stroke="#0b400b" stroke-width="0.45"/>
<circle cx="1041.9" cy="264.5" r="1.6" fill="#20ad20" stroke="#0b400b" stroke-width="0.45"/>
<circle cx="1048.5" cy="291.3" r="1.6" fill="#20ad20" stroke="#0b400b" stroke-width="0.45"/>
<circle cx="1052.3" cy="283.6" r="1.6" fill="#20ad20" stroke="#0b400b" stroke-width="0.45"/>
<circle cx="1034.6" cy="296.9" r="1.6" fill="#20ad20" stroke="#0b400b" stroke-width="0.45"/>
<circle cx="1064.0" cy="255.4" r="1.6" fill="#20ad20" stroke="#0b400b" stroke-width="0.45"/>
<circle cx="1053.8" cy="310.2" r="1.6" fill="#20ad20" stroke="#0b400b" stroke-width="0.45"/>
<circle cx="1038.2" cy="238.2" r="1.6" fill="#20ad20" stroke="#0b400b" stroke-width="0.45"/>
<circle cx="1047.2" cy="257.2" r="1.6" fill="#20ad20" stroke="#0b400b" stroke-width="0.45"/>
<circle cx="1031.3" cy="286.2" r="1.6" fill="#20ad20" stroke="#0b400b" stroke-width="0.45"/>
<circle cx="1034.0" cy="279.5" r="1.6" fill="#20ad20" stroke="#0b400b" stroke-width="0.45"/>
<circle cx="1055.4" cy="242.1" r="1.6" fill="#20ad20" stroke="#0b400b" stroke-width="0.45"/>
<circle cx="1052.4" cy="280.2" r="1.6" fill="#20ad20" stroke="#0b400b" stroke-width="0.45"/>
<circle cx="1048.3" cy="265.6" r="1.6" fill="#20ad20" stroke="#0b400b" stroke-width="0.45"/>
<circle cx="1045.1" cy="252.3" r="1.6" fill="#20ad20" stroke="#0b400b" stroke-width="0.45"/>
<circle cx="1058.6" cy="296.2" r="1.6" fill="#20ad20" stroke="#0b400b" stroke-width="0.45"/>
<circle cx="1039.6" cy="241.1" r="1.6" fill="#20ad20" stroke="#0b400b" stroke-width="0.45"/>
<circle cx="1050.7" cy="301.5" r="1.6" fill="#20ad20" stroke="#0b400b" stroke-width="0.45"/>
<circle cx="1035.4" cy="298.2" r="1.6" fill="#20ad20" stroke="#0b400b" stroke-width="0.45"/>
<circle cx="1041.0" cy="269.8" r="1.6" fill="#20ad20" stroke="#0b400b" stroke-width="0.45"/>
<circle cx="1041.2" cy="301.5" r="1.6" fill="#20ad20" stroke="#0b400b" stroke-width="0.45"/>
<circle cx="1064.2" cy="288.7" r="1.6" fill="#20ad20" stroke="#0b400b" stroke-width="0.45"/>
<circle cx="1050.7" cy="261.7" r="1.6" fill="#20ad20" stroke="#0b400b" stroke-width="0.45"/>
<circle cx="1061.7" cy="296.3" r="1.6" fill="#20ad20" stroke="#0b400b" stroke-width="0.45"/>
<circle cx="1044.5" cy="270.1" r="1.6" fill="#20ad20" stroke="#0b400b" stroke-width="0.45"/>
<circle cx="1061.0" cy="242.9" r="1.6" fill="#20ad20" stroke="#0b400b" stroke-width="0.45"/>
<circle cx="1038.5" cy="241.4" r="1.6" fill="#20ad20" stroke="#0b400b" stroke-width="0.45"/>
<circle cx="1047.5" cy="281.3" r="1.6" fill="#20ad20" stroke="#0b400b" stroke-width="0.45"/>
<circle cx="1038.6" cy="291.3" r="1.6" fill="#20ad20" stroke="#0b400b" stroke-width="0.45"/>
<circle cx="1030.3" cy="298.7" r="1.6" fill="#20ad20" stroke="#0b400b" stroke-width="0.45"/>
<circle cx="1054.5" cy="252.5" r="1.6" fill="#20ad20" stroke="#0b400b" stroke-width="0.45"/>
<circle cx="1044.8" cy="241.7" r="1.6" fill="#20ad20" stroke="#0b400b" stroke-width="0.45"/>
<circle cx="1053.3" cy="294.6" r="1.6" fill="#20ad20" stroke="#0b400b" stroke-width="0.45"/>
<circle cx="1038.5" cy="258.2" r="1.6" fill="#20ad20" stroke="#0b400b" stroke-width="0.45"/>
<circle cx="1056.1" cy="264.4" r="1.6" fill="#20ad20" stroke="#0b400b" stroke-width="0.45"/>
<circle cx="1037.0" cy="265.1" r="1.6" fill="#20ad20" stroke="#0b400b" stroke-width="0.45"/>
<circle cx="1048.6" cy="293.3" r="1.6" fill="#20ad20" stroke="#0b400b" stroke-width="0.45"/>
<circle cx="1055.4" cy="310.5" r="1.6" fill="#20ad20" stroke="#0b400b" stroke-width="0.45"/>
<circle cx="1040.7" cy="310.0" r="1.6" fill="#20ad20" stroke="#0b400b" stroke-width="0.45"/>
<circle cx="1038.8" cy="301.0" r="1.6" fill="#20ad20" stroke="#0b400b" stroke-width="0.45"/>
<circle cx="1046.1" cy="261.1" r="1.6" fill="#20ad20" stroke="#0b400b" stroke-width="0.45"/>
<circle cx="1052.6" cy="311.8" r="1.6" fill="#20ad20" stroke="#0b400b" stroke-width="0.45"/>
<circle cx="1045.4" cy="255.4" r="1.6" fill="#20ad20" stroke="#0b400b" stroke-width="0.45"/>
<circle cx="1044.7" cy="265.0" r="1.6" fill="#20ad20" stroke="#0b400b" stroke-width="0.45"/>
<circle cx="1045.3" cy="267.5" r="1.6" fill="#20ad20" stroke="#0b400b" stroke-width="0.45"/>
<circle cx="1051.7" cy="251.0" r="1.6" fill="#20ad20" stroke="#0b400b" stroke-width="0.45"/>
<circle cx="1047.6" cy="300.5" r="1.6" fill="#20ad20" stroke="#0b400b" stroke-width="0.45"/>
<circle cx="1048.4" cy="303.7" r="1.6" fill="#20ad20" stroke="#0b400b" stroke-width="0.45"/>
<circle cx="1057.5" cy="249.5" r="1.6" fill="#20ad20" stroke="#0b400b" stroke-width="0.45"/>
<circle cx="1036.9" cy="307.4" r="1.6" fill="#20ad20" stroke="#0b400b" stroke-width="0.45"/>
<circle cx="1051.1" cy="236.8" r="1.6" fill="#20ad20" stroke="#0b400b" stroke-width="0.45"/>
<circle cx="1050.3" cy="279.7" r="1.6" fill="#20ad20" stroke="#0b400b" stroke-width="0.45"/>
<circle cx="1043.7" cy="314.4" r="1.6" fill="#20ad20" stroke="#0b400b" stroke-width="0.45"/>
<circle cx="1029.9" cy="301.1" r="1.6" fill="#20ad20" stroke="#0b400b" stroke-width="0.45"/>
<circle cx="1057.6" cy="279.9" r="1.6" fill="#20ad20" stroke="#0b400b" stroke-width="0.45"/>
<circle cx="1038.4" cy="241.9" r="1.6" fill="#20ad20" stroke="#0b400b" stroke-width="0.45"/>
<circle cx="1060.9" cy="295.5" r="1.6" fill="#20ad20" stroke="#0b400b" stroke-width="0.45"/>
<circle cx="1054.2" cy="241.9" r="1.6" fill="#20ad20" stroke="#0b400b" stroke-width="0.45"/>
<circle cx="1057.2" cy="246.8" r="1.6" fill="#20ad20" stroke="#0b400b" stroke-width="0.45"/>
<circle cx="1036.6" cy="288.3" r="1.6" fill="#20ad20" stroke="#0b400b" stroke-width="0.45"/>
<circle cx="1057.6" cy="253.1" r="1.6" fill="#20ad20" stroke="#0b400b" stroke-width="0.45"/>
<circle cx="1056.9" cy="277.8" r="1.6" fill="#20ad20" stroke="#0b400b" stroke-width="0.45"/>
<circle cx="1018.4" cy="273.2" r="1.6" fill="#20ad20" stroke="#0b400b" stroke-width="0.45"/>
<circle cx="1035.9" cy="293.6" r="1.6" fill="#20ad20" stroke="#0b400b" stroke-width="0.45"/>
<circle cx="1021.5" cy="285.4" r="1.6" fill="#20ad20" stroke="#0b400b" stroke-width="0.45"/>
<circle cx="1028.4" cy="295.8" r="1.6" fill="#20ad20" stroke="#0b400b" stroke-width="0.45"/>
<circle cx="1034.3" cy="277.6" r="1.6" fill="#20ad20" stroke="#0b400b" stroke-width="0.45"/>
<circle cx="1031.6" cy="293.3" r="1.6" fill="#20ad20" stroke="#0b400b" stroke-width="0.45"/>
<circle cx="1032.4" cy="301.8" r="1.6" fill="#20ad20" stroke="#0b400b" stroke-width="0.45"/>
<circle cx="1031.8" cy="306.8" r="1.6" fill="#20ad20" stroke="#0b400b" stroke-width="0.45"/>
<circle cx="1035.6" cy="291.7" r="1.6" fill="#20ad20" stroke="#0b400b" stroke-width="0.45"/>
<circle cx="1022.4" cy="295.9" r="1.6" fill="#20ad20" stroke="#0b400b" stroke-width="0.45"/>
<circle cx="1030.9" cy="278.3" r="1.6" fill="#20ad20" stroke="#0b400b" stroke-width="0.45"/>
<circle cx="1019.2" cy="261.5" r="1.6" fill="#20ad20" stroke="#0b400b" stroke-width="0.45"/>
<circle cx="1029.0" cy="313.1" r="1.6" fill="#20ad20" stroke="#0b400b" stroke-width="0.45"/>
<circle cx="1017.8" cy="262.8" r="1.6" fill="#20ad20" stroke="#0b400b" stroke-width="0.45"/>
<circle cx="1104.7" cy="225.0" r="1.6" fill="#20ad20" stroke="#0b400b" stroke-width="0.45"/>
<circle cx="1107.6" cy="237.8" r="1.6" fill="#20ad20" stroke="#0b400b" stroke-width="0.45"/>
<circle cx="1099.9" cy="222.2" r="1.6" fill="#20ad20" stroke="#0b400b" stroke-width="0.45"/>
<circle cx="1101.7" cy="230.2" r="1.6" fill="#20ad20" stroke="#0b400b" stroke-width="0.45"/>
<circle cx="1123.5" cy="219.2" r="1.6" fill="#20ad20" stroke="#0b400b" stroke-width="0.45"/>
<circle cx="1100.0" cy="225.8" r="1.6" fill="#20ad20" stroke="#0b400b" stroke-width="0.45"/>
<circle cx="1117.2" cy="236.4" r="1.6" fill="#20ad20" stroke="#0b400b" stroke-width="0.45"/>
<circle cx="1099.2" cy="217.6" r="1.6" fill="#20ad20" stroke="#0b400b" stroke-width="0.45"/>
<circle cx="1104.0" cy="220.1" r="1.6" fill="#20ad20" stroke="#0b400b" stroke-width="0.45"/>
<circle cx="1105.7" cy="231.8" r="1.6" fill="#20ad20" stroke="#0b400b" stroke-width="0.45"/>
<circle cx="1117.5" cy="220.3" r="1.6" fill="#20ad20" stroke="#0b400b" stroke-width="0.45"/>
<circle cx="1104.1" cy="221.6" r="1.6" fill="#20ad20" stroke="#0b400b" stroke-width="0.45"/>
<circle cx="1107.5" cy="304.7" r="1.6" fill="#20ad20" stroke="#0b400b" stroke-width="0.45"/>
<circle cx="1111.5" cy="292.9" r="1.6" fill="#20ad20" stroke="#0b400b" stroke-width="0.45"/>
<circle cx="1125.7" cy="289.0" r="1.6" fill="#20ad20" stroke="#0b400b" stroke-width="0.45"/>
<circle cx="1110.0" cy="312.0" r="1.6" fill="#20ad20" stroke="#0b400b" stroke-width="0.45"/>
<circle cx="1128.4" cy="281.3" r="1.6" fill="#20ad20" stroke="#0b400b" stroke-width="0.45"/>
<circle cx="1118.1" cy="315.9" r="1.6" fill="#20ad20" stroke="#0b400b" stroke-width="0.45"/>
<circle cx="1116.3" cy="274.4" r="1.6" fill="#20ad20" stroke="#0b400b" stroke-width="0.45"/>
<circle cx="1104.1" cy="315.4" r="1.6" fill="#20ad20" stroke="#0b400b" stroke-width="0.45"/>
<circle cx="1125.3" cy="283.7" r="1.6" fill="#20ad20" stroke="#0b400b" stroke-width="0.45"/>
<circle cx="1117.5" cy="291.0" r="1.6" fill="#20ad20" stroke="#0b400b" stroke-width="0.45"/>
<circle cx="1110.4" cy="317.8" r="1.6" fill="#20ad20" stroke="#0b400b" stroke-width="0.45"/>
<circle cx="1121.2" cy="275.4" r="1.6" fill="#20ad20" stroke="#0b400b" stroke-width="0.45"/>
<circle cx="1103.0" cy="288.6" r="1.6" fill="#20ad20" stroke="#0b400b" stroke-width="0.45"/>
<circle cx="1113.1" cy="306.9" r="1.6" fill="#20ad20" stroke="#0b400b" stroke-width="0.45"/>
<circle cx="1006.4" cy="241.3" r="1.6" fill="#e0d020" stroke="#0b400b" stroke-width="0.45"/>
<circle cx="1025.6" cy="234.7" r="1.6" fill="#e0d020" stroke="#0b400b" stroke-width="0.45"/>
<circle cx="1014.6" cy="258.4" r="1.6" fill="#e0d020" stroke="#0b400b" stroke-width="0.45"/>
<circle cx="1027.5" cy="265.5" r="1.6" fill="#e02020" stroke="#0b400b" stroke-width="0.45"/>
<circle cx="1027.5" cy="272.5" r="1.6" fill="#e02020" stroke="#0b400b" stroke-width="0.45"/>
<circle cx="1045.1" cy="313.6" r="1.6" fill="#e02020" stroke="#0b400b" stroke-width="0.45"/>
<circle cx="1002.9" cy="316.0" r="1.6" fill="#e0d020" stroke="#0b400b" stroke-width="0.45"/>
<circle cx="1110.2" cy="76.5" r="1.6" fill="#e0d020" stroke="#0b400b" stroke-width="0.45"/>
<circle cx="1130.1" cy="89.8" r="1.6" fill="#e0d020" stroke="#0b400b" stroke-width="0.45"/>
<circle cx="1130.4" cy="104.4" r="1.6" fill="#e02020" stroke="#0b400b" stroke-width="0.45"/>
<circle cx="1002.4" cy="188.5" r="1.6" fill="#e0d020" stroke="#0b400b" stroke-width="0.45"/>
<circle cx="1001.2" cy="194.4" r="1.6" fill="#e0d020" stroke="#0b400b" stroke-width="0.45"/>
<circle cx="1007.6" cy="198.1" r="1.6" fill="#e0d020" stroke="#0b400b" stroke-width="0.45"/>
<circle cx="1047.5" cy="189.2" r="1.6" fill="#e02020" stroke="#0b400b" stroke-width="0.45"/>
<circle cx="1055.7" cy="196.7" r="1.6" fill="#e02020" stroke="#0b400b" stroke-width="0.45"/>
<rect x="896" y="391.6" width="276" height="0.8" fill="#141414"/>
</g></svg>
<svg class="abs" style="left:896px;top:427px" width="338" height="331" viewBox="896 427 338 331" font-family="Liberation Sans, sans-serif">
<rect x="896" y="427" width="338" height="331" fill="#252525"/>
<g transform="translate(896 468.3) scale(1.226) translate(-896 -37)">
<rect x="1036.9" y="45.5" width="105.7" height="0.9" fill="#0a0a0a"/>
<rect x="1032.2" y="52.0" width="110.4" height="1.9" fill="#080808"/>
<rect x="1061.6" y="44.0" width="2.8" height="2.8" fill="#000"/>
<rect x="1068.6" y="44.0" width="2.8" height="2.8" fill="#000"/>
<rect x="1090.9" y="44.0" width="2.8" height="2.8" fill="#000"/>
<rect x="1098.0" y="44.0" width="2.8" height="2.8" fill="#000"/>
<rect x="1066.5" y="71.8" width="28.4" height="20.4" fill="#2c2c2c"/>
<rect x="1065.1" y="54.6" width="32.9" height="10.6" fill="#1a1a1a"/>
<rect x="1076.8" y="55.8" width="9.4" height="18.8" fill="#0a0a0a"/>
<rect x="1066.3" y="57.0" width="8.2" height="8.2" fill="#101010" stroke="#555" stroke-width="0.3"/>
<rect x="1088.6" y="57.0" width="8.2" height="8.2" fill="#101010" stroke="#555" stroke-width="0.3"/>
<path d="M999.3,71.1 Q1013.4,72.2 1012.3,79.3 Q1013.4,87.5 999.3,88.2" fill="none" stroke="#050505" stroke-width="3.2"/>
<rect x="1018.1" y="66.4" width="48.6" height="26.3" fill="#070707" stroke="#8a8a8a" stroke-width="0.5"/>
<rect x="1018.6" y="67.1" width="13.6" height="25.1" fill="#1e1e1e" stroke="#6a6a6a" stroke-width="0.4"/>
<rect x="998.6" y="92.7" width="57.5" height="27.0" fill="#070707" stroke="#8a8a8a" stroke-width="0.5"/>
<rect x="1096.1" y="65.7" width="49.3" height="27.0" fill="#070707" stroke="#8a8a8a" stroke-width="0.5"/>
<rect x="1107.4" y="92.2" width="57.5" height="27.0" fill="#070707" stroke="#8a8a8a" stroke-width="0.5"/>
<polygon points="1145.4,80.4 1152.0,80.4 1159.0,91.0 1154.3,95.7 1145.4,91.0" fill="#0a0a0a" stroke="#777" stroke-width="0.4"/>
<rect x="1036.4" y="71.8" width="0.8" height="0.8" fill="#4a4a4a"/>
<rect x="1041.6" y="71.8" width="0.8" height="0.8" fill="#4a4a4a"/>
<rect x="1046.8" y="71.8" width="0.8" height="0.8" fill="#4a4a4a"/>
<rect x="1051.9" y="71.8" width="0.8" height="0.8" fill="#4a4a4a"/>
<rect x="1057.1" y="71.8" width="0.8" height="0.8" fill="#4a4a4a"/>
<rect x="1062.3" y="71.8" width="0.8" height="0.8" fill="#4a4a4a"/>
<rect x="1036.4" y="76.9" width="0.8" height="0.8" fill="#4a4a4a"/>
<rect x="1041.6" y="76.9" width="0.8" height="0.8" fill="#4a4a4a"/>
<rect x="1046.8" y="76.9" width="0.8" height="0.8" fill="#4a4a4a"/>
<rect x="1051.9" y="76.9" width="0.8" height="0.8" fill="#4a4a4a"/>
<rect x="1057.1" y="76.9" width="0.8" height="0.8" fill="#4a4a4a"/>
<rect x="1062.3" y="76.9" width="0.8" height="0.8" fill="#4a4a4a"/>
<rect x="1036.4" y="82.1" width="0.8" height="0.8" fill="#4a4a4a"/>
<rect x="1041.6" y="82.1" width="0.8" height="0.8" fill="#4a4a4a"/>
<rect x="1046.8" y="82.1" width="0.8" height="0.8" fill="#4a4a4a"/>
<rect x="1051.9" y="82.1" width="0.8" height="0.8" fill="#4a4a4a"/>
<rect x="1057.1" y="82.1" width="0.8" height="0.8" fill="#4a4a4a"/>
<rect x="1062.3" y="82.1" width="0.8" height="0.8" fill="#4a4a4a"/>
<rect x="1036.4" y="87.3" width="0.8" height="0.8" fill="#4a4a4a"/>
<rect x="1041.6" y="87.3" width="0.8" height="0.8" fill="#4a4a4a"/>
<rect x="1046.8" y="87.3" width="0.8" height="0.8" fill="#4a4a4a"/>
<rect x="1051.9" y="87.3" width="0.8" height="0.8" fill="#4a4a4a"/>
<rect x="1057.1" y="87.3" width="0.8" height="0.8" fill="#4a4a4a"/>
<rect x="1062.3" y="87.3" width="0.8" height="0.8" fill="#4a4a4a"/>
<rect x="1003.6" y="97.6" width="0.8" height="0.8" fill="#4a4a4a"/>
<rect x="1008.7" y="97.6" width="0.8" height="0.8" fill="#4a4a4a"/>
<rect x="1013.9" y="97.6" width="0.8" height="0.8" fill="#4a4a4a"/>
<rect x="1019.1" y="97.6" width="0.8" height="0.8" fill="#4a4a4a"/>
<rect x="1024.2" y="97.6" width="0.8" height="0.8" fill="#4a4a4a"/>
<rect x="1029.4" y="97.6" width="0.8" height="0.8" fill="#4a4a4a"/>
<rect x="1034.6" y="97.6" width="0.8" height="0.8" fill="#4a4a4a"/>
<rect x="1039.7" y="97.6" width="0.8" height="0.8" fill="#4a4a4a"/>
<rect x="1044.9" y="97.6" width="0.8" height="0.8" fill="#4a4a4a"/>
<rect x="1050.1" y="97.6" width="0.8" height="0.8" fill="#4a4a4a"/>
<rect x="1003.6" y="102.8" width="0.8" height="0.8" fill="#4a4a4a"/>
<rect x="1008.7" y="102.8" width="0.8" height="0.8" fill="#4a4a4a"/>
<rect x="1013.9" y="102.8" width="0.8" height="0.8" fill="#4a4a4a"/>
<rect x="1019.1" y="102.8" width="0.8" height="0.8" fill="#4a4a4a"/>
<rect x="1024.2" y="102.8" width="0.8" height="0.8" fill="#4a4a4a"/>
<rect x="1029.4" y="102.8" width="0.8" height="0.8" fill="#4a4a4a"/>
<rect x="1034.6" y="102.8" width="0.8" height="0.8" fill="#4a4a4a"/>
<rect x="1039.7" y="102.8" width="0.8" height="0.8" fill="#4a4a4a"/>
<rect x="1044.9" y="102.8" width="0.8" height="0.8" fill="#4a4a4a"/>
<rect x="1050.1" y="102.8" width="0.8" height="0.8" fill="#4a4a4a"/>
<rect x="1003.6" y="107.9" width="0.8" height="0.8" fill="#4a4a4a"/>
<rect x="1008.7" y="107.9" width="0.8" height="0.8" fill="#4a4a4a"/>
<rect x="1013.9" y="107.9" width="0.8" height="0.8" fill="#4a4a4a"/>
<rect x="1019.1" y="107.9" width="0.8" height="0.8" fill="#4a4a4a"/>
<rect x="1024.2" y="107.9" width="0.8" height="0.8" fill="#4a4a4a"/>
<rect x="1029.4" y="107.9" width="0.8" height="0.8" fill="#4a4a4a"/>
<rect x="1034.6" y="107.9" width="0.8" height="0.8" fill="#4a4a4a"/>
<rect x="1039.7" y="107.9" width="0.8" height="0.8" fill="#4a4a4a"/>
<rect x="1044.9" y="107.9" width="0.8" height="0.8" fill="#4a4a4a"/>
<rect x="1050.1" y="107.9" width="0.8" height="0.8" fill="#4a4a4a"/>
<rect x="1003.6" y="113.1" width="0.8" height="0.8" fill="#4a4a4a"/>
<rect x="1008.7" y="113.1" width="0.8" height="0.8" fill="#4a4a4a"/>
<rect x="1013.9" y="113.1" width="0.8" height="0.8" fill="#4a4a4a"/>
<rect x="1019.1" y="113.1" width="0.8" height="0.8" fill="#4a4a4a"/>
<rect x="1024.2" y="113.1" width="0.8" height="0.8" fill="#4a4a4a"/>
<rect x="1029.4" y="113.1" width="0.8" height="0.8" fill="#4a4a4a"/>
<rect x="1034.6" y="113.1" width="0.8" height="0.8" fill="#4a4a4a"/>
<rect x="1039.7" y="113.1" width="0.8" height="0.8" fill="#4a4a4a"/>
<rect x="1044.9" y="113.1" width="0.8" height="0.8" fill="#4a4a4a"/>
<rect x="1050.1" y="113.1" width="0.8" height="0.8" fill="#4a4a4a"/>
<rect x="1099.9" y="70.6" width="0.8" height="0.8" fill="#4a4a4a"/>
<rect x="1105.0" y="70.6" width="0.8" height="0.8" fill="#4a4a4a"/>
<rect x="1110.2" y="70.6" width="0.8" height="0.8" fill="#4a4a4a"/>
<rect x="1115.4" y="70.6" width="0.8" height="0.8" fill="#4a4a4a"/>
<rect x="1120.5" y="70.6" width="0.8" height="0.8" fill="#4a4a4a"/>
<rect x="1125.7" y="70.6" width="0.8" height="0.8" fill="#4a4a4a"/>
<rect x="1130.9" y="70.6" width="0.8" height="0.8" fill="#4a4a4a"/>
<rect x="1136.0" y="70.6" width="0.8" height="0.8" fill="#4a4a4a"/>
<rect x="1141.2" y="70.6" width="0.8" height="0.8" fill="#4a4a4a"/>
<rect x="1099.9" y="75.8" width="0.8" height="0.8" fill="#4a4a4a"/>
<rect x="1105.0" y="75.8" width="0.8" height="0.8" fill="#4a4a4a"/>
<rect x="1110.2" y="75.8" width="0.8" height="0.8" fill="#4a4a4a"/>
<rect x="1115.4" y="75.8" width="0.8" height="0.8" fill="#4a4a4a"/>
<rect x="1120.5" y="75.8" width="0.8" height="0.8" fill="#4a4a4a"/>
<rect x="1125.7" y="75.8" width="0.8" height="0.8" fill="#4a4a4a"/>
<rect x="1130.9" y="75.8" width="0.8" height="0.8" fill="#4a4a4a"/>
<rect x="1136.0" y="75.8" width="0.8" height="0.8" fill="#4a4a4a"/>
<rect x="1141.2" y="75.8" width="0.8" height="0.8" fill="#4a4a4a"/>
<rect x="1099.9" y="80.9" width="0.8" height="0.8" fill="#4a4a4a"/>
<rect x="1105.0" y="80.9" width="0.8" height="0.8" fill="#4a4a4a"/>
<rect x="1110.2" y="80.9" width="0.8" height="0.8" fill="#4a4a4a"/>
<rect x="1115.4" y="80.9" width="0.8" height="0.8" fill="#4a4a4a"/>
<rect x="1120.5" y="80.9" width="0.8" height="0.8" fill="#4a4a4a"/>
<rect x="1125.7" y="80.9" width="0.8" height="0.8" fill="#4a4a4a"/>
<rect x="1130.9" y="80.9" width="0.8" height="0.8" fill="#4a4a4a"/>
<rect x="1136.0" y="80.9" width="0.8" height="0.8" fill="#4a4a4a"/>
<rect x="1141.2" y="80.9" width="0.8" height="0.8" fill="#4a4a4a"/>
<rect x="1099.9" y="86.1" width="0.8" height="0.8" fill="#4a4a4a"/>
<rect x="1105.0" y="86.1" width="0.8" height="0.8" fill="#4a4a4a"/>
<rect x="1110.2" y="86.1" width="0.8" height="0.8" fill="#4a4a4a"/>
<rect x="1115.4" y="86.1" width="0.8" height="0.8" fill="#4a4a4a"/>
<rect x="1120.5" y="86.1" width="0.8" height="0.8" fill="#4a4a4a"/>
<rect x="1125.7" y="86.1" width="0.8" height="0.8" fill="#4a4a4a"/>
<rect x="1130.9" y="86.1" width="0.8" height="0.8" fill="#4a4a4a"/>
<rect x="1136.0" y="86.1" width="0.8" height="0.8" fill="#4a4a4a"/>
<rect x="1141.2" y="86.1" width="0.8" height="0.8" fill="#4a4a4a"/>
<rect x="1111.6" y="96.4" width="0.8" height="0.8" fill="#4a4a4a"/>
<rect x="1116.8" y="96.4" width="0.8" height="0.8" fill="#4a4a4a"/>
<rect x="1121.9" y="96.4" width="0.8" height="0.8" fill="#4a4a4a"/>
<rect x="1127.1" y="96.4" width="0.8" height="0.8" fill="#4a4a4a"/>
<rect x="1132.3" y="96.4" width="0.8" height="0.8" fill="#4a4a4a"/>
<rect x="1137.4" y="96.4" width="0.8" height="0.8" fill="#4a4a4a"/>
<rect x="1142.6" y="96.4" width="0.8" height="0.8" fill="#4a4a4a"/>
<rect x="1147.8" y="96.4" width="0.8" height="0.8" fill="#4a4a4a"/>
<rect x="1152.9" y="96.4" width="0.8" height="0.8" fill="#4a4a4a"/>
<rect x="1158.1" y="96.4" width="0.8" height="0.8" fill="#4a4a4a"/>
<rect x="1163.3" y="96.4" width="0.8" height="0.8" fill="#4a4a4a"/>
<rect x="1111.6" y="101.6" width="0.8" height="0.8" fill="#4a4a4a"/>
<rect x="1116.8" y="101.6" width="0.8" height="0.8" fill="#4a4a4a"/>
<rect x="1121.9" y="101.6" width="0.8" height="0.8" fill="#4a4a4a"/>
<rect x="1127.1" y="101.6" width="0.8" height="0.8" fill="#4a4a4a"/>
<rect x="1132.3" y="101.6" width="0.8" height="0.8" fill="#4a4a4a"/>
<rect x="1137.4" y="101.6" width="0.8" height="0.8" fill="#4a4a4a"/>
<rect x="1142.6" y="101.6" width="0.8" height="0.8" fill="#4a4a4a"/>
<rect x="1147.8" y="101.6" width="0.8" height="0.8" fill="#4a4a4a"/>
<rect x="1152.9" y="101.6" width="0.8" height="0.8" fill="#4a4a4a"/>
<rect x="1158.1" y="101.6" width="0.8" height="0.8" fill="#4a4a4a"/>
<rect x="1163.3" y="101.6" width="0.8" height="0.8" fill="#4a4a4a"/>
<rect x="1111.6" y="106.8" width="0.8" height="0.8" fill="#4a4a4a"/>
<rect x="1116.8" y="106.8" width="0.8" height="0.8" fill="#4a4a4a"/>
<rect x="1121.9" y="106.8" width="0.8" height="0.8" fill="#4a4a4a"/>
<rect x="1127.1" y="106.8" width="0.8" height="0.8" fill="#4a4a4a"/>
<rect x="1132.3" y="106.8" width="0.8" height="0.8" fill="#4a4a4a"/>
<rect x="1137.4" y="106.8" width="0.8" height="0.8" fill="#4a4a4a"/>
<rect x="1142.6" y="106.8" width="0.8" height="0.8" fill="#4a4a4a"/>
<rect x="1147.8" y="106.8" width="0.8" height="0.8" fill="#4a4a4a"/>
<rect x="1152.9" y="106.8" width="0.8" height="0.8" fill="#4a4a4a"/>
<rect x="1158.1" y="106.8" width="0.8" height="0.8" fill="#4a4a4a"/>
<rect x="1163.3" y="106.8" width="0.8" height="0.8" fill="#4a4a4a"/>
<rect x="1111.6" y="111.9" width="0.8" height="0.8" fill="#4a4a4a"/>
<rect x="1116.8" y="111.9" width="0.8" height="0.8" fill="#4a4a4a"/>
<rect x="1121.9" y="111.9" width="0.8" height="0.8" fill="#4a4a4a"/>
<rect x="1127.1" y="111.9" width="0.8" height="0.8" fill="#4a4a4a"/>
<rect x="1132.3" y="111.9" width="0.8" height="0.8" fill="#4a4a4a"/>
<rect x="1137.4" y="111.9" width="0.8" height="0.8" fill="#4a4a4a"/>
<rect x="1142.6" y="111.9" width="0.8" height="0.8" fill="#4a4a4a"/>
<rect x="1147.8" y="111.9" width="0.8" height="0.8" fill="#4a4a4a"/>
<rect x="1152.9" y="111.9" width="0.8" height="0.8" fill="#4a4a4a"/>
<rect x="1158.1" y="111.9" width="0.8" height="0.8" fill="#4a4a4a"/>
<rect x="1163.3" y="111.9" width="0.8" height="0.8" fill="#4a4a4a"/>
<rect x="1111.6" y="117.1" width="0.8" height="0.8" fill="#4a4a4a"/>
<rect x="1116.8" y="117.1" width="0.8" height="0.8" fill="#4a4a4a"/>
<rect x="1121.9" y="117.1" width="0.8" height="0.8" fill="#4a4a4a"/>
<rect x="1127.1" y="117.1" width="0.8" height="0.8" fill="#4a4a4a"/>
<rect x="1132.3" y="117.1" width="0.8" height="0.8" fill="#4a4a4a"/>
<rect x="1137.4" y="117.1" width="0.8" height="0.8" fill="#4a4a4a"/>
<rect x="1142.6" y="117.1" width="0.8" height="0.8" fill="#4a4a4a"/>
<rect x="1147.8" y="117.1" width="0.8" height="0.8" fill="#4a4a4a"/>
<rect x="1152.9" y="117.1" width="0.8" height="0.8" fill="#4a4a4a"/>
<rect x="1158.1" y="117.1" width="0.8" height="0.8" fill="#4a4a4a"/>
<rect x="1163.3" y="117.1" width="0.8" height="0.8" fill="#4a4a4a"/>
<rect x="1065.1" y="93.4" width="32.9" height="5.9" fill="#0d0d0d"/>
<rect x="1076.8" y="107.5" width="9.4" height="12.9" fill="#050505"/>
<rect x="1065.1" y="118.0" width="32.9" height="3.5" fill="#0d0d0d"/>
<rect x="1012.3" y="129.8" width="43.9" height="18.1" fill="#060606" stroke="#8a8a8a" stroke-width="0.5"/>
<rect x="1044.4" y="130.9" width="11.3" height="16.0" fill="#1a1a1a" stroke="#777" stroke-width="0.4"/>
<path d="M1067.4,138.0 Q1068.6,127.4 1081.5,127.4 Q1095.6,127.4 1096.8,138.0 Q1095.6,149.7 1081.5,149.7 Q1068.6,149.7 1067.4,138.0 Z" fill="#050505" stroke="#888" stroke-width="0.5"/>
<rect x="1108.5" y="130.9" width="30.5" height="16.4" fill="#060606"/>
<rect x="1110.9" y="132.1" width="7.0" height="12.9" fill="#1a1a1a" stroke="#666" stroke-width="0.3"/>
<rect x="930.1" y="79.3" width="45.8" height="43.4" fill="#000"/>
<rect x="930.1" y="125.1" width="45.8" height="4.2" fill="#000"/>
<text x="931.2" y="83.7" font-size="3.3" fill="#a4a4a4" textLength="42.3" lengthAdjust="spacingAndGlyphs">SUPERFICIE RECINTO (brutas)</text>
<text x="931.2" y="88.0" font-size="3.3" fill="#a4a4a4">PABELLON-1</text>
<text x="956.6" y="88.0" font-size="3.3" fill="#a4a4a4">13.407 m2</text>
<text x="931.2" y="92.3" font-size="3.3" fill="#a4a4a4">PABELLON-2</text>
<text x="956.6" y="92.3" font-size="3.3" fill="#a4a4a4">28.172 m2</text>
<text x="931.2" y="96.6" font-size="3.3" fill="#a4a4a4">PABELLON-3</text>
<text x="956.6" y="96.6" font-size="3.3" fill="#a4a4a4">9.545 m2</text>
<text x="931.2" y="100.9" font-size="3.3" fill="#a4a4a4">PABELLON-4</text>
<text x="956.6" y="100.9" font-size="3.3" fill="#a4a4a4">15.408 m2</text>
<text x="931.2" y="105.3" font-size="3.3" fill="#a4a4a4">PABELLON-5</text>
<text x="956.6" y="105.3" font-size="3.3" fill="#a4a4a4">5.828 m2</text>
<text x="931.2" y="109.6" font-size="3.3" fill="#a4a4a4">PABELLON-6</text>
<text x="956.6" y="109.6" font-size="3.3" fill="#a4a4a4">12.668 m2</text>
<text x="931.2" y="113.9" font-size="3.3" fill="#a4a4a4">PABELLON-7</text>
<text x="956.6" y="113.9" font-size="3.3" fill="#a4a4a4">13.518 m2</text>
<text x="931.2" y="118.2" font-size="3.3" fill="#a4a4a4">PABELLON-8</text>
<text x="956.6" y="118.2" font-size="3.3" fill="#a4a4a4">18.067 m2</text>
<text x="931.2" y="122.6" font-size="3.3" fill="#a4a4a4">ZONA-X</text>
<text x="956.6" y="122.6" font-size="3.3" fill="#a4a4a4">2.800 m2</text>
<text x="931.2" y="128.8" font-size="3.3" fill="#a4a4a4">TOTAL</text>
<text x="956.6" y="128.8" font-size="3.3" fill="#a4a4a4">118.011 m2</text>
<rect x="955.2" y="79.3" width="0.4" height="43.4" fill="#333"/>
<rect x="997.0" y="126.2" width="1.4" height="28.2" fill="#3a3a3a"/>
<rect x="1004.0" y="156.3" width="61.1" height="3.3" fill="#050505"/>
<rect x="1098.0" y="153.3" width="30.5" height="5.9" fill="#050505"/>
<rect x="1066.3" y="154.4" width="31.7" height="14.1" fill="#0c0c0c" stroke="#444" stroke-width="0.3"/>
<polygon points="933.6,169.0 954.7,169.0 954.7,215.0 931.2,215.0" fill="#060606"/>
<polygon points="958.9,169.0 989.9,169.0 989.9,215.0 958.9,215.0" fill="#242424" stroke="#a0a0a0" stroke-width="0.5"/>
<rect x="962.9" y="174.4" width="24.7" height="24.7" fill="#232323" stroke="#777" stroke-width="0.3"/>
<polygon points="993.5,170.9 1065.6,170.9 1065.6,215.0 993.5,215.0" fill="#050505" stroke="#999" stroke-width="0.5"/>
<rect x="995.8" y="174.4" width="16.4" height="34.1" fill="#090909" stroke="#9a9a9a" stroke-width="0.4"/>
<rect x="1013.4" y="174.4" width="16.4" height="34.1" fill="#090909" stroke="#9a9a9a" stroke-width="0.4"/>
<rect x="1037.9" y="174.4" width="13.2" height="15.3" fill="#090909" stroke="#9a9a9a" stroke-width="0.4"/>
<path d="M1037.9,174.4 L1051.0,189.7 M1051.0,174.4 L1037.9,189.7" stroke="#8a8a8a" stroke-width="0.35"/>
<rect x="1037.9" y="191.5" width="13.2" height="16.9" fill="#090909" stroke="#9a9a9a" stroke-width="0.4"/>
<path d="M1037.9,191.5 L1051.0,208.4 M1051.0,191.5 L1037.9,208.4" stroke="#8a8a8a" stroke-width="0.35"/>
<rect x="1052.2" y="174.4" width="12.9" height="34.1" fill="#090909" stroke="#9a9a9a" stroke-width="0.4"/>
<rect x="1067.4" y="170.4" width="10.6" height="44.6" fill="#040404"/>
<rect x="1086.2" y="170.4" width="10.6" height="44.6" fill="#040404"/>
<polygon points="1098.0,170.9 1121.5,170.9 1130.9,187.3 1130.9,215.0 1098.0,215.0" fill="#050505" stroke="#888" stroke-width="0.4"/>
<polygon points="931.2,215.0 989.9,215.0 989.9,269.0 997.5,285.5 991.1,290.6 957.1,276.5 927.7,265.5" fill="#050505"/>
<polygon points="934.8,215.0 986.4,215.0 986.4,280.8 950.0,265.5 934.8,264.3" fill="#242424" stroke="#a0a0a0" stroke-width="0.5"/>
<rect x="964.1" y="215.0" width="22.3" height="44.6" fill="#232323" stroke="#8a8a8a" stroke-width="0.4"/>
<polygon points="989.9,215.0 1076.8,215.0 1076.8,308.9 1060.4,313.6 1046.3,324.9 1027.5,316.5 1006.4,297.7 989.9,290.6" fill="#050505"/>
<rect x="995.8" y="215.0" width="69.3" height="32.9" fill="#0b0b0b" stroke="#a0a0a0" stroke-width="0.5"/>
<rect x="1001.7" y="222.0" width="49.3" height="18.8" fill="#111" stroke="#999" stroke-width="0.4"/>
<rect x="1006.4" y="225.6" width="39.9" height="11.7" fill="#0b0b0b" stroke="#aaa" stroke-width="0.35"/>
<path d="M1006.4,231.4 L1046.3,231.4" stroke="#999" stroke-width="0.3"/>
<path d="M1014.6,225.6 L1014.6,237.3" stroke="#999" stroke-width="0.3"/>
<path d="M1022.8,225.6 L1022.8,237.3" stroke="#999" stroke-width="0.3"/>
<path d="M1031.0,225.6 L1031.0,237.3" stroke="#999" stroke-width="0.3"/>
<path d="M1039.3,225.6 L1039.3,237.3" stroke="#999" stroke-width="0.3"/>
<rect x="1024.7" y="228.6" width="4.7" height="5.6" fill="none" stroke="#aaa" stroke-width="0.35"/>
<circle cx="1059.2" cy="231.4" r="4" fill="none" stroke="#999" stroke-width="0.5"/>
<rect x="994.6" y="251.4" width="70.5" height="57.5" fill="#070707" stroke="#888" stroke-width="0.4"/>
<rect x="1076.8" y="215.0" width="7.0" height="98.6" fill="#0e0e0e"/>
<polygon points="1088.6,215.0 1133.2,215.0 1166.1,308.9 1130.9,320.7 1107.4,325.4 1091.4,318.3 1088.6,308.9" fill="#050505"/>
<polygon points="1098.0,215.0 1130.9,215.0 1133.2,273.7 1130.9,299.5 1100.3,292.5 1098.0,285.5" fill="#0b0b0b" stroke="#9a9a9a" stroke-width="0.4"/>
<rect x="1102.2" y="217.8" width="25.1" height="24.2" fill="none" stroke="#8a8a8a" stroke-width="0.4"/>
<rect x="1103.1" y="245.1" width="24.2" height="25.1" fill="none" stroke="#8a8a8a" stroke-width="0.4"/>
<path d="M1102.2,224.4 L1127.3,224.4" stroke="#6a6a6a" stroke-width="0.3" stroke-dasharray="0.8 0.8"/>
<path d="M1102.2,232.6 L1127.3,232.6" stroke="#6a6a6a" stroke-width="0.3" stroke-dasharray="0.8 0.8"/>
<path d="M1102.2,252.6 L1127.3,252.6" stroke="#6a6a6a" stroke-width="0.3" stroke-dasharray="0.8 0.8"/>
<path d="M1102.2,262.0 L1127.3,262.0" stroke="#6a6a6a" stroke-width="0.3" stroke-dasharray="0.8 0.8"/>
<rect x="1101.5" y="177.9" width="23.5" height="23.5" fill="none" stroke="#8a8a8a" stroke-width="0.4"/>
<rect x="1102.7" y="203.7" width="25.8" height="11.3" fill="none" stroke="#8a8a8a" stroke-width="0.4"/>
<path d="M1046.3,324.9 Q1060.4,308.9 1076.8,306.6" fill="none" stroke="#777" stroke-width="0.4"/>
<path d="M1090.9,308.9 Q1095.6,323.0 1119.1,323.0" fill="none" stroke="#777" stroke-width="0.4"/>
<rect x="924.2" y="319.6" width="4.6" height="2.3" fill="#7a7a20" opacity="0.8"/>
<rect x="935.5" y="320.3" width="14.1" height="0.8" fill="#484848"/>
<rect x="924.2" y="326.6" width="4.6" height="2.3" fill="#a0a020" opacity="0.8"/>
<rect x="935.5" y="327.3" width="14.1" height="0.8" fill="#484848"/>
<rect x="924.2" y="333.2" width="4.6" height="2.3" fill="#b0a020" opacity="0.8"/>
<rect x="935.5" y="333.9" width="14.1" height="0.8" fill="#484848"/>
<rect x="924.2" y="339.5" width="4.6" height="2.3" fill="#a09020" opacity="0.8"/>
<rect x="935.5" y="340.2" width="14.1" height="0.8" fill="#484848"/>
<rect x="924.2" y="346.1" width="4.6" height="2.3" fill="#2040a0" opacity="0.8"/>
<rect x="935.5" y="346.8" width="14.1" height="0.8" fill="#484848"/>
<rect x="924.2" y="352.9" width="4.6" height="2.3" fill="#2a4a20" opacity="0.8"/>
<rect x="935.5" y="353.6" width="14.1" height="0.8" fill="#484848"/>
<rect x="924.2" y="360.2" width="4.6" height="2.3" fill="#205050" opacity="0.8"/>
<rect x="935.5" y="360.9" width="44.6" height="0.8" fill="#484848"/>
<rect x="986.4" y="319.4" width="5.2" height="3.6" fill="#203070" opacity="0.85"/>
<rect x="997.0" y="320.8" width="25.8" height="0.8" fill="#464646"/>
<rect x="986.4" y="325.9" width="5.2" height="3.6" fill="#3060b0" opacity="0.85"/>
<rect x="997.0" y="327.3" width="25.8" height="0.8" fill="#464646"/>
<rect x="986.4" y="333.0" width="5.2" height="3.6" fill="#d8c090" opacity="0.85"/>
<rect x="997.0" y="334.4" width="25.8" height="0.8" fill="#464646"/>
<rect x="986.4" y="339.6" width="5.2" height="3.6" fill="#30b0c0" opacity="0.85"/>
<rect x="997.0" y="341.0" width="25.8" height="0.8" fill="#464646"/>
<rect x="986.4" y="346.6" width="5.2" height="3.6" fill="#50c8d8" opacity="0.85"/>
<rect x="997.0" y="348.0" width="25.8" height="0.8" fill="#464646"/>
<rect x="986.4" y="354.6" width="5.2" height="3.6" fill="#20c0d0" opacity="0.85"/>
<rect x="997.0" y="356.0" width="25.8" height="0.8" fill="#464646"/>
<rect x="1030.2" y="321.2" width="6.4" height="6" fill="#40c0d0"/>
<rect x="1056.0" y="318.2" width="6.4" height="6" fill="#40c8d8"/>
<rect x="1070.1" y="318.4" width="6.4" height="6" fill="#40c8d8"/>
<rect x="1083.0" y="301.2" width="6.4" height="6" fill="#40c0d0"/>
<rect x="1074.8" y="305.5" width="6.4" height="6" fill="#d8c090"/>
<rect x="1108.4" y="327.5" width="6.4" height="6" fill="#3070c0"/>
<rect x="1074.5" y="338.3" width="18.8" height="1" fill="#555"/>
<rect x="923.2" y="33.5" width="26.1" height="12.2" fill="#030303" stroke="#4a4a4a" stroke-width="0.4"/>
<ellipse cx="933.0" cy="37.8" rx="0.75" ry="1.7" fill="#e6e6e6" transform="rotate(-26 933.0 39.5)"/>
<ellipse cx="934.6" cy="38.2" rx="0.75" ry="1.7" fill="#e6e6e6" transform="rotate(-13 934.6 39.5)"/>
<ellipse cx="936.2" cy="38.6" rx="0.75" ry="1.7" fill="#e6e6e6" transform="rotate(0 936.2 39.5)"/>
<ellipse cx="937.8" cy="38.2" rx="0.75" ry="1.7" fill="#e6e6e6" transform="rotate(13 937.8 39.5)"/>
<ellipse cx="939.4" cy="37.8" rx="0.75" ry="1.7" fill="#e6e6e6" transform="rotate(26 939.4 39.5)"/>
<rect x="933" y="39.9" width="6.4" height="0.6" fill="#e6e6e6"/>
<text x="936.2" y="43.9" font-size="2.9" font-weight="700" fill="#eeeeee" text-anchor="middle" textLength="19" lengthAdjust="spacingAndGlyphs">Fira Barcelona</text>
</g>
<rect x="896" y="427" width="338" height="1.2" fill="#444"/>
<rect x="896" y="427" width="1.4" height="331" fill="#3c3c3c"/>
<rect x="1233" y="427" width="1" height="331" fill="#3a3a3a"/>
<text x="1179.5" y="464" font-size="11.2" font-weight="700" fill="#eeeeee" stroke="#eeeeee" stroke-width="0.35" text-anchor="middle" textLength="88" lengthAdjust="spacingAndGlyphs">Recinto Montjuïc</text>
<circle cx="1089.4" cy="736.6" r="2.6" fill="#f04040"/>
<rect x="902.3" y="428.6" width="13.1" height="13.1" fill="#f4f4f4" stroke="#aaa" stroke-width="0.5"/>
<path d="M908.9,432.2 L908.9,438.2 M905.9,435.2 L911.9,435.2" stroke="#c0c0e6" stroke-width="0.9"/>
<rect x="902.3" y="443.4" width="13.6" height="14.3" fill="#6a6a6a"/>
<rect x="907.9" y="450.2" width="2.2" height="1" fill="#ddd"/>
<rect x="902.3" y="469.5" width="13.2" height="13.3" fill="#f2f2f2" stroke="#aaa" stroke-width="0.5"/>
<path d="M908.9,472.2 L908.9,480 M905,476.1 L912.8,476.1" stroke="#c0c0e6" stroke-width="0.9"/>
</svg>
</body></html>
